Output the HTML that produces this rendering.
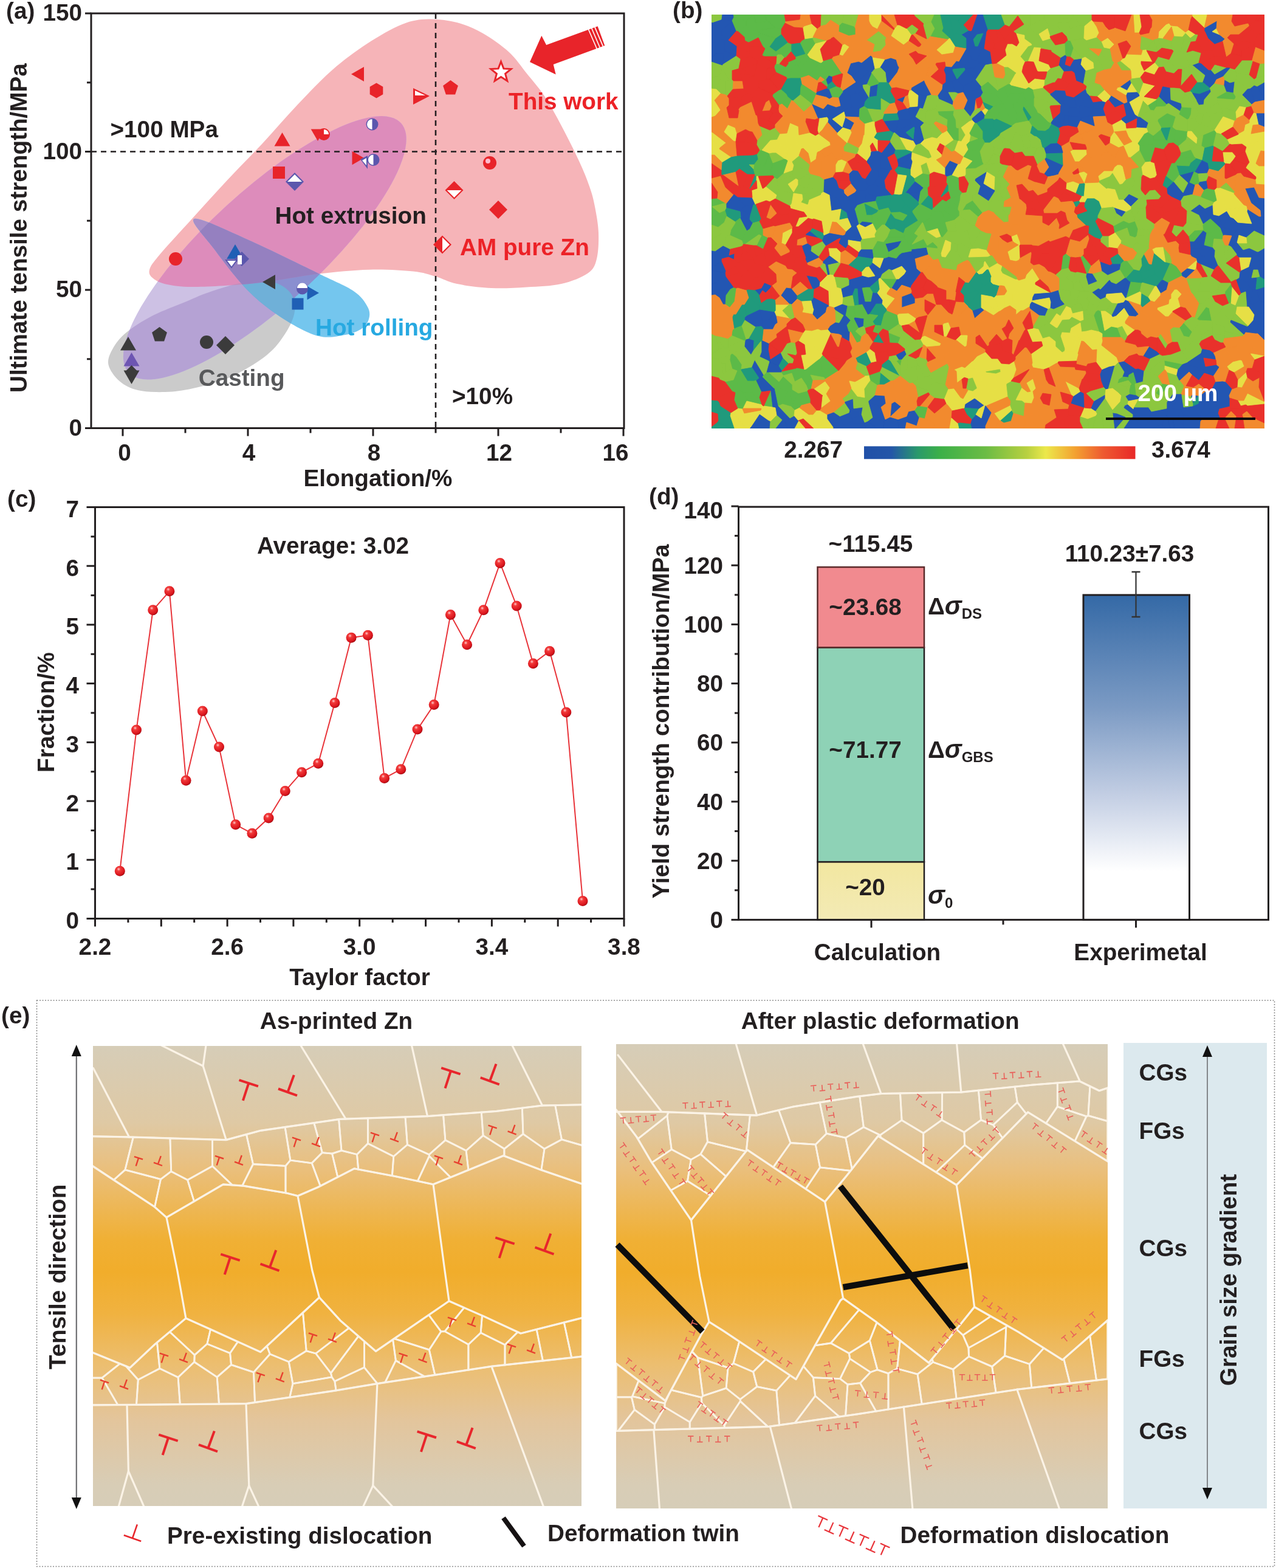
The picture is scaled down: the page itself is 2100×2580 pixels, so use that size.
<!DOCTYPE html>
<html><head><meta charset="utf-8"><title>Figure</title>
<style>html,body{margin:0;padding:0;background:#fff;overflow:hidden;width:2100px;height:2580px;}svg{display:block;}</style></head>
<body><svg width="2100" height="2580" viewBox="0 0 2100 2580" font-family="Liberation Sans, Arial, sans-serif" font-weight="bold">
<rect x="0" y="0" width="2100" height="2580" fill="#fff"/>
<defs>
<clipPath id="cpPink"><path d="M705.0,31.5 C690.0,32.0 678.8,33.2 662.0,40.0 C645.2,46.8 623.2,59.5 604.0,72.0 C584.8,84.5 566.2,98.2 547.0,115.0 C527.8,131.8 508.2,152.8 489.0,173.0 C469.8,193.2 451.2,215.4 432.0,236.0 C412.8,256.6 393.3,275.8 374.0,296.5 C354.7,317.2 334.7,339.4 316.0,360.0 C297.3,380.6 273.7,406.0 262.0,420.0 C250.3,434.0 247.7,437.7 246.0,444.0 C244.3,450.3 247.2,454.0 252.0,458.0 C256.8,462.0 263.5,465.7 275.0,468.0 C286.5,470.3 296.8,472.3 321.0,472.0 C345.2,471.7 386.7,469.5 420.0,466.0 C453.3,462.5 489.7,454.7 521.0,451.0 C552.3,447.3 581.5,444.4 608.0,443.7 C634.5,443.0 661.8,444.7 680.0,446.6 C698.2,448.5 705.0,451.6 717.0,455.0 C729.0,458.4 736.7,463.8 752.0,467.0 C767.3,470.2 789.8,473.1 809.0,474.0 C828.2,474.9 847.8,473.7 867.0,472.5 C886.2,471.3 907.2,470.9 924.0,467.0 C940.8,463.1 957.9,456.2 967.6,449.4 C977.3,442.6 979.1,437.1 982.0,426.0 C984.9,414.9 985.5,397.3 985.0,383.0 C984.5,368.7 981.4,352.5 979.0,340.0 C976.6,327.5 974.8,320.5 970.5,308.0 C966.2,295.5 960.8,281.8 953.0,265.0 C945.2,248.2 933.5,224.8 924.0,207.0 C914.5,189.2 905.5,172.3 896.0,158.0 C886.5,143.7 876.7,133.0 867.0,121.0 C857.3,109.0 850.0,97.0 838.0,86.0 C826.0,75.0 809.3,63.2 795.0,55.0 C780.7,46.8 767.0,40.9 752.0,37.0 C737.0,33.1 720.0,31.0 705.0,31.5 Z"/></clipPath>
<clipPath id="cpBlue"><path d="M320.0,360.0 C329.5,357.7 375.0,380.0 409.0,395.0 C443.0,410.0 495.2,436.0 524.0,450.0 C552.8,464.0 568.5,469.8 582.0,479.0 C595.5,488.2 600.8,497.3 605.0,505.0 C609.2,512.7 608.7,519.0 607.0,525.0 C605.3,531.0 601.5,536.7 595.0,541.0 C588.5,545.3 579.8,549.0 568.0,551.0 C556.2,553.0 540.8,557.3 524.0,553.0 C507.2,548.7 486.2,537.3 467.0,525.0 C447.8,512.7 428.2,498.3 409.0,479.0 C389.8,459.7 366.8,428.8 352.0,409.0 C337.2,389.2 310.5,362.3 320.0,360.0 Z"/></clipPath>
<clipPath id="cpGray"><path d="M178.4,599.8 C176.6,590.8 181.1,581.8 186.0,573.0 C190.9,564.2 197.3,555.8 208.0,547.0 C218.7,538.2 234.3,528.2 250.0,520.0 C265.7,511.8 286.4,504.5 302.0,498.0 C317.6,491.5 327.3,486.5 343.6,481.0 C359.9,475.5 382.6,467.8 400.0,465.0 C417.4,462.2 435.0,461.2 448.0,464.0 C461.0,466.8 471.8,474.0 478.0,482.0 C484.2,490.0 486.3,501.0 485.0,512.0 C483.7,523.0 477.8,535.9 470.0,548.0 C462.2,560.1 453.8,572.5 438.5,584.7 C423.2,596.9 398.2,612.0 378.0,621.0 C357.8,630.0 335.2,635.0 317.5,639.0 C299.8,643.0 287.1,644.5 272.0,645.0 C256.9,645.5 239.4,645.0 226.8,642.0 C214.2,639.0 204.7,634.0 196.6,627.0 C188.5,620.0 180.2,608.8 178.4,599.8 Z"/></clipPath>
<clipPath id="cpPurp"><ellipse cx="435.8" cy="407.8" rx="304" ry="93.8" transform="rotate(-42.5 435.8 407.8)"/></clipPath>
</defs>
<path fill="#cbcbcb" d="M178.4,599.8 C176.6,590.8 181.1,581.8 186.0,573.0 C190.9,564.2 197.3,555.8 208.0,547.0 C218.7,538.2 234.3,528.2 250.0,520.0 C265.7,511.8 286.4,504.5 302.0,498.0 C317.6,491.5 327.3,486.5 343.6,481.0 C359.9,475.5 382.6,467.8 400.0,465.0 C417.4,462.2 435.0,461.2 448.0,464.0 C461.0,466.8 471.8,474.0 478.0,482.0 C484.2,490.0 486.3,501.0 485.0,512.0 C483.7,523.0 477.8,535.9 470.0,548.0 C462.2,560.1 453.8,572.5 438.5,584.7 C423.2,596.9 398.2,612.0 378.0,621.0 C357.8,630.0 335.2,635.0 317.5,639.0 C299.8,643.0 287.1,644.5 272.0,645.0 C256.9,645.5 239.4,645.0 226.8,642.0 C214.2,639.0 204.7,634.0 196.6,627.0 C188.5,620.0 180.2,608.8 178.4,599.8 Z"/>
<path d="M705.0,31.5 C690.0,32.0 678.8,33.2 662.0,40.0 C645.2,46.8 623.2,59.5 604.0,72.0 C584.8,84.5 566.2,98.2 547.0,115.0 C527.8,131.8 508.2,152.8 489.0,173.0 C469.8,193.2 451.2,215.4 432.0,236.0 C412.8,256.6 393.3,275.8 374.0,296.5 C354.7,317.2 334.7,339.4 316.0,360.0 C297.3,380.6 273.7,406.0 262.0,420.0 C250.3,434.0 247.7,437.7 246.0,444.0 C244.3,450.3 247.2,454.0 252.0,458.0 C256.8,462.0 263.5,465.7 275.0,468.0 C286.5,470.3 296.8,472.3 321.0,472.0 C345.2,471.7 386.7,469.5 420.0,466.0 C453.3,462.5 489.7,454.7 521.0,451.0 C552.3,447.3 581.5,444.4 608.0,443.7 C634.5,443.0 661.8,444.7 680.0,446.6 C698.2,448.5 705.0,451.6 717.0,455.0 C729.0,458.4 736.7,463.8 752.0,467.0 C767.3,470.2 789.8,473.1 809.0,474.0 C828.2,474.9 847.8,473.7 867.0,472.5 C886.2,471.3 907.2,470.9 924.0,467.0 C940.8,463.1 957.9,456.2 967.6,449.4 C977.3,442.6 979.1,437.1 982.0,426.0 C984.9,414.9 985.5,397.3 985.0,383.0 C984.5,368.7 981.4,352.5 979.0,340.0 C976.6,327.5 974.8,320.5 970.5,308.0 C966.2,295.5 960.8,281.8 953.0,265.0 C945.2,248.2 933.5,224.8 924.0,207.0 C914.5,189.2 905.5,172.3 896.0,158.0 C886.5,143.7 876.7,133.0 867.0,121.0 C857.3,109.0 850.0,97.0 838.0,86.0 C826.0,75.0 809.3,63.2 795.0,55.0 C780.7,46.8 767.0,40.9 752.0,37.0 C737.0,33.1 720.0,31.0 705.0,31.5 Z" fill="#f6b4b8"/>
<ellipse fill="#cdc1e4" cx="435.8" cy="407.8" rx="304" ry="93.8" transform="rotate(-42.5 435.8 407.8)"/>
<g clip-path="url(#cpGray)"><path d="M705.0,31.5 C690.0,32.0 678.8,33.2 662.0,40.0 C645.2,46.8 623.2,59.5 604.0,72.0 C584.8,84.5 566.2,98.2 547.0,115.0 C527.8,131.8 508.2,152.8 489.0,173.0 C469.8,193.2 451.2,215.4 432.0,236.0 C412.8,256.6 393.3,275.8 374.0,296.5 C354.7,317.2 334.7,339.4 316.0,360.0 C297.3,380.6 273.7,406.0 262.0,420.0 C250.3,434.0 247.7,437.7 246.0,444.0 C244.3,450.3 247.2,454.0 252.0,458.0 C256.8,462.0 263.5,465.7 275.0,468.0 C286.5,470.3 296.8,472.3 321.0,472.0 C345.2,471.7 386.7,469.5 420.0,466.0 C453.3,462.5 489.7,454.7 521.0,451.0 C552.3,447.3 581.5,444.4 608.0,443.7 C634.5,443.0 661.8,444.7 680.0,446.6 C698.2,448.5 705.0,451.6 717.0,455.0 C729.0,458.4 736.7,463.8 752.0,467.0 C767.3,470.2 789.8,473.1 809.0,474.0 C828.2,474.9 847.8,473.7 867.0,472.5 C886.2,471.3 907.2,470.9 924.0,467.0 C940.8,463.1 957.9,456.2 967.6,449.4 C977.3,442.6 979.1,437.1 982.0,426.0 C984.9,414.9 985.5,397.3 985.0,383.0 C984.5,368.7 981.4,352.5 979.0,340.0 C976.6,327.5 974.8,320.5 970.5,308.0 C966.2,295.5 960.8,281.8 953.0,265.0 C945.2,248.2 933.5,224.8 924.0,207.0 C914.5,189.2 905.5,172.3 896.0,158.0 C886.5,143.7 876.7,133.0 867.0,121.0 C857.3,109.0 850.0,97.0 838.0,86.0 C826.0,75.0 809.3,63.2 795.0,55.0 C780.7,46.8 767.0,40.9 752.0,37.0 C737.0,33.1 720.0,31.0 705.0,31.5 Z" fill="#e4a5ad"/></g>
<g clip-path="url(#cpPurp)"><path d="M705.0,31.5 C690.0,32.0 678.8,33.2 662.0,40.0 C645.2,46.8 623.2,59.5 604.0,72.0 C584.8,84.5 566.2,98.2 547.0,115.0 C527.8,131.8 508.2,152.8 489.0,173.0 C469.8,193.2 451.2,215.4 432.0,236.0 C412.8,256.6 393.3,275.8 374.0,296.5 C354.7,317.2 334.7,339.4 316.0,360.0 C297.3,380.6 273.7,406.0 262.0,420.0 C250.3,434.0 247.7,437.7 246.0,444.0 C244.3,450.3 247.2,454.0 252.0,458.0 C256.8,462.0 263.5,465.7 275.0,468.0 C286.5,470.3 296.8,472.3 321.0,472.0 C345.2,471.7 386.7,469.5 420.0,466.0 C453.3,462.5 489.7,454.7 521.0,451.0 C552.3,447.3 581.5,444.4 608.0,443.7 C634.5,443.0 661.8,444.7 680.0,446.6 C698.2,448.5 705.0,451.6 717.0,455.0 C729.0,458.4 736.7,463.8 752.0,467.0 C767.3,470.2 789.8,473.1 809.0,474.0 C828.2,474.9 847.8,473.7 867.0,472.5 C886.2,471.3 907.2,470.9 924.0,467.0 C940.8,463.1 957.9,456.2 967.6,449.4 C977.3,442.6 979.1,437.1 982.0,426.0 C984.9,414.9 985.5,397.3 985.0,383.0 C984.5,368.7 981.4,352.5 979.0,340.0 C976.6,327.5 974.8,320.5 970.5,308.0 C966.2,295.5 960.8,281.8 953.0,265.0 C945.2,248.2 933.5,224.8 924.0,207.0 C914.5,189.2 905.5,172.3 896.0,158.0 C886.5,143.7 876.7,133.0 867.0,121.0 C857.3,109.0 850.0,97.0 838.0,86.0 C826.0,75.0 809.3,63.2 795.0,55.0 C780.7,46.8 767.0,40.9 752.0,37.0 C737.0,33.1 720.0,31.0 705.0,31.5 Z" fill="#dd8cbb"/></g>
<g clip-path="url(#cpPurp)"><path fill="#b5a2d4" d="M178.4,599.8 C176.6,590.8 181.1,581.8 186.0,573.0 C190.9,564.2 197.3,555.8 208.0,547.0 C218.7,538.2 234.3,528.2 250.0,520.0 C265.7,511.8 286.4,504.5 302.0,498.0 C317.6,491.5 327.3,486.5 343.6,481.0 C359.9,475.5 382.6,467.8 400.0,465.0 C417.4,462.2 435.0,461.2 448.0,464.0 C461.0,466.8 471.8,474.0 478.0,482.0 C484.2,490.0 486.3,501.0 485.0,512.0 C483.7,523.0 477.8,535.9 470.0,548.0 C462.2,560.1 453.8,572.5 438.5,584.7 C423.2,596.9 398.2,612.0 378.0,621.0 C357.8,630.0 335.2,635.0 317.5,639.0 C299.8,643.0 287.1,644.5 272.0,645.0 C256.9,645.5 239.4,645.0 226.8,642.0 C214.2,639.0 204.7,634.0 196.6,627.0 C188.5,620.0 180.2,608.8 178.4,599.8 Z"/></g>
<g clip-path="url(#cpPurp)"><g clip-path="url(#cpGray)"><path d="M705.0,31.5 C690.0,32.0 678.8,33.2 662.0,40.0 C645.2,46.8 623.2,59.5 604.0,72.0 C584.8,84.5 566.2,98.2 547.0,115.0 C527.8,131.8 508.2,152.8 489.0,173.0 C469.8,193.2 451.2,215.4 432.0,236.0 C412.8,256.6 393.3,275.8 374.0,296.5 C354.7,317.2 334.7,339.4 316.0,360.0 C297.3,380.6 273.7,406.0 262.0,420.0 C250.3,434.0 247.7,437.7 246.0,444.0 C244.3,450.3 247.2,454.0 252.0,458.0 C256.8,462.0 263.5,465.7 275.0,468.0 C286.5,470.3 296.8,472.3 321.0,472.0 C345.2,471.7 386.7,469.5 420.0,466.0 C453.3,462.5 489.7,454.7 521.0,451.0 C552.3,447.3 581.5,444.4 608.0,443.7 C634.5,443.0 661.8,444.7 680.0,446.6 C698.2,448.5 705.0,451.6 717.0,455.0 C729.0,458.4 736.7,463.8 752.0,467.0 C767.3,470.2 789.8,473.1 809.0,474.0 C828.2,474.9 847.8,473.7 867.0,472.5 C886.2,471.3 907.2,470.9 924.0,467.0 C940.8,463.1 957.9,456.2 967.6,449.4 C977.3,442.6 979.1,437.1 982.0,426.0 C984.9,414.9 985.5,397.3 985.0,383.0 C984.5,368.7 981.4,352.5 979.0,340.0 C976.6,327.5 974.8,320.5 970.5,308.0 C966.2,295.5 960.8,281.8 953.0,265.0 C945.2,248.2 933.5,224.8 924.0,207.0 C914.5,189.2 905.5,172.3 896.0,158.0 C886.5,143.7 876.7,133.0 867.0,121.0 C857.3,109.0 850.0,97.0 838.0,86.0 C826.0,75.0 809.3,63.2 795.0,55.0 C780.7,46.8 767.0,40.9 752.0,37.0 C737.0,33.1 720.0,31.0 705.0,31.5 Z" fill="#c98ab8"/></g></g>
<path d="M320.0,360.0 C329.5,357.7 375.0,380.0 409.0,395.0 C443.0,410.0 495.2,436.0 524.0,450.0 C552.8,464.0 568.5,469.8 582.0,479.0 C595.5,488.2 600.8,497.3 605.0,505.0 C609.2,512.7 608.7,519.0 607.0,525.0 C605.3,531.0 601.5,536.7 595.0,541.0 C588.5,545.3 579.8,549.0 568.0,551.0 C556.2,553.0 540.8,557.3 524.0,553.0 C507.2,548.7 486.2,537.3 467.0,525.0 C447.8,512.7 428.2,498.3 409.0,479.0 C389.8,459.7 366.8,428.8 352.0,409.0 C337.2,389.2 310.5,362.3 320.0,360.0 Z" fill="#74c6ee"/>
<g clip-path="url(#cpBlue)"><ellipse fill="#8a8fd0" cx="435.8" cy="407.8" rx="304" ry="93.8" transform="rotate(-42.5 435.8 407.8)"/></g>
<g clip-path="url(#cpBlue)"><path fill="#6fb0d8" d="M178.4,599.8 C176.6,590.8 181.1,581.8 186.0,573.0 C190.9,564.2 197.3,555.8 208.0,547.0 C218.7,538.2 234.3,528.2 250.0,520.0 C265.7,511.8 286.4,504.5 302.0,498.0 C317.6,491.5 327.3,486.5 343.6,481.0 C359.9,475.5 382.6,467.8 400.0,465.0 C417.4,462.2 435.0,461.2 448.0,464.0 C461.0,466.8 471.8,474.0 478.0,482.0 C484.2,490.0 486.3,501.0 485.0,512.0 C483.7,523.0 477.8,535.9 470.0,548.0 C462.2,560.1 453.8,572.5 438.5,584.7 C423.2,596.9 398.2,612.0 378.0,621.0 C357.8,630.0 335.2,635.0 317.5,639.0 C299.8,643.0 287.1,644.5 272.0,645.0 C256.9,645.5 239.4,645.0 226.8,642.0 C214.2,639.0 204.7,634.0 196.6,627.0 C188.5,620.0 180.2,608.8 178.4,599.8 Z"/></g>
<g clip-path="url(#cpBlue)"><path d="M705.0,31.5 C690.0,32.0 678.8,33.2 662.0,40.0 C645.2,46.8 623.2,59.5 604.0,72.0 C584.8,84.5 566.2,98.2 547.0,115.0 C527.8,131.8 508.2,152.8 489.0,173.0 C469.8,193.2 451.2,215.4 432.0,236.0 C412.8,256.6 393.3,275.8 374.0,296.5 C354.7,317.2 334.7,339.4 316.0,360.0 C297.3,380.6 273.7,406.0 262.0,420.0 C250.3,434.0 247.7,437.7 246.0,444.0 C244.3,450.3 247.2,454.0 252.0,458.0 C256.8,462.0 263.5,465.7 275.0,468.0 C286.5,470.3 296.8,472.3 321.0,472.0 C345.2,471.7 386.7,469.5 420.0,466.0 C453.3,462.5 489.7,454.7 521.0,451.0 C552.3,447.3 581.5,444.4 608.0,443.7 C634.5,443.0 661.8,444.7 680.0,446.6 C698.2,448.5 705.0,451.6 717.0,455.0 C729.0,458.4 736.7,463.8 752.0,467.0 C767.3,470.2 789.8,473.1 809.0,474.0 C828.2,474.9 847.8,473.7 867.0,472.5 C886.2,471.3 907.2,470.9 924.0,467.0 C940.8,463.1 957.9,456.2 967.6,449.4 C977.3,442.6 979.1,437.1 982.0,426.0 C984.9,414.9 985.5,397.3 985.0,383.0 C984.5,368.7 981.4,352.5 979.0,340.0 C976.6,327.5 974.8,320.5 970.5,308.0 C966.2,295.5 960.8,281.8 953.0,265.0 C945.2,248.2 933.5,224.8 924.0,207.0 C914.5,189.2 905.5,172.3 896.0,158.0 C886.5,143.7 876.7,133.0 867.0,121.0 C857.3,109.0 850.0,97.0 838.0,86.0 C826.0,75.0 809.3,63.2 795.0,55.0 C780.7,46.8 767.0,40.9 752.0,37.0 C737.0,33.1 720.0,31.0 705.0,31.5 Z" fill="#a88fc8"/></g>
<g clip-path="url(#cpBlue)"><g clip-path="url(#cpPurp)"><path d="M705.0,31.5 C690.0,32.0 678.8,33.2 662.0,40.0 C645.2,46.8 623.2,59.5 604.0,72.0 C584.8,84.5 566.2,98.2 547.0,115.0 C527.8,131.8 508.2,152.8 489.0,173.0 C469.8,193.2 451.2,215.4 432.0,236.0 C412.8,256.6 393.3,275.8 374.0,296.5 C354.7,317.2 334.7,339.4 316.0,360.0 C297.3,380.6 273.7,406.0 262.0,420.0 C250.3,434.0 247.7,437.7 246.0,444.0 C244.3,450.3 247.2,454.0 252.0,458.0 C256.8,462.0 263.5,465.7 275.0,468.0 C286.5,470.3 296.8,472.3 321.0,472.0 C345.2,471.7 386.7,469.5 420.0,466.0 C453.3,462.5 489.7,454.7 521.0,451.0 C552.3,447.3 581.5,444.4 608.0,443.7 C634.5,443.0 661.8,444.7 680.0,446.6 C698.2,448.5 705.0,451.6 717.0,455.0 C729.0,458.4 736.7,463.8 752.0,467.0 C767.3,470.2 789.8,473.1 809.0,474.0 C828.2,474.9 847.8,473.7 867.0,472.5 C886.2,471.3 907.2,470.9 924.0,467.0 C940.8,463.1 957.9,456.2 967.6,449.4 C977.3,442.6 979.1,437.1 982.0,426.0 C984.9,414.9 985.5,397.3 985.0,383.0 C984.5,368.7 981.4,352.5 979.0,340.0 C976.6,327.5 974.8,320.5 970.5,308.0 C966.2,295.5 960.8,281.8 953.0,265.0 C945.2,248.2 933.5,224.8 924.0,207.0 C914.5,189.2 905.5,172.3 896.0,158.0 C886.5,143.7 876.7,133.0 867.0,121.0 C857.3,109.0 850.0,97.0 838.0,86.0 C826.0,75.0 809.3,63.2 795.0,55.0 C780.7,46.8 767.0,40.9 752.0,37.0 C737.0,33.1 720.0,31.0 705.0,31.5 Z" fill="#9580c0"/></g></g>
<line x1="150" y1="249.5" x2="1027" y2="249.5" stroke="#231f20" stroke-width="2.6" stroke-dasharray="9 7"/>
<line x1="717.0" y1="22" x2="717.0" y2="704" stroke="#231f20" stroke-width="2.6" stroke-dasharray="9 7"/>
<polygon points="578.0,122.0 599.0,109.9 599.0,134.1" fill="#e8242a" stroke="none" stroke-width="0"/>
<polygon points="619.5,136.5 630.3,142.8 630.3,155.2 619.5,161.5 608.7,155.2 608.7,142.8" fill="#e8242a" stroke="none" stroke-width="0"/>
<g><polygon points="680,145 707,158 680,172" fill="#e8242a"/><polygon points="683,149 700,157 683,157" fill="#fff"/></g>
<polygon points="741.5,132.0 753.9,141.0 749.1,155.5 733.9,155.5 729.1,141.0" fill="#e8242a" stroke="none" stroke-width="0"/>
<polygon points="824.5,101.5 828.9,112.9 841.1,113.6 831.6,121.3 834.8,133.2 824.5,126.5 814.2,133.2 817.4,121.3 807.9,113.6 820.1,112.9" fill="#fff" stroke="#e8242a" stroke-width="3"/>
<polygon points="464.5,218.0 477.5,240.5 451.5,240.5" fill="#e8242a" stroke="none" stroke-width="0"/>
<polygon points="523.0,232.0 511.7,212.5 534.3,212.5" fill="#e8242a" stroke="none" stroke-width="0"/>
<circle cx="533" cy="221" r="10" fill="#e8242a"/><path d="M533,221 L533,213 A8,8 0 0 1 541,221 Z" fill="#fff"/>
<g transform="rotate(0 612.5 204.5)"><circle cx="612.5" cy="204.5" r="10" fill="#5b57ad"/><path d="M612.5,196.0 A8.5,8.5 0 0 0 612.5,213.0 Z" fill="#fff"/></g>
<polygon points="599.0,260.0 579.5,271.3 579.5,248.7" fill="#e8242a" stroke="none" stroke-width="0"/>
<polygon points="593,262 605,256 605,278" fill="#5b57ad"/><polygon points="596,264 603,260 603,272" fill="#fff"/>
<g transform="rotate(0 614.5 263)"><circle cx="614.5" cy="263" r="10" fill="#5b57ad"/><path d="M614.5,254.5 A8.5,8.5 0 0 0 614.5,271.5 Z" fill="#fff"/></g>
<rect x="449.0" y="274.0" width="20" height="20" fill="#e8242a"/>
<g transform="rotate(0 485 299)"><polygon points="485,284 500,299 485,314 470,299" fill="#5b57ad"/><polygon points="485,287 497,299 473,299" fill="#fff"/></g>
<circle cx="806" cy="268" r="11" fill="#e8242a"/><circle cx="803" cy="265" r="4" fill="#fbc"/>
<g transform="rotate(0 747.5 313)"><polygon points="747.5,298 762.5,313 747.5,328 732.5,313" fill="#e8242a"/><polygon points="735.5,313 759.5,313 747.5,325" fill="#fff"/></g>
<polygon points="820.0,330.0 835.0,345.0 820.0,360.0 805.0,345.0" fill="#e8242a" stroke="none" stroke-width="0"/>
<g transform="rotate(-90 728 402.5)"><polygon points="728,387.5 743,402.5 728,417.5 713,402.5" fill="#e8242a"/><polygon points="716,402.5 740,402.5 728,414.5" fill="#fff"/></g>
<circle cx="289" cy="426" r="11" fill="#e8242a" stroke="none" stroke-width="0"/>
<polygon points="387.0,402.0 400.9,426.0 373.1,426.0" fill="#1f5fb5" stroke="none" stroke-width="0"/>
<polygon points="398.0,414.0 410.0,426.0 398.0,438.0 386.0,426.0" fill="#5b57ad" stroke="none" stroke-width="0"/>
<polygon points="372,428 390,428 381,440" fill="#fff" stroke="#5b57ad" stroke-width="2"/>
<rect x="391" y="420" width="7" height="15" fill="#fff"/>
<polygon points="432.0,464.0 453.0,451.9 453.0,476.1" fill="#3b3b3b" stroke="none" stroke-width="0"/>
<polygon points="525.0,482.0 505.5,493.3 505.5,470.7" fill="#1f5fb5" stroke="none" stroke-width="0"/>
<circle cx="497.5" cy="475" r="9.5" fill="#5b57ad"/><path d="M489,474 A8.5,8.5 0 0 1 506,474 Z" fill="#fff"/>
<rect x="480.5" y="490.5" width="19" height="19" fill="#1f5fb5"/>
<polygon points="211.0,554.0 224.0,576.5 198.0,576.5" fill="#3b3b3b" stroke="none" stroke-width="0"/>
<polygon points="216.5,580.0 229.5,602.5 203.5,602.5" fill="#6d55b2" stroke="none" stroke-width="0"/>
<polygon points="216.5,632.0 203.5,609.5 229.5,609.5" fill="#3b3b3b" stroke="none" stroke-width="0"/>
<polygon points="216.5,601.0 227.5,612.0 216.5,623.0 205.5,612.0" fill="#3b3b3b" stroke="none" stroke-width="0"/>
<polygon points="262.5,538.0 274.9,547.0 270.1,561.5 254.9,561.5 250.1,547.0" fill="#3b3b3b" stroke="none" stroke-width="0"/>
<circle cx="340" cy="563" r="11" fill="#3b3b3b" stroke="none" stroke-width="0"/>
<polygon points="371.0,553.0 386.0,568.0 371.0,583.0 356.0,568.0" fill="#3b3b3b" stroke="none" stroke-width="0"/>
<polygon points="872.0,102.0 891.3,58.7 899.1,74.0 983.6,43.2 995.3,75.1 910.7,106.0 914.7,122.6" fill="#e8242a" stroke="none" stroke-width="0"/>
<line x1="968.2" y1="47.7" x2="982.5" y2="80.8" stroke="#fff" stroke-width="1.6"/>
<line x1="973.4" y1="45.8" x2="987.6" y2="79.0" stroke="#fff" stroke-width="1.6"/>
<line x1="978.6" y1="43.9" x2="992.8" y2="77.1" stroke="#fff" stroke-width="1.6"/>
<rect x="150" y="22" width="877" height="682.5" fill="none" stroke="#231f20" stroke-width="3"/>
<line x1="140.0" y1="704.5" x2="150.0" y2="704.5" stroke="#231f20" stroke-width="3" />
<line x1="143.0" y1="590.8" x2="150.0" y2="590.8" stroke="#231f20" stroke-width="3" />
<line x1="140.0" y1="477.0" x2="150.0" y2="477.0" stroke="#231f20" stroke-width="3" />
<line x1="143.0" y1="363.2" x2="150.0" y2="363.2" stroke="#231f20" stroke-width="3" />
<line x1="140.0" y1="249.5" x2="150.0" y2="249.5" stroke="#231f20" stroke-width="3" />
<line x1="143.0" y1="135.8" x2="150.0" y2="135.8" stroke="#231f20" stroke-width="3" />
<line x1="140.0" y1="22.0" x2="150.0" y2="22.0" stroke="#231f20" stroke-width="3" />
<line x1="202.0" y1="704.5" x2="202.0" y2="717.5" stroke="#231f20" stroke-width="3" />
<line x1="305.0" y1="704.5" x2="305.0" y2="712.5" stroke="#231f20" stroke-width="3" />
<line x1="408.0" y1="704.5" x2="408.0" y2="717.5" stroke="#231f20" stroke-width="3" />
<line x1="511.0" y1="704.5" x2="511.0" y2="712.5" stroke="#231f20" stroke-width="3" />
<line x1="614.0" y1="704.5" x2="614.0" y2="717.5" stroke="#231f20" stroke-width="3" />
<line x1="717.0" y1="704.5" x2="717.0" y2="712.5" stroke="#231f20" stroke-width="3" />
<line x1="820.0" y1="704.5" x2="820.0" y2="717.5" stroke="#231f20" stroke-width="3" />
<line x1="923.0" y1="704.5" x2="923.0" y2="712.5" stroke="#231f20" stroke-width="3" />
<line x1="1026.0" y1="704.5" x2="1026.0" y2="717.5" stroke="#231f20" stroke-width="3" />
<text x="135.0" y="716.5" font-size="38.7" text-anchor="end" fill="#231f20" >0</text>
<text x="135.0" y="489.0" font-size="38.7" text-anchor="end" fill="#231f20" >50</text>
<text x="135.0" y="261.5" font-size="38.7" text-anchor="end" fill="#231f20" >100</text>
<text x="135.0" y="34.0" font-size="38.7" text-anchor="end" fill="#231f20" >150</text>
<text x="205.0" y="758.0" font-size="38.7" text-anchor="middle" fill="#231f20" >0</text>
<text x="409.5" y="758.0" font-size="38.7" text-anchor="middle" fill="#231f20" >4</text>
<text x="615.5" y="758.0" font-size="38.7" text-anchor="middle" fill="#231f20" >8</text>
<text x="821.5" y="758.0" font-size="38.7" text-anchor="middle" fill="#231f20" >12</text>
<text x="1013.0" y="758.0" font-size="38.7" text-anchor="middle" fill="#231f20" >16</text>
<text x="622.0" y="800.0" font-size="38.7" text-anchor="middle" fill="#231f20" >Elongation/%</text>
<text transform="translate(44,375) rotate(-90)" font-size="38.7" text-anchor="middle" fill="#231f20">Ultimate tensile strength/MPa</text>
<text x="10.0" y="31.0" font-size="38.7" text-anchor="start" fill="#231f20" >(a)</text>
<text x="181.5" y="225.6" font-size="38.7" text-anchor="start" fill="#231f20" >&gt;100 MPa</text>
<text x="744.0" y="665.0" font-size="38.7" text-anchor="start" fill="#231f20" >&gt;10%</text>
<text x="837.0" y="180.0" font-size="38.7" text-anchor="start" fill="#ec2227" >This work</text>
<text x="757.0" y="420.0" font-size="38.7" text-anchor="start" fill="#ec2227" >AM pure Zn</text>
<text x="452.5" y="368.0" font-size="38.7" text-anchor="start" fill="#231f20" >Hot extrusion</text>
<text x="519.0" y="551.7" font-size="38.7" text-anchor="start" fill="#27a9e1" >Hot rolling</text>
<text x="326.7" y="635.0" font-size="38.7" text-anchor="start" fill="#58595b" >Casting</text>
<defs><clipPath id="ebsdclip"><rect x="1171" y="24" width="910" height="681"/></clipPath></defs>
<g clip-path="url(#ebsdclip)"><rect x="1171" y="24" width="910" height="681" fill="#8cc73f"/>
<path d="M1176,69 L1189,65 L1187,51 L1172,37 L1171,36 L1171,69ZM1187,32 L1205,34 L1208,28 L1207,24 L1188,24ZM1205,34 L1187,51 L1189,65 L1192,66 L1199,66 L1212,51ZM1205,34 L1205,34 L1187,32 L1172,37 L1187,51ZM1608,57 L1599,50 L1598,51 L1595,61 L1602,65ZM1599,50 L1608,57 L1618,55 L1624,52 L1625,51 L1626,49 L1618,24 L1608,24ZM1595,61 L1598,51 L1594,50 L1582,57 L1590,63ZM2002,47 L2003,34 L1982,46 L1982,51 L1983,52 L1995,52ZM2012,68 L2016,64 L2007,57 L1995,52 L1983,52 L1988,63 L1999,73ZM1192,66 L1189,65 L1176,69 L1179,87 L1191,87 L1193,84ZM1189,108 L1190,106 L1191,87 L1179,87 L1171,97 L1171,102ZM1212,91 L1193,84 L1191,87 L1190,106 L1212,92ZM1213,76 L1199,66 L1192,66 L1193,84 L1212,91ZM1179,87 L1176,69 L1171,69 L1171,97ZM1599,97 L1595,82 L1590,80 L1590,80 L1578,101 L1587,109ZM1602,65 L1595,61 L1590,63 L1590,80 L1595,82 L1605,76ZM1633,105 L1630,85 L1620,80 L1617,79 L1607,100 L1613,103 L1622,107ZM1620,80 L1624,52 L1618,55 L1609,76 L1617,79ZM1617,79 L1609,76 L1605,76 L1595,82 L1599,97 L1607,100ZM1753,90 L1745,95 L1742,108 L1743,108 L1753,106 L1756,93ZM1359,131 L1362,140 L1370,134 L1370,126 L1364,124ZM1418,103 L1422,111 L1429,118 L1434,120 L1440,113 L1436,94 L1433,91ZM1434,120 L1429,118 L1411,135 L1420,140 L1427,139 L1435,120ZM1400,104 L1394,120 L1401,125 L1422,111 L1418,103 L1413,101ZM1408,135 L1409,135 L1411,135 L1429,118 L1422,111 L1401,125ZM1457,119 L1459,135 L1463,137 L1477,119 L1480,111 L1478,108 L1477,108ZM1450,112 L1457,119 L1477,108ZM1448,111 L1450,112 L1477,108 L1478,108 L1475,98 L1466,95 L1456,98ZM1566,110 L1556,109 L1553,115 L1556,123 L1568,116 L1568,114ZM1556,123 L1556,135 L1567,134 L1575,131 L1575,130 L1568,116ZM1587,109 L1578,101 L1574,100 L1566,110 L1568,114 L1587,112ZM1598,123 L1588,115 L1575,130 L1575,131 L1585,142 L1606,131 L1606,131ZM1622,107 L1613,103 L1604,111 L1598,123 L1606,131ZM1588,115 L1598,123 L1604,111 L1588,114ZM1604,111 L1613,103 L1607,100 L1599,97 L1587,109 L1587,112 L1588,114ZM1764,117 L1768,120 L1779,106 L1781,96 L1781,96 L1767,98 L1761,109ZM1753,106 L1743,108 L1751,118 L1764,117 L1761,109ZM1779,106 L1768,120 L1771,133 L1783,138 L1787,116ZM1989,115 L1977,104 L1973,103 L1962,107 L1983,124ZM1999,122 L1993,115 L1989,115 L1983,124 L1979,135 L1991,145 L1999,137 L2002,131ZM2025,112 L2024,111 L2018,111 L1999,122 L2002,131 L2013,126ZM2014,140 L2014,140 L2024,136 L2015,131ZM1343,153 L1343,156 L1360,160 L1361,145 L1344,151ZM1361,145 L1360,160 L1365,163 L1370,160 L1365,147 L1361,145ZM1390,180 L1402,176 L1399,157 L1387,151 L1380,161 L1383,174ZM1387,149 L1387,151 L1399,157 L1408,153 L1409,135 L1408,135ZM1411,135 L1409,135 L1408,153 L1412,155 L1421,145 L1420,140ZM1421,145 L1412,155 L1424,167 L1430,160ZM1399,157 L1402,176 L1415,179 L1422,175 L1424,167 L1412,155 L1408,153ZM1432,142 L1430,160 L1443,158 L1445,138ZM1475,164 L1486,169 L1490,158ZM1519,179 L1526,158 L1514,156 L1511,157 L1510,175 L1514,178ZM1523,137 L1521,132 L1500,144 L1499,148 L1511,157 L1514,156ZM1526,158 L1533,156 L1523,137 L1514,156ZM1556,135 L1551,139 L1550,147 L1561,152 L1572,152 L1567,134ZM1550,147 L1543,157 L1545,163 L1568,173 L1569,167 L1561,152ZM1567,134 L1572,152 L1577,154 L1585,152 L1585,142 L1575,131ZM1614,159 L1618,152 L1615,146 L1585,152 L1592,165 L1606,163ZM1585,142 L1585,152 L1585,152 L1615,146 L1615,142 L1606,131ZM1606,165 L1606,163 L1592,165 L1586,179 L1597,192 L1604,181ZM1732,152 L1728,154 L1728,156 L1746,173 L1750,170 L1750,169ZM1775,177 L1779,174 L1789,153 L1787,146 L1767,160 L1773,176ZM1750,170 L1761,176 L1773,176 L1767,160 L1755,157 L1750,169ZM1755,157 L1753,149 L1737,148 L1732,152 L1750,169ZM1789,153 L1779,174 L1799,178 L1799,168 L1794,158ZM1799,168 L1799,178 L1800,178 L1816,179 L1820,168 L1814,166ZM1828,158 L1824,164 L1835,177 L1849,171 L1850,170 L1829,157ZM1860,131 L1843,143 L1855,149 L1862,137ZM1855,152 L1853,157 L1855,168 L1859,168 L1876,158 L1875,155 L1871,151ZM1913,142 L1907,159 L1920,172 L1923,170 L1927,164 L1926,144 L1925,144 L1915,142ZM1945,176 L1944,170 L1927,164 L1923,170 L1942,183ZM1969,165 L1969,166 L1973,173 L1981,172 L1982,164 L1974,162ZM1982,164 L1993,151 L1992,147 L1974,154 L1974,162ZM1974,154 L1961,152 L1969,165 L1974,162ZM2032,134 L2024,136 L2014,140 L2018,151 L2030,153ZM2069,142 L2070,143 L2081,143 L2081,135ZM2053,146 L2044,156 L2060,172 L2065,168 L2058,145ZM2070,143 L2081,164 L2081,143ZM2070,143 L2069,142 L2064,140 L2058,145 L2065,168 L2081,165 L2081,164ZM1361,193 L1361,189 L1355,179 L1337,171 L1336,171 L1336,172 L1346,195 L1348,195ZM1376,176 L1362,171 L1355,179 L1361,189ZM1363,196 L1362,201 L1378,219 L1387,210 L1386,209 L1370,196ZM1386,209 L1387,210 L1400,214 L1406,202 L1391,193ZM1390,180 L1383,174 L1376,176 L1361,189 L1361,193 L1363,196 L1370,196 L1389,184ZM1414,193 L1415,179 L1402,176 L1390,180 L1389,184 L1391,192ZM1479,197 L1454,199 L1464,215 L1471,219 L1472,218 L1474,217ZM1499,204 L1497,197 L1479,196 L1479,197 L1474,217 L1475,216ZM1495,178 L1492,178 L1478,182 L1476,186 L1479,196 L1497,197 L1498,195ZM1507,192 L1514,178 L1510,175 L1497,176 L1495,178 L1498,195ZM1504,209 L1499,204 L1475,216 L1491,218ZM1505,210 L1515,208 L1521,202 L1507,192 L1498,195 L1497,197 L1499,204 L1504,209ZM1604,202 L1607,203 L1620,195 L1621,189 L1616,182 L1614,182 L1599,195 L1600,198ZM1758,207 L1773,210 L1778,199 L1779,194 L1778,192 L1758,191ZM1757,190 L1752,190 L1749,208 L1758,207 L1758,191ZM1778,192 L1775,177 L1773,176 L1761,176 L1757,190 L1758,191ZM1761,176 L1750,170 L1746,173 L1745,173 L1744,186 L1752,190 L1757,190ZM1744,186 L1733,196 L1729,202 L1730,204 L1743,211 L1749,208 L1752,190ZM1778,199 L1801,208 L1802,207 L1799,192 L1795,190 L1779,194ZM1778,192 L1779,194 L1795,190 L1800,178 L1799,178 L1779,174 L1775,177ZM1816,179 L1800,178 L1795,190 L1799,192 L1820,191ZM1853,204 L1871,195 L1873,192 L1872,191 L1868,188 L1853,190 L1846,194 L1845,197ZM1868,188 L1859,168 L1855,168 L1850,170 L1849,171 L1849,172 L1853,190ZM1871,210 L1887,211 L1890,202 L1876,192 L1873,192 L1871,195 L1870,210ZM2071,205 L2081,209 L2081,186 L2067,186ZM1461,259 L1472,253 L1474,246 L1465,233 L1451,251 L1452,257ZM1475,216 L1474,217 L1472,218 L1481,226 L1503,232 L1503,229 L1491,218ZM1521,230 L1515,208 L1505,210 L1503,229 L1503,232 L1507,239 L1515,236ZM1721,253 L1749,252 L1750,251 L1747,240 L1740,235 L1729,236 L1718,244ZM1434,279 L1445,281 L1450,277 L1449,261 L1445,262 L1430,271ZM1450,277 L1466,280 L1469,279 L1461,259 L1452,257 L1449,261ZM1430,271 L1445,262 L1432,256 L1426,265 L1427,268ZM1449,261 L1452,257 L1451,251 L1445,248 L1443,248 L1434,249 L1433,250 L1432,256 L1445,262ZM1502,266 L1500,261 L1478,271 L1477,274 L1499,279ZM1501,250 L1476,262 L1478,271 L1500,261 L1501,251ZM1577,270 L1563,264 L1555,276 L1555,288 L1558,291 L1567,288ZM1719,262 L1726,275 L1743,284 L1750,272 L1721,259ZM1742,287 L1743,284 L1726,275 L1718,286 L1724,291 L1735,289ZM1966,283 L1972,286 L1987,285 L1990,278 L1988,268 L1978,263ZM1390,318 L1379,327 L1385,339 L1396,328 L1395,323ZM1381,309 L1368,321 L1379,327 L1390,318 L1389,312ZM1356,295 L1355,316 L1365,321 L1368,321 L1381,309 L1377,297 L1371,291ZM1426,317 L1425,314 L1409,313 L1407,316 L1408,336 L1411,338 L1422,334 L1422,334ZM1419,292 L1412,281 L1407,280 L1403,280 L1397,286 L1398,297 L1400,300ZM1396,328 L1408,336 L1407,316 L1395,323ZM1409,313 L1425,314 L1429,306 L1424,294 L1419,292 L1400,300 L1400,302ZM1437,304 L1458,310 L1456,297 L1446,289ZM1458,310 L1437,304 L1429,306 L1425,314 L1426,317 L1443,324 L1468,321 L1468,321ZM1446,289 L1456,297 L1466,280 L1450,277 L1445,281ZM1434,279 L1424,294 L1429,306 L1437,304 L1446,289 L1445,281ZM1500,318 L1515,315 L1520,309 L1514,304ZM1490,317 L1496,319 L1500,318 L1514,304 L1506,298ZM1512,333 L1515,315 L1500,318 L1496,319ZM1632,310 L1619,302 L1613,306 L1609,319 L1609,319ZM1619,302 L1624,283 L1624,282 L1605,294 L1604,297 L1613,306ZM1627,331 L1638,314 L1636,312 L1632,310 L1609,319ZM1955,301 L1958,300 L1965,283 L1964,282 L1941,288ZM1932,299 L1931,299 L1920,310 L1921,319 L1928,324 L1943,331 L1948,323 L1947,317ZM1947,317 L1948,323 L1963,320 L1967,304 L1958,300 L1955,301ZM1981,313 L1988,310 L1986,297 L1974,299 L1972,303ZM2072,325 L2064,308 L2049,310 L2059,334 L2059,334ZM1238,325 L1214,324 L1225,339 L1240,337 L1243,336ZM1240,337 L1225,339 L1220,345 L1235,354ZM1225,339 L1214,324 L1208,319 L1207,320 L1195,335 L1195,342 L1218,348 L1220,345ZM1220,345 L1218,348 L1219,357 L1234,361 L1235,354ZM1385,339 L1384,344 L1393,350 L1407,344 L1411,338 L1408,336 L1396,328ZM1368,347 L1384,344 L1384,344 L1385,339 L1379,327 L1368,321 L1365,321ZM1401,373 L1410,372 L1414,369 L1408,347 L1407,344 L1393,350 L1395,359ZM1441,331 L1443,324 L1426,317 L1422,334ZM1846,357 L1853,348 L1833,341 L1837,351ZM1861,340 L1874,327 L1858,319 L1849,329ZM2011,372 L2006,355 L1997,353 L1993,358 L1992,360 L2008,375 L2010,373ZM1974,336 L1959,347 L1973,354 L1982,348 L1983,343ZM1973,354 L1980,369 L1992,360 L1993,358 L1982,348ZM1982,348 L1993,358 L1997,353 L1996,337 L1983,343ZM2025,357 L2019,347 L2006,355 L2011,372ZM2060,368 L2072,356 L2053,344 L2052,348ZM2074,346 L2075,356 L2081,358 L2081,337ZM2074,346 L2081,337 L2081,326 L2072,325 L2059,334ZM1219,357 L1218,359 L1229,380 L1234,377 L1239,367 L1234,361ZM1326,387 L1348,392 L1333,380 L1326,385ZM1353,396 L1353,397 L1359,405 L1378,394ZM1383,392 L1387,387 L1365,383 L1356,387 L1353,395 L1353,396 L1378,394ZM1419,393 L1410,372 L1401,373 L1392,381 L1390,386 L1396,395 L1416,398ZM1414,369 L1424,374 L1436,368 L1436,367 L1435,366 L1419,364ZM1965,397 L1979,405 L1982,403 L1986,383 L1980,379ZM2008,375 L2008,375 L2013,388 L2015,387 L2030,379 L2010,373ZM2037,366 L2037,366 L2030,359 L2025,357 L2011,372 L2010,373 L2030,379 L2035,379 L2036,377ZM2022,404 L2026,406 L2036,399 L2039,387 L2035,379 L2027,388 L2021,404ZM2030,379 L2015,387 L2027,388 L2035,379 L2035,379ZM2064,380 L2060,368 L2037,366 L2036,377ZM2035,379 L2035,379 L2039,387 L2051,391 L2064,380 L2064,380 L2036,377ZM2064,380 L2081,388 L2081,358 L2075,356 L2072,356 L2060,368 L2060,368 L2064,380ZM1188,430 L1188,426 L1177,413 L1171,412 L1171,440ZM1202,410 L1190,404 L1177,413 L1188,426 L1199,423 L1200,420ZM1200,420 L1199,423 L1208,427 L1209,417ZM1335,413 L1336,405 L1329,400 L1320,404 L1320,407 L1326,424ZM1325,426 L1328,433 L1348,424 L1348,422 L1335,413 L1326,424ZM1380,400 L1392,409 L1396,403 L1396,395 L1390,386 L1387,387 L1383,392ZM1363,436 L1381,432 L1365,420 L1354,430 L1354,433 L1358,435ZM1438,424 L1436,410 L1417,410 L1413,415 L1411,422 L1437,426ZM1468,445 L1484,438 L1483,432 L1475,425 L1462,422 L1461,423 L1463,443ZM1479,405 L1484,396 L1457,401 L1462,415 L1477,407ZM1463,443 L1461,423 L1454,425 L1448,441 L1452,451ZM1484,438 L1491,446 L1509,442 L1506,426 L1501,419 L1483,432ZM1501,419 L1500,413 L1484,416 L1480,419 L1475,425 L1483,432ZM1506,426 L1528,419 L1525,407 L1500,410 L1500,413 L1501,419ZM1810,430 L1813,446 L1823,453 L1827,436ZM2000,412 L1996,407 L1982,403 L1979,405 L1978,408 L1975,421 L1999,422ZM1975,421 L1978,408 L1959,409 L1959,419 L1961,422 L1969,426 L1969,426ZM2005,437 L1999,422 L1975,421 L1969,426 L2002,439ZM1958,397 L1958,398 L1959,409 L1978,408 L1979,405 L1965,397ZM1969,426 L1969,426 L1969,428 L1970,432 L1976,435 L1998,444 L2002,439ZM2036,399 L2026,406 L2035,418 L2046,411 L2037,400ZM2074,441 L2071,414 L2069,414 L2059,424 L2055,439 L2063,444 L2070,444ZM2071,414 L2074,441 L2081,443 L2081,408ZM2059,424 L2069,414 L2056,408 L2046,411 L2035,418 L2035,420 L2039,424ZM1194,449 L1195,446 L1188,430 L1171,440 L1171,445ZM1179,465 L1181,462 L1171,452 L1171,468ZM1181,462 L1195,455 L1194,449 L1171,445 L1171,452ZM1181,462 L1179,465 L1185,478 L1202,476 L1208,473 L1195,455 L1195,455ZM1177,485 L1185,478 L1179,465 L1171,468 L1171,486ZM1260,482 L1268,474 L1270,470 L1270,470 L1258,465 L1253,474 L1255,478ZM1337,475 L1340,476 L1349,471 L1350,464 L1344,456 L1327,453ZM1362,453 L1366,452 L1363,436 L1358,435ZM1418,453 L1418,454 L1419,474 L1426,473 L1429,456ZM1447,458 L1440,454 L1429,456 L1426,473 L1431,473 L1446,460ZM1419,474 L1419,474 L1418,454 L1397,460 L1397,469 L1407,475 L1411,475ZM1449,458 L1452,451 L1448,441 L1436,432 L1430,439 L1440,454 L1447,458ZM1484,469 L1479,459 L1476,459 L1467,474 L1476,479ZM1484,469 L1499,474 L1500,470 L1488,451 L1479,459ZM1509,442 L1491,446 L1488,451 L1500,470 L1516,448ZM1787,455 L1791,469 L1806,463 L1798,450 L1791,449 L1788,450ZM1827,436 L1823,453 L1823,453 L1843,444 L1845,434 L1830,434ZM1821,482 L1829,464 L1826,460 L1811,476ZM1853,457 L1851,457 L1837,467 L1845,482 L1846,482 L1857,461ZM1861,464 L1857,461 L1846,482 L1852,491 L1854,490ZM1920,477 L1923,466 L1923,465 L1914,460 L1911,461 L1903,471 L1910,483ZM1954,441 L1944,449 L1945,454 L1946,455 L1952,458 L1967,444ZM2034,460 L2042,483 L2050,480 L2057,473 L2052,465 L2039,457ZM2062,476 L2067,476 L2069,456 L2060,457 L2052,465 L2057,473ZM2074,441 L2070,444 L2073,455 L2081,460 L2081,443ZM2052,465 L2060,457 L2063,444 L2055,439 L2042,445 L2040,448 L2039,457ZM1190,501 L1194,501 L1195,486 L1184,490ZM1195,486 L1202,476 L1185,478 L1177,485 L1184,490ZM1253,474 L1242,477 L1250,486 L1255,478ZM1312,492 L1312,486 L1303,475 L1302,474 L1294,473 L1285,486 L1299,500 L1303,501ZM1338,507 L1339,509 L1361,506 L1365,504 L1364,502 L1339,489 L1335,495ZM1386,500 L1372,506 L1374,510 L1388,519 L1392,519 L1395,503ZM1407,475 L1397,469 L1384,475 L1387,490 L1403,486ZM1431,517 L1442,500 L1433,496 L1424,496 L1419,501 L1428,518ZM1419,501 L1424,496 L1419,474 L1411,475 L1413,502ZM1444,482 L1436,481 L1433,496 L1442,500 L1452,500 L1453,494ZM1484,506 L1506,499 L1506,498 L1506,491 L1500,482 L1484,488ZM1600,511 L1604,524 L1620,510 L1615,506ZM1695,500 L1694,505 L1695,508 L1710,519 L1720,520 L1725,508 L1698,496ZM1702,483 L1699,489 L1698,495 L1727,490 L1729,481 L1728,481ZM1727,490 L1729,497 L1746,493 L1742,477 L1729,481 L1729,481ZM1746,493 L1729,497 L1728,507 L1734,509 L1752,501 L1752,500ZM1797,481 L1811,493 L1820,489 L1821,484 L1821,482 L1811,476 L1808,474ZM1821,482 L1821,484 L1845,482 L1837,467 L1829,464ZM1837,520 L1850,507 L1849,497 L1839,499 L1829,519 L1831,522ZM1874,517 L1857,495 L1852,493 L1849,497 L1850,507 L1858,520 L1869,521ZM2062,476 L2057,503 L2073,495 L2068,476 L2067,476ZM2052,505 L2055,505 L2057,503 L2062,476 L2057,473 L2050,480ZM2068,476 L2073,495 L2081,498 L2081,472ZM2055,505 L2064,518 L2081,514 L2081,498 L2073,495 L2057,503ZM1250,509 L1229,519 L1225,523 L1226,527 L1243,538 L1253,537 L1255,529ZM1275,513 L1275,513 L1250,509 L1250,509 L1255,529 L1266,526ZM1276,534 L1280,531 L1278,520 L1275,513 L1266,526ZM1255,529 L1253,537 L1257,542 L1272,542 L1276,534 L1266,526ZM1359,514 L1361,506 L1339,509 L1337,517 L1345,526ZM1375,530 L1366,536 L1362,542 L1367,548 L1381,550 L1380,531ZM1392,519 L1388,519 L1381,531 L1394,535 L1400,527ZM1394,535 L1381,531 L1380,531 L1381,550 L1385,552 L1397,545ZM1421,537 L1422,524 L1407,522 L1405,524 L1413,540ZM2024,530 L2047,551 L2049,549 L2050,547 L2053,537 L2026,526 L2025,527ZM2078,537 L2070,549 L2081,560 L2081,537ZM2064,518 L2062,527 L2073,534 L2078,537 L2081,537 L2081,514ZM2078,537 L2073,534 L2066,549 L2070,549ZM2050,547 L2066,549 L2073,534 L2062,527 L2054,536 L2053,537ZM1240,577 L1241,560 L1232,557 L1228,558 L1226,561 L1225,570 L1236,584 L1236,584ZM1265,575 L1266,566 L1266,565 L1255,560 L1253,562 L1253,579ZM1265,594 L1268,591 L1265,575 L1253,579 L1250,587ZM1397,545 L1385,552 L1385,555 L1398,562 L1399,546ZM1484,592 L1492,583 L1489,576 L1474,584 L1479,592ZM1904,578 L1891,570 L1881,586 L1892,591 L1909,583ZM2001,592 L2001,590 L2000,586 L1997,580 L1991,576 L1981,574 L1978,574 L1976,581 L1981,589ZM1242,592 L1237,604 L1249,622 L1255,620 L1257,617ZM1268,591 L1265,594 L1266,595 L1282,602 L1289,589 L1285,580ZM1266,613 L1286,613 L1287,611 L1287,610 L1282,602 L1266,595 L1261,613ZM1824,640 L1835,601 L1835,601 L1825,603 L1813,608 L1810,616 L1812,627 L1816,637 L1820,641ZM1857,621 L1858,617 L1850,612 L1847,620ZM1881,628 L1883,610 L1873,606 L1869,607 L1865,613 L1870,631ZM1865,613 L1869,607 L1850,594 L1841,596 L1840,596 L1850,612 L1858,617ZM1940,626 L1942,626 L1957,612 L1957,601 L1954,596 L1951,597 L1946,599 L1938,608 L1936,617ZM1982,608 L1982,614 L1997,619 L2007,604 L2002,600 L1984,603ZM1981,589 L1976,581 L1955,595 L1954,596 L1957,601 L1982,608 L1984,603ZM1957,601 L1957,612 L1962,617 L1973,626 L1982,614 L1982,608ZM1249,622 L1244,626 L1253,645 L1268,643 L1268,643 L1273,638 L1255,620ZM1271,670 L1276,671 L1281,668 L1275,639 L1273,638 L1268,643ZM1390,661 L1390,663 L1398,675 L1405,672 L1404,656ZM1456,651 L1440,650 L1429,660 L1429,661 L1450,670 L1458,664ZM1604,655 L1588,665 L1587,671 L1611,673 L1620,667ZM1784,647 L1778,644 L1766,652 L1762,664 L1784,671 L1785,671ZM1803,677 L1819,655 L1819,649 L1800,660 L1795,672ZM1857,660 L1873,657 L1876,654 L1870,650 L1859,648 L1852,652ZM1926,672 L1944,674 L1948,670 L1945,651ZM1920,662 L1920,672 L1926,672 L1945,651 L1945,649 L1944,648 L1930,648ZM1987,662 L1994,648 L1992,644 L1986,642 L1976,650 L1972,664 L1984,663ZM1963,664 L1972,651 L1962,649 L1960,652ZM2003,667 L2002,651 L1994,648 L1987,662 L1991,674ZM2007,673 L2024,669 L2024,655 L2023,651 L2002,651 L2003,667ZM2012,627 L2000,628 L1992,644 L1994,648 L2002,651 L2023,651 L2028,640 L2017,628ZM1293,694 L1287,691 L1276,705 L1295,705ZM1234,704 L1234,705 L1267,705 L1268,693 L1264,691 L1236,702ZM1264,691 L1250,681 L1236,702ZM1307,684 L1300,688 L1293,694 L1295,705 L1308,705 L1315,692 L1314,692ZM1300,688 L1281,668 L1281,668 L1276,671 L1278,683 L1287,691 L1293,694ZM1381,684 L1372,678 L1372,678 L1361,682 L1361,689 L1371,703ZM1402,694 L1402,689 L1397,679 L1382,685 L1388,699ZM1388,699 L1382,685 L1381,684 L1371,703 L1371,705 L1385,705ZM1405,697 L1402,694 L1388,699 L1385,705 L1405,705ZM1418,682 L1420,670 L1405,672 L1398,675 L1397,679 L1402,689ZM1423,696 L1405,697 L1405,705 L1424,705ZM1428,693 L1423,695 L1423,696 L1424,705 L1443,705ZM1402,694 L1405,697 L1423,696 L1423,695 L1418,682 L1402,689ZM1429,662 L1436,687 L1455,693 L1457,690 L1450,670 L1429,661ZM1478,690 L1465,686 L1457,690 L1455,693 L1454,705 L1479,705ZM1455,693 L1436,687 L1428,693 L1443,705 L1454,705ZM1467,664 L1465,686 L1483,669 L1473,661 L1472,661ZM1492,695 L1492,686 L1492,685 L1478,690 L1479,705 L1490,705ZM1509,700 L1492,686 L1492,695 L1509,701ZM1513,687 L1505,675 L1495,677 L1492,685 L1492,686 L1509,700ZM1615,688 L1606,682 L1601,688 L1615,692ZM1623,668 L1622,667 L1621,667 L1615,688 L1615,692 L1622,701 L1632,679ZM1601,688 L1599,690 L1597,697 L1599,705 L1622,705 L1622,701 L1615,692ZM1831,680 L1834,705 L1837,705 L1853,686 L1838,680 L1831,679ZM1865,680 L1864,682 L1864,686 L1883,705 L1888,695 L1895,677 L1890,670ZM1889,670 L1866,670 L1865,673 L1865,680 L1890,670ZM1883,705 L1864,686 L1861,687 L1849,705 L1883,705ZM1849,671 L1864,682 L1865,680 L1865,673 L1856,665 L1851,667ZM1913,698 L1896,705 L1917,705ZM1913,698 L1915,690 L1888,695 L1883,705 L1883,705 L1896,705ZM1920,683 L1915,690 L1913,698 L1917,705 L1926,705ZM1895,677 L1888,695 L1915,690 L1920,683 L1921,681 L1920,672ZM1926,705 L1932,705 L1931,690 L1921,681 L1920,683ZM1947,698 L1936,692 L1931,690 L1932,705 L1949,705ZM1920,672 L1921,681 L1931,690 L1936,692 L1944,674 L1944,674 L1926,672 L1920,672ZM1963,668 L1963,668 L1948,670 L1944,674 L1944,674 L1947,682 L1975,691 L1974,687ZM1976,693 L1975,691 L1947,682 L1947,698 L1949,705 L1975,705ZM1947,698 L1947,682 L1944,674 L1936,692ZM1984,663 L1972,664 L1963,668 L1974,687ZM2005,680 L2007,673 L2003,667 L1991,674 L1991,678ZM2006,689 L2008,687 L2005,680 L1991,678 L1978,691ZM1975,691 L1976,693 L1978,691 L1991,678 L1991,674 L1987,662 L1984,663 L1974,687Z" fill="#2356b2" stroke="#2356b2" stroke-width="0.8"/>
<path d="M1561,24 L1547,24 L1552,46 L1562,28ZM1569,57 L1573,55 L1582,42 L1576,34 L1563,29ZM1562,28 L1563,29 L1576,34 L1587,24 L1561,24ZM1576,34 L1582,42 L1586,41 L1602,24 L1587,24ZM1569,57 L1563,29 L1562,28 L1552,46 L1550,51 L1563,63ZM1594,50 L1586,41 L1582,42 L1573,55 L1582,57ZM1626,49 L1640,49 L1644,49 L1654,41 L1648,24 L1618,24ZM1297,70 L1297,70 L1286,56 L1276,63 L1266,77 L1277,85ZM1326,89 L1326,89 L1317,70 L1302,72 L1302,85 L1309,94ZM1572,77 L1590,80 L1590,80 L1590,63 L1582,57 L1573,55 L1569,57 L1563,63 L1563,63ZM1618,55 L1608,57 L1602,65 L1605,76 L1609,76ZM1587,112 L1568,114 L1568,116 L1575,130 L1588,115 L1588,114ZM1320,138 L1318,128 L1301,128 L1295,129 L1285,147 L1294,155 L1318,143ZM1305,166 L1317,156 L1318,143 L1294,155 L1296,159 L1303,165ZM1361,145 L1365,147 L1377,142 L1370,134 L1362,140 L1361,143ZM1465,171 L1473,169 L1474,164 L1466,150 L1450,162ZM1424,167 L1422,175 L1428,179 L1450,181 L1450,162 L1443,158 L1430,160 L1430,160ZM1443,158 L1450,162 L1450,162 L1466,150 L1468,145 L1463,137 L1459,135 L1447,135 L1445,138ZM1629,181 L1635,175 L1617,167 L1617,169 L1621,178 L1626,181ZM1970,135 L1958,150 L1961,152 L1974,154 L1992,147 L1991,145 L1979,135ZM1476,186 L1455,187 L1452,196 L1454,199 L1479,197 L1479,196ZM1636,197 L1635,210 L1647,219 L1666,208 L1666,207 L1640,195ZM1634,195 L1620,195 L1607,203 L1617,216 L1635,210 L1636,197ZM1683,180 L1692,199 L1693,199 L1698,193 L1686,176 L1684,175ZM1438,226 L1439,227 L1445,231 L1465,232 L1471,219 L1464,215 L1443,218ZM1503,229 L1505,210 L1504,209 L1491,218ZM1617,216 L1617,228 L1621,235 L1629,235 L1645,223 L1645,223 L1647,219 L1635,210ZM1720,215 L1708,214 L1706,225 L1712,230ZM1740,235 L1745,219 L1743,211 L1730,204 L1726,211 L1729,236ZM1715,242 L1718,244 L1729,236 L1726,211 L1720,215 L1712,230ZM1708,214 L1700,207 L1698,207 L1695,219 L1702,224 L1706,225ZM1921,232 L1927,209 L1911,210 L1910,213 L1918,230ZM1187,288 L1190,288 L1211,283 L1217,278 L1217,276 L1214,261 L1187,283ZM1187,280 L1187,283 L1214,261 L1213,256 L1213,256 L1203,258 L1188,267ZM1246,253 L1240,255 L1234,271 L1241,271 L1248,262ZM1240,278 L1233,271 L1217,276 L1217,278 L1230,287 L1242,287 L1242,285ZM1217,276 L1233,271 L1234,271 L1240,255 L1213,256 L1214,261ZM1499,279 L1477,274 L1472,280 L1477,287 L1492,289 L1499,288ZM1501,249 L1492,246 L1474,246 L1472,253 L1476,262 L1501,250ZM1721,259 L1750,272 L1750,272 L1749,252 L1721,253ZM1965,283 L1966,283 L1978,263 L1978,263 L1969,260 L1959,268 L1957,273 L1964,282ZM1964,282 L1957,273 L1936,272 L1941,288 L1941,288ZM1988,268 L1995,265 L1998,241 L1997,239 L1982,243 L1978,263 L1978,263ZM2017,269 L2014,266 L1995,265 L1988,268 L1990,278 L2005,282 L2016,271ZM1245,290 L1242,288 L1233,310 L1234,311 L1245,297ZM1499,288 L1492,289 L1484,319 L1490,317 L1506,298 L1505,293ZM1548,323 L1549,325 L1561,315 L1561,305 L1559,303ZM1784,323 L1786,303 L1785,301 L1785,301 L1784,301 L1776,302 L1770,318 L1770,318 L1780,323ZM1913,305 L1920,310 L1931,299 L1919,289 L1918,290ZM1218,348 L1195,342 L1193,346 L1196,356 L1210,365 L1218,359 L1219,357ZM1234,361 L1239,367 L1250,364 L1253,360 L1244,336 L1243,336 L1240,337 L1235,354ZM1395,359 L1393,350 L1384,344 L1384,344 L1381,362ZM1435,354 L1443,350 L1446,346 L1446,346 L1422,334 L1426,354ZM1446,346 L1462,342 L1468,321 L1443,324 L1441,331 L1446,346ZM1466,350 L1481,349 L1490,336 L1480,320 L1471,319 L1468,321 L1468,321 L1462,342 L1466,350ZM1490,317 L1484,319 L1480,320 L1490,336 L1502,347 L1513,336 L1512,333 L1496,319ZM1502,349 L1493,354 L1486,363 L1490,376 L1511,363ZM1490,336 L1481,349 L1493,354 L1502,349 L1502,347ZM1536,342 L1535,327 L1528,321 L1515,336 L1534,346ZM1776,330 L1766,332 L1770,341 L1773,340 L1778,333ZM1792,372 L1803,364 L1807,359 L1807,355 L1789,347 L1772,353 L1773,358 L1787,371ZM1784,340 L1789,347 L1807,355 L1813,342 L1809,331 L1801,326 L1789,326 L1785,333ZM1355,383 L1337,375 L1333,380 L1348,392 L1353,395 L1356,387ZM1456,370 L1465,378 L1472,377 L1473,359 L1466,350 L1466,350ZM1472,377 L1487,384 L1490,376 L1486,363 L1473,359ZM1811,394 L1815,388 L1803,364 L1792,372 L1791,384 L1802,391ZM1430,439 L1436,432 L1437,426 L1411,422 L1410,423 L1425,440ZM1425,440 L1410,423 L1409,424 L1396,436 L1418,448ZM1830,434 L1845,434 L1850,429 L1840,417 L1827,425ZM1878,426 L1879,437 L1891,434 L1883,418 L1882,419ZM1899,416 L1895,435 L1900,441 L1917,431ZM1431,473 L1436,481 L1444,482 L1448,476 L1446,460ZM1611,451 L1617,471 L1631,464 L1631,457 L1617,450ZM1606,448 L1594,465 L1607,478 L1610,480 L1617,471 L1611,451 L1608,448ZM1624,443 L1617,450 L1631,457 L1632,455 L1627,443ZM1617,471 L1610,480 L1611,481 L1615,485 L1632,488 L1634,467 L1631,464ZM1880,465 L1880,461 L1877,449 L1875,445 L1866,443 L1853,457 L1857,461 L1861,464 L1879,466ZM1880,461 L1901,451 L1900,441 L1877,449ZM1875,445 L1877,449 L1900,441 L1900,441 L1895,435 L1891,434 L1879,437ZM1901,471 L1903,471 L1911,461 L1901,451 L1880,461 L1880,465ZM1917,431 L1900,441 L1900,441 L1901,451 L1911,461 L1914,460 L1926,433 L1918,431ZM2073,455 L2069,456 L2067,476 L2068,476 L2081,472 L2081,460ZM1229,519 L1225,501 L1221,501 L1211,517 L1225,523ZM1242,477 L1231,476 L1228,477 L1232,490 L1250,503 L1253,498 L1250,486ZM1250,509 L1250,503 L1232,490 L1225,501 L1229,519 L1250,509ZM1277,501 L1276,493 L1270,491 L1262,492 L1253,498 L1250,503 L1250,509 L1275,513 L1277,511ZM1319,496 L1335,495 L1339,489 L1340,476 L1337,475 L1330,475 L1312,486 L1312,492ZM1413,502 L1411,475 L1407,475 L1403,486 L1406,503 L1406,503ZM1452,500 L1442,500 L1431,517 L1445,519 L1455,517 L1460,511 L1459,508ZM1586,486 L1607,478 L1594,465 L1588,464 L1580,480ZM1611,481 L1610,480 L1607,478 L1586,486 L1586,497 L1593,504ZM1615,490 L1615,485 L1611,481 L1593,504 L1593,505 L1600,511 L1615,506ZM1640,486 L1645,470 L1634,467 L1632,488 L1636,490ZM1880,506 L1894,495 L1890,489 L1878,482 L1877,502ZM1211,517 L1207,517 L1205,522 L1208,541 L1221,536 L1226,527 L1225,523ZM1253,562 L1255,560 L1257,542 L1253,537 L1243,538 L1232,557 L1241,560 L1252,562ZM1436,529 L1440,535 L1440,535 L1450,536 L1455,517 L1445,519ZM1252,562 L1241,560 L1240,577ZM1437,563 L1455,565 L1446,549 L1445,549 L1437,562ZM1237,604 L1220,607 L1219,609 L1230,627 L1241,627 L1244,626 L1249,622ZM1282,602 L1287,610 L1298,598 L1289,589ZM1426,579 L1408,589 L1411,596 L1426,603 L1434,597ZM1451,604 L1481,619 L1481,619 L1466,594 L1462,591 L1451,600ZM1455,633 L1466,627 L1449,613 L1447,633ZM1972,664 L1976,650 L1972,651 L1963,664 L1963,668 L1963,668ZM1181,681 L1182,692 L1202,684 L1203,679 L1186,668ZM1180,695 L1171,702 L1171,705 L1205,705ZM1181,659 L1171,658 L1171,678 L1181,681 L1186,668 L1184,662ZM1202,684 L1182,692 L1180,695 L1205,705 L1209,705ZM1597,697 L1580,695 L1576,696 L1578,705 L1599,705ZM1611,673 L1587,671 L1586,672 L1591,682 L1599,690 L1601,688 L1606,682ZM1665,675 L1646,692 L1652,696 L1664,693 L1668,680Z" fill="#209a7c" stroke="#209a7c" stroke-width="0.8"/>
<path d="M1215,52 L1228,42 L1228,34 L1208,28 L1205,34 L1205,34 L1212,51ZM1225,61 L1236,50 L1228,42 L1215,52ZM1244,38 L1241,24 L1228,34 L1228,42 L1236,50 L1247,51ZM1208,28 L1228,34 L1241,24 L1241,24 L1207,24ZM1236,50 L1225,61 L1226,67 L1232,70 L1248,62 L1249,54 L1249,52 L1247,51ZM1260,32 L1276,45 L1286,48 L1292,38 L1293,35 L1291,24 L1259,24ZM1241,24 L1244,38 L1259,35 L1260,32 L1259,24 L1241,24ZM1249,52 L1254,49 L1259,35 L1244,38 L1247,51ZM1276,45 L1260,32 L1259,35 L1254,49ZM1286,56 L1286,48 L1276,45 L1254,49 L1249,52 L1249,54 L1276,63ZM1405,43 L1386,37 L1381,42 L1380,52 L1397,59 L1408,57 L1408,47 L1407,45ZM1552,46 L1547,24 L1537,24 L1532,36 L1538,47 L1550,51ZM1563,63 L1563,63 L1550,51 L1538,47 L1531,60 L1560,65ZM1266,77 L1259,80 L1254,91 L1258,93 L1278,93 L1280,90 L1277,85ZM1276,63 L1249,54 L1248,62 L1255,76 L1259,80 L1266,77ZM1326,89 L1309,94 L1309,97 L1313,107 L1313,108ZM1286,90 L1291,95 L1293,95 L1302,85 L1302,72 L1297,70 L1297,70ZM1280,90 L1286,90 L1297,70 L1277,85ZM1317,70 L1326,89 L1329,90 L1342,72 L1342,72 L1337,62 L1324,64 L1319,67ZM1762,67 L1757,66 L1752,71 L1753,90 L1756,93 L1762,94 L1767,79ZM1277,119 L1294,127 L1293,110 L1283,105 L1277,105 L1275,107 L1274,111ZM1317,113 L1333,95 L1329,90 L1326,89 L1326,89 L1313,108ZM1313,107 L1303,108 L1301,128 L1318,128 L1319,128 L1317,113 L1313,108ZM1309,97 L1297,102 L1297,105 L1303,108 L1313,107ZM1297,105 L1293,110 L1294,127 L1295,129 L1301,128 L1303,108ZM1357,131 L1359,131 L1364,124 L1353,104 L1350,126ZM1353,104 L1352,103 L1350,103 L1331,124 L1345,133 L1350,126ZM1357,131 L1351,135 L1361,143 L1362,140 L1359,131ZM1319,128 L1331,124 L1350,103 L1333,95 L1317,113ZM1364,124 L1370,126 L1386,121 L1369,96 L1355,100 L1352,103 L1353,104ZM1447,135 L1435,120 L1427,139 L1432,142 L1445,138ZM1282,173 L1287,171 L1296,159 L1294,155 L1285,147 L1282,148 L1272,155 L1271,158ZM1303,165 L1296,159 L1287,171 L1296,179ZM1336,171 L1337,171 L1343,156 L1343,153 L1320,138 L1318,143 L1317,156ZM1387,149 L1383,144 L1377,142 L1365,147 L1370,160 L1380,161 L1387,151ZM1643,147 L1642,149 L1639,155 L1650,170 L1651,170 L1651,170 L1654,169 L1659,159 L1652,142ZM1652,142 L1659,159 L1663,153 L1664,140 L1662,138 L1659,138ZM1626,134 L1615,142 L1615,146 L1618,152 L1639,155 L1642,149ZM1639,155 L1618,152 L1614,159 L1617,167 L1635,175 L1650,170ZM1703,160 L1700,147 L1693,143 L1688,146 L1684,151 L1688,166 L1702,163ZM1688,146 L1664,140 L1663,153 L1680,154 L1684,151ZM1663,153 L1659,159 L1654,169 L1666,170 L1674,169 L1680,154ZM1688,166 L1684,175 L1684,175 L1686,176 L1702,174 L1702,163ZM1688,166 L1684,151 L1680,154 L1674,169 L1684,175ZM1920,172 L1907,159 L1903,163 L1903,164 L1903,176 L1918,175ZM1903,164 L1889,173 L1893,181 L1899,182 L1903,176ZM2003,162 L2031,164 L2033,162 L2034,159 L2030,153 L2018,151 L2002,160ZM1428,179 L1422,175 L1415,179 L1414,193 L1414,196 L1423,204 L1437,200ZM1573,197 L1569,189 L1559,197 L1558,208 L1559,212 L1574,210ZM1543,183 L1545,189 L1559,197 L1569,189 L1570,182ZM1634,195 L1629,181 L1626,181 L1621,189 L1620,195ZM1651,170 L1650,170 L1635,175 L1629,181 L1634,195 L1636,197 L1640,195ZM1666,207 L1667,206 L1651,170 L1651,170 L1640,195ZM1702,174 L1686,176 L1698,193 L1708,185 L1707,182ZM1674,169 L1666,170 L1674,189 L1683,180 L1684,175 L1684,175ZM1671,203 L1692,199 L1683,180 L1674,189ZM1666,170 L1654,169 L1651,170 L1667,206 L1671,203 L1674,189ZM1726,211 L1730,204 L1729,202 L1725,200 L1700,207 L1708,214 L1720,215ZM1708,185 L1698,193 L1693,199 L1698,207 L1700,207 L1725,200 L1712,187ZM1906,196 L1905,199 L1911,210 L1927,209 L1930,209 L1935,192 L1921,186ZM1961,178 L1960,177 L1945,176 L1942,183 L1940,188 L1954,197 L1957,195 L1960,188ZM1574,210 L1559,212 L1558,215 L1569,230 L1577,232 L1578,232 L1578,211ZM1593,246 L1613,249 L1621,235 L1617,228 L1609,228 L1595,233 L1590,238ZM1609,228 L1617,228 L1617,216 L1607,203 L1604,202 L1595,219 L1597,223ZM1875,240 L1896,237 L1898,230 L1898,223 L1889,217 L1883,220 L1872,236ZM1923,236 L1931,235 L1932,233 L1935,213 L1930,209 L1927,209 L1921,232ZM1898,230 L1896,237 L1901,243 L1915,246 L1923,236 L1921,232 L1918,230ZM1910,213 L1898,223 L1898,230 L1918,230ZM1932,233 L1931,235 L1939,241 L1952,230 L1954,224 L1954,219ZM1954,216 L1935,213 L1932,233 L1954,219 L1955,216ZM1982,243 L1997,239 L2002,218 L1999,214 L1980,222 L1977,240ZM1241,271 L1240,278 L1242,285 L1252,271 L1248,262ZM1252,271 L1258,273 L1266,253 L1266,252 L1254,247 L1250,247 L1246,253 L1248,262ZM1266,253 L1258,273 L1269,280 L1272,268ZM1291,261 L1272,268 L1269,280 L1272,289 L1272,289 L1295,263 L1294,262ZM1242,285 L1242,287 L1242,288 L1245,290 L1248,290 L1272,289 L1269,280 L1258,273 L1252,271ZM1274,292 L1279,295 L1290,285 L1297,264 L1295,263 L1272,289ZM1600,265 L1617,266 L1613,249 L1593,246 L1585,258ZM1617,266 L1600,265 L1589,277 L1589,278 L1606,277 L1619,270ZM1894,266 L1901,243 L1896,237 L1875,240 L1875,247 L1885,267ZM1931,299 L1932,299 L1941,288 L1936,272 L1933,268 L1928,268 L1928,268 L1919,289ZM1966,258 L1952,260 L1959,268 L1969,260ZM1943,251 L1942,256 L1952,260 L1966,258 L1960,246ZM1957,273 L1959,268 L1952,260 L1942,256 L1933,268 L1936,272ZM1518,285 L1505,293 L1506,298 L1514,304 L1520,309 L1527,309 L1530,306 L1530,287ZM1527,309 L1520,309 L1515,315 L1512,333 L1513,336 L1515,336 L1528,321ZM1564,326 L1581,321 L1584,317 L1579,312 L1561,305 L1561,315 L1564,326ZM1558,291 L1557,300 L1559,303 L1561,305 L1579,312 L1578,292 L1567,288ZM1967,304 L1972,303 L1974,299 L1972,286 L1966,283 L1965,283 L1958,300ZM1998,333 L2003,330 L1999,312 L1988,310 L1981,313 L1976,323 L1977,325ZM1180,326 L1171,327 L1171,339 L1172,340 L1194,334ZM1182,374 L1192,366 L1196,356 L1193,346 L1184,350 L1171,359 L1171,370ZM1184,350 L1172,340 L1171,339 L1171,359ZM1422,334 L1422,334 L1411,338 L1407,344 L1408,347 L1425,355 L1426,354ZM1408,347 L1414,369 L1414,369 L1419,364 L1425,355ZM1425,355 L1419,364 L1435,366 L1435,354 L1426,354ZM1422,334 L1422,334 L1446,346 L1441,331 L1422,334ZM1435,366 L1436,367 L1445,362 L1443,350 L1435,354ZM1462,342 L1446,346 L1443,350 L1445,362 L1452,370 L1456,370 L1466,350ZM1473,359 L1486,363 L1493,354 L1481,349 L1466,350ZM1515,336 L1513,336 L1502,347 L1502,349 L1511,363 L1518,366 L1519,367 L1530,359 L1535,347 L1534,346ZM1535,347 L1551,349 L1554,346 L1559,341 L1557,331 L1551,328 L1536,342 L1534,346ZM1530,359 L1544,369 L1555,366 L1551,349 L1535,347ZM1555,366 L1556,366 L1571,362 L1572,361 L1554,346 L1551,349ZM1572,361 L1579,355 L1579,348 L1577,345 L1559,341 L1554,346ZM1564,326 L1577,342 L1580,330 L1581,321ZM1577,345 L1577,342 L1564,326 L1564,326 L1557,331 L1559,341ZM1590,336 L1584,346 L1596,345 L1600,330ZM1600,329 L1600,330 L1596,345 L1610,357 L1617,350ZM1249,386 L1234,377 L1229,380 L1227,382 L1221,396 L1223,402 L1226,402ZM1227,382 L1210,367 L1203,378 L1201,387 L1221,396ZM1218,359 L1210,365 L1210,367 L1227,382 L1229,380ZM1256,410 L1264,391 L1256,387 L1253,388 L1245,404ZM1253,388 L1256,387 L1256,376 L1250,364 L1239,367 L1234,377 L1249,386ZM1484,396 L1489,393 L1488,390 L1460,390 L1454,398 L1457,401ZM1465,378 L1460,390 L1488,390 L1488,387 L1487,384 L1472,377ZM1445,362 L1436,367 L1436,368 L1442,380 L1452,370ZM1505,384 L1488,387 L1488,390 L1489,393 L1498,403 L1501,402 L1511,388ZM1511,363 L1490,376 L1487,384 L1488,387 L1505,384 L1518,366ZM1501,402 L1498,403 L1500,410 L1525,407 L1525,407 L1526,404 L1520,393ZM1519,367 L1524,380 L1526,381 L1543,376 L1544,369 L1530,359ZM1544,369 L1543,376 L1548,389 L1551,391 L1560,380 L1556,366 L1555,366ZM1834,383 L1835,383 L1855,375 L1858,367 L1856,366 L1849,363 L1832,372ZM1871,388 L1873,377 L1868,364 L1867,364 L1858,367 L1855,375 L1859,388 L1868,391ZM1966,379 L1956,389 L1958,397 L1965,397 L1980,379 L1980,378ZM1998,393 L2012,394 L2013,388 L2008,375 L1991,383ZM1980,379 L1986,383 L1991,383 L2008,375 L2008,375 L1992,360 L1980,369 L1979,371 L1980,378ZM1986,383 L1982,403 L1996,407 L1998,393 L1991,383ZM1454,425 L1461,423 L1462,422 L1462,415 L1457,401 L1454,398 L1444,396 L1436,410 L1438,424ZM1500,410 L1498,403 L1489,393 L1484,396 L1479,405 L1484,416 L1500,413ZM1479,405 L1477,407 L1480,419 L1484,416ZM1480,419 L1477,407 L1462,415 L1462,422 L1475,425ZM1535,398 L1526,404 L1525,407 L1543,409 L1543,406ZM1754,417 L1749,421 L1746,444 L1759,441 L1762,423 L1754,417ZM1791,449 L1796,437 L1782,420 L1778,423 L1788,450 L1788,450ZM1476,459 L1475,459 L1449,458 L1465,475 L1467,474ZM1845,434 L1843,444 L1851,457 L1853,457 L1866,443 L1855,429 L1855,429 L1850,429ZM1879,466 L1861,464 L1854,490 L1876,480ZM1926,433 L1914,460 L1923,465 L1945,454 L1944,449 L1936,438 L1928,433ZM1194,501 L1201,506 L1209,496 L1212,474 L1208,473 L1202,476 L1195,486ZM1406,503 L1395,503 L1392,519 L1400,527 L1405,524 L1407,522 L1406,503ZM1419,474 L1419,474 L1424,496 L1433,496 L1436,481 L1431,473 L1426,473ZM1407,522 L1422,524 L1427,520 L1428,518 L1419,501 L1413,502 L1406,503ZM1985,505 L1970,525 L1973,527 L1994,528 L1994,527 L1990,507ZM2026,467 L2016,480 L2016,484 L2022,499 L2026,499 L2028,472ZM1221,536 L1208,541 L1206,542 L1205,545 L1204,552 L1223,560 L1226,561 L1228,558ZM1424,540 L1440,535 L1436,529 L1427,520 L1422,524 L1421,537ZM1400,546 L1408,545 L1413,540 L1405,524 L1400,527 L1394,535 L1397,545 L1399,546ZM1462,545 L1480,533 L1477,518 L1460,511 L1455,517 L1450,536 L1453,541ZM1445,549 L1446,549 L1453,541 L1450,536 L1440,535 L1436,546ZM1427,520 L1436,529 L1445,519 L1431,517 L1428,518ZM1464,564 L1478,565 L1482,555 L1462,547ZM1814,549 L1818,544 L1812,512 L1807,510 L1803,513 L1800,519 L1809,546ZM1814,555 L1845,555 L1839,539 L1829,537 L1818,544 L1814,549 L1814,554ZM1944,536 L1941,539 L1948,553 L1957,555 L1962,546 L1948,531ZM1410,564 L1416,562 L1418,554 L1408,545 L1400,546ZM1230,627 L1219,609 L1213,610 L1207,625 L1221,636ZM1212,587 L1206,582 L1204,582 L1202,584 L1201,592 L1205,607 L1213,610 L1219,609 L1220,607 L1221,600ZM1255,620 L1273,638 L1275,639 L1279,637 L1282,628 L1266,613 L1261,613 L1257,617ZM1310,606 L1303,614 L1308,628 L1319,622 L1324,608 L1323,607 L1311,605ZM1286,613 L1289,618 L1303,614 L1310,606 L1287,611ZM1327,634 L1335,619 L1334,617 L1327,607 L1324,608 L1319,622ZM1338,626 L1335,619 L1327,634 L1330,642 L1335,640ZM1356,621 L1349,590 L1346,592 L1327,607 L1334,617ZM1380,610 L1380,610 L1355,585 L1354,584 L1349,590 L1356,621 L1358,624ZM1430,618 L1432,626 L1444,634 L1447,633 L1449,613 L1448,611 L1431,617ZM1475,594 L1482,602 L1484,592 L1479,592ZM1857,626 L1857,621 L1847,620 L1841,624 L1839,631ZM1857,626 L1862,632 L1868,632 L1870,631 L1865,613 L1858,617 L1857,621ZM1938,608 L1946,599 L1916,593 L1917,602ZM1221,636 L1207,625 L1193,628 L1205,644 L1210,646 L1219,642ZM1239,645 L1222,646 L1229,656 L1241,650ZM1241,650 L1229,656 L1229,660 L1254,666 L1250,654ZM1210,646 L1208,658 L1214,672 L1222,673 L1223,672 L1229,660 L1229,656 L1222,646 L1219,642ZM1253,645 L1244,626 L1241,627 L1239,645 L1241,650 L1250,654ZM1241,627 L1230,627 L1221,636 L1219,642 L1222,646 L1239,645ZM1271,670 L1268,643 L1268,643 L1257,668ZM1275,639 L1281,668 L1281,668 L1288,665 L1296,644 L1279,637ZM1282,628 L1279,637 L1296,644 L1300,643 L1304,641 L1304,633 L1289,619ZM1300,643 L1296,644 L1288,665 L1302,669 L1304,665ZM1316,671 L1319,667 L1314,648 L1304,665 L1302,669 L1308,675ZM1314,648 L1314,647 L1304,641 L1300,643 L1304,665ZM1319,667 L1334,663 L1334,657 L1329,643 L1314,647 L1314,648ZM1862,632 L1860,634 L1858,644 L1859,648 L1870,650 L1868,632ZM1926,633 L1925,633 L1913,631 L1902,647 L1908,651 L1926,634ZM1514,668 L1510,668 L1505,675 L1513,687 L1522,689 L1527,670Z" fill="#5cba48" stroke="#5cba48" stroke-width="0.8"/>
<path d="M1172,37 L1187,32 L1188,24 L1171,24 L1171,36ZM1350,43 L1359,41 L1367,33 L1366,24 L1351,24ZM1367,33 L1381,42 L1386,37 L1389,24 L1366,24ZM1386,37 L1405,43 L1399,24 L1389,24ZM1405,43 L1407,45 L1413,24 L1399,24ZM1459,62 L1446,51 L1426,66 L1439,73 L1457,66ZM1502,57 L1507,55 L1512,48 L1501,40 L1492,47 L1500,58ZM1538,47 L1532,36 L1520,39 L1519,41 L1525,64 L1526,64 L1527,65 L1531,60ZM1520,39 L1532,36 L1537,24 L1504,24 L1506,27ZM1654,41 L1661,44 L1675,26 L1674,24 L1648,24ZM1686,58 L1694,44 L1694,43 L1685,40 L1668,51 L1669,53 L1672,55ZM1695,42 L1718,30 L1718,24 L1695,24ZM1705,56 L1694,44 L1686,58 L1686,64 L1697,72ZM1694,43 L1695,42 L1695,24 L1674,24 L1675,26 L1685,40ZM1724,47 L1728,60 L1748,53 L1739,41 L1726,42ZM1705,56 L1710,56 L1724,47 L1726,42 L1718,30 L1695,42 L1694,43 L1694,44ZM1718,30 L1726,42 L1739,41 L1742,37 L1744,32 L1744,24 L1718,24ZM1742,37 L1759,38 L1764,29 L1744,32ZM1779,41 L1766,27 L1764,29 L1759,38 L1761,47ZM1761,47 L1759,38 L1742,37 L1739,41 L1748,53 L1755,60ZM1744,32 L1764,29 L1766,27 L1766,24 L1744,24ZM1784,63 L1785,43 L1779,41 L1761,47 L1755,60 L1757,66 L1762,67ZM1797,24 L1766,24 L1766,27 L1779,41 L1785,43 L1797,33ZM1278,93 L1277,105 L1283,105 L1291,95 L1286,90 L1280,90ZM1342,72 L1361,67 L1338,61 L1337,62ZM1449,84 L1458,74 L1457,66 L1439,73 L1436,86ZM1692,101 L1702,78 L1698,74 L1692,76 L1679,93 L1687,102ZM1730,83 L1737,74 L1729,63 L1716,67 L1713,79 L1713,80ZM1702,78 L1713,79 L1716,67 L1710,56 L1705,56 L1697,72 L1698,74ZM1737,74 L1730,83 L1730,85 L1745,95 L1753,90 L1752,71ZM1762,94 L1767,98 L1781,96 L1767,79ZM1788,66 L1784,63 L1762,67 L1767,79 L1781,96 L1781,96 L1786,94 L1792,80ZM1811,67 L1801,80 L1813,81 L1817,78 L1813,68ZM1801,80 L1811,67 L1805,61 L1788,66 L1792,80 L1793,80ZM1792,80 L1786,94 L1799,103 L1808,99 L1808,99 L1808,92 L1793,80ZM1820,98 L1812,84 L1808,92 L1808,99ZM1820,98 L1831,100 L1827,80 L1817,78 L1813,81 L1812,84ZM1886,82 L1898,66 L1878,59 L1876,80 L1880,83ZM1903,86 L1906,84 L1898,65 L1898,65 L1898,66 L1886,82 L1887,83ZM1912,79 L1905,63 L1898,65 L1906,84ZM1928,67 L1914,63 L1906,62 L1905,63 L1912,79 L1929,82ZM1968,68 L1972,57 L1967,56 L1959,62 L1959,69 L1960,69ZM1946,60 L1932,59 L1928,67 L1929,82 L1931,84 L1943,85 L1948,65ZM1959,69 L1948,65 L1943,85 L1950,89 L1953,86 L1960,69ZM1959,62 L1951,54 L1946,60 L1948,65 L1959,69ZM1950,89 L1958,107 L1962,107 L1973,103 L1977,87 L1963,83 L1953,86ZM1190,109 L1189,112 L1200,132 L1205,131 L1205,116ZM1183,126 L1189,112 L1190,109 L1189,108 L1171,102 L1171,127ZM1189,112 L1183,126 L1185,130 L1194,134 L1200,132ZM1179,147 L1185,130 L1183,126 L1171,127 L1171,146ZM1216,112 L1219,97 L1212,92 L1190,106 L1189,108 L1190,109 L1205,116 L1216,113ZM1459,135 L1457,119 L1450,112 L1448,111 L1440,113 L1434,120 L1435,120 L1447,135ZM1606,131 L1615,142 L1626,134 L1637,126 L1633,105 L1633,105 L1622,107 L1606,131ZM1662,138 L1671,122 L1654,123 L1651,129 L1659,138ZM1671,122 L1673,120 L1659,110 L1652,110 L1654,123ZM1651,129 L1638,127 L1643,147 L1652,142 L1659,138ZM1719,131 L1718,142 L1733,136 L1721,127ZM1733,136 L1736,136 L1741,129 L1729,112 L1723,118 L1721,127ZM1741,129 L1747,130 L1751,118 L1743,108 L1742,108 L1729,112 L1729,112ZM1805,120 L1817,115 L1808,99 L1799,103 L1800,112ZM1808,99 L1817,115 L1828,113 L1834,103 L1831,100 L1820,98 L1808,99ZM1787,116 L1783,138 L1788,142 L1802,136 L1805,120 L1800,112ZM1844,100 L1838,103 L1846,116 L1861,116 L1861,114ZM1915,110 L1923,101 L1924,98 L1906,93 L1900,103 L1907,111ZM1919,118 L1932,121 L1939,114 L1923,101 L1915,110ZM1943,85 L1931,84 L1924,98 L1923,101 L1939,114 L1943,114 L1945,114 L1957,109 L1958,107 L1950,89ZM1957,109 L1945,114 L1943,142 L1961,122ZM1962,107 L1958,107 L1957,109 L1961,122 L1970,135 L1979,135 L1983,124ZM1999,106 L1993,115 L1999,122 L2018,111ZM2015,131 L2024,136 L2032,134 L2034,130 L2035,120 L2032,114 L2025,112 L2013,126ZM2064,130 L2056,123 L2035,120 L2034,130 L2053,146 L2058,145 L2064,140ZM2062,101 L2060,99 L2044,99 L2032,114 L2035,120 L2056,123ZM2067,128 L2064,130 L2064,140 L2069,142 L2081,135 L2081,125ZM2073,105 L2067,128 L2081,125 L2081,104ZM1200,132 L1194,134 L1194,156 L1197,158 L1206,147 L1207,133 L1205,131ZM1194,134 L1185,130 L1179,147 L1186,154 L1194,156ZM1305,166 L1323,184 L1336,172 L1336,171 L1317,156ZM1420,140 L1421,145 L1430,160 L1430,160 L1432,142 L1427,139ZM1465,171 L1450,162 L1450,162 L1450,181 L1454,186ZM1540,179 L1545,163 L1543,157 L1533,156 L1526,158 L1519,179 L1524,183ZM1561,152 L1569,167 L1577,154 L1572,152ZM1638,127 L1637,126 L1626,134 L1642,149 L1643,147ZM1745,173 L1746,173 L1728,156 L1723,166 L1723,166 L1729,174ZM1728,154 L1717,144 L1700,147 L1703,160 L1723,166 L1728,156ZM1723,166 L1703,160 L1702,163 L1702,174 L1707,182 L1723,166ZM1818,148 L1811,139 L1802,136 L1788,142 L1787,146 L1789,153 L1794,158 L1806,159ZM1871,151 L1875,155 L1882,136 L1877,127 L1862,129 L1861,130 L1860,131 L1862,137ZM1950,152 L1942,145 L1932,144 L1926,144 L1927,164 L1944,170 L1950,154ZM1961,152 L1958,150 L1950,152 L1950,154 L1962,169 L1969,166 L1969,165ZM1960,177 L1962,169 L1950,154 L1944,170 L1945,176ZM1969,179 L1973,173 L1969,166 L1962,169 L1960,177 L1961,178ZM1981,172 L1987,179 L2004,169 L2003,162 L2002,160 L1993,151 L1982,164ZM2044,156 L2053,146 L2034,130 L2032,134 L2030,153 L2034,159ZM1991,145 L1992,147 L1993,151 L2002,160 L2018,151 L2014,140 L2014,140 L1999,137ZM2004,169 L2012,180 L2017,178 L2031,164 L2003,162ZM2040,175 L2051,177 L2059,175 L2060,172 L2044,156 L2034,159 L2033,162ZM1454,186 L1450,181 L1428,179 L1437,200 L1440,201 L1452,196 L1455,187ZM1558,208 L1559,197 L1545,189 L1540,200ZM1530,205 L1534,226 L1542,228 L1551,219 L1537,203ZM1521,202 L1523,202 L1524,183 L1519,179 L1514,178 L1507,192ZM1530,205 L1537,203 L1540,200 L1545,189 L1543,183 L1540,179 L1524,183 L1523,202ZM1582,210 L1595,200 L1573,197 L1574,210 L1578,211ZM1572,180 L1568,173 L1545,163 L1540,179 L1543,183 L1570,182ZM1595,200 L1600,198 L1599,195 L1597,192 L1586,179 L1572,180 L1570,182 L1569,189 L1573,197ZM1609,178 L1604,181 L1597,192 L1599,195 L1614,182 L1613,177ZM1723,166 L1707,182 L1708,185 L1712,187 L1728,176 L1729,174ZM1712,187 L1725,200 L1729,202 L1733,196 L1728,176ZM1876,192 L1893,181 L1889,173 L1881,165 L1872,191 L1873,192ZM1903,176 L1899,182 L1906,196 L1921,186 L1918,175ZM1923,170 L1920,172 L1918,175 L1921,186 L1935,192 L1940,188 L1942,183ZM1890,202 L1905,199 L1906,196 L1899,182 L1893,181 L1876,192ZM1898,223 L1910,213 L1911,210 L1905,199 L1890,202 L1887,211 L1889,217ZM1957,195 L1954,197 L1954,216 L1955,216 L1961,216 L1966,213 L1974,205 L1967,196ZM1940,188 L1935,192 L1930,209 L1935,213 L1954,216 L1954,197ZM1969,179 L1961,178 L1960,188 L1973,186ZM1960,188 L1957,195 L1967,196 L1973,186 L1973,186ZM1998,213 L1999,214 L2013,192 L2011,185 L1989,188ZM1973,186 L1981,187 L1986,185 L1987,179 L1981,172 L1973,173 L1969,179 L1973,186ZM1967,196 L1974,205 L1977,204 L1981,187 L1973,186ZM1998,213 L1989,188 L1986,185 L1981,187 L1977,204ZM1986,185 L1989,188 L2011,185 L2012,180 L2004,169 L1987,179ZM2031,164 L2017,178 L2034,184 L2040,175 L2033,162ZM2013,192 L2032,199 L2034,198 L2035,195 L2034,184 L2017,178 L2012,180 L2011,185ZM1284,220 L1275,210 L1267,214 L1262,221 L1268,231 L1279,230 L1279,230ZM1254,222 L1246,231 L1245,238 L1250,247 L1254,247 L1268,231 L1262,221ZM1267,214 L1250,207 L1254,222 L1262,221ZM1388,242 L1389,249 L1409,254 L1411,253 L1414,245 L1413,243 L1395,234 L1393,235ZM1481,226 L1472,218 L1471,219 L1465,232 L1465,233 L1474,246 L1492,246ZM1515,208 L1521,230 L1534,226 L1530,205 L1523,202 L1521,202ZM1569,230 L1555,240 L1566,250 L1571,248 L1577,232ZM1578,232 L1582,233 L1589,222 L1582,210 L1578,211ZM1609,228 L1597,223 L1595,233ZM1652,245 L1654,244 L1645,223 L1629,235 L1636,243ZM1664,235 L1645,223 L1645,223 L1654,244 L1662,245ZM1623,271 L1635,253 L1636,243 L1629,235 L1621,235 L1613,249 L1617,266 L1619,270 L1622,271ZM1666,208 L1647,219 L1645,223 L1664,235 L1671,218ZM1706,225 L1702,224 L1696,236 L1696,242 L1707,243 L1715,242 L1712,230ZM1686,245 L1680,223 L1671,218 L1664,235 L1662,245 L1670,252 L1682,250ZM1696,236 L1692,221 L1680,223 L1686,245 L1696,242ZM1667,206 L1666,207 L1666,208 L1671,218 L1680,223 L1692,221 L1695,219 L1698,207 L1693,199 L1692,199 L1671,203ZM1695,219 L1692,221 L1696,236 L1702,224ZM1952,230 L1961,245 L1970,239 L1969,236 L1954,224ZM1939,241 L1943,251 L1960,246 L1961,245 L1952,230ZM1970,227 L1979,222 L1966,213 L1961,216ZM1961,245 L1960,246 L1966,258 L1969,260 L1978,263 L1982,243 L1977,240 L1970,239ZM1970,239 L1977,240 L1980,222 L1979,222 L1970,227 L1969,236ZM1980,222 L1999,214 L1999,214 L1998,213 L1977,204 L1974,205 L1966,213 L1979,222ZM2020,229 L2010,220 L2002,218 L1997,239 L1998,241 L2012,249 L2024,237ZM1241,271 L1234,271 L1233,271 L1240,278ZM1271,251 L1266,252 L1266,253 L1272,268 L1291,261 L1277,251ZM1304,280 L1290,285 L1279,295 L1279,295 L1284,296 L1305,289ZM1306,272 L1304,280 L1305,289 L1310,294 L1313,296 L1333,285 L1331,281ZM1333,271 L1315,256 L1303,266 L1306,272 L1331,281ZM1533,259 L1533,257 L1529,248 L1515,236 L1507,239 L1501,249 L1501,250 L1501,251 L1528,261ZM1525,267 L1515,272 L1518,285 L1530,287 L1531,286ZM1589,278 L1589,287 L1601,288 L1606,277ZM1619,270 L1606,277 L1601,288 L1605,294 L1624,282 L1622,271ZM1624,282 L1624,283 L1637,291 L1640,291 L1649,270 L1646,268 L1623,271 L1622,271ZM1651,291 L1660,272 L1649,270 L1640,291 L1645,291ZM1646,257 L1652,245 L1636,243 L1635,253ZM1623,271 L1646,268 L1646,257 L1635,253ZM1686,245 L1682,250 L1687,257 L1701,257 L1707,243 L1696,242ZM1707,243 L1701,257 L1707,271 L1719,262 L1721,259 L1721,253 L1718,244 L1715,242ZM1879,275 L1885,267 L1875,247 L1860,259 L1874,275ZM1879,291 L1881,288 L1879,275 L1874,275 L1862,278 L1861,292 L1868,295ZM1281,314 L1279,295 L1279,295 L1274,292 L1260,307 L1278,321ZM1276,327 L1300,339 L1303,335 L1306,318 L1306,317 L1281,314 L1278,321ZM1306,318 L1320,320 L1326,318 L1326,318 L1327,310 L1313,304 L1306,316 L1306,317ZM1305,289 L1284,296 L1297,303 L1310,294ZM1306,316 L1297,303 L1284,296 L1279,295 L1281,314 L1306,317ZM1348,317 L1330,306 L1327,310 L1326,318ZM1332,329 L1332,329 L1326,318 L1320,320 L1321,328ZM1352,318 L1348,317 L1326,318 L1326,318 L1332,329 L1351,321ZM1313,296 L1313,304 L1327,310 L1330,306 L1334,286 L1333,285ZM1349,290 L1334,286 L1330,306 L1348,317 L1352,318 L1355,316 L1356,295ZM1613,306 L1604,297 L1594,302 L1590,316 L1600,322 L1609,319ZM1589,287 L1587,290 L1594,302 L1604,297 L1605,294 L1601,288ZM1651,329 L1653,331 L1664,325 L1657,309 L1647,313 L1645,314ZM1647,313 L1657,309 L1662,303 L1651,291 L1645,291ZM1645,314 L1647,313 L1645,291 L1640,291 L1637,291 L1636,312 L1638,314ZM1835,312 L1843,303 L1831,284 L1826,290 L1823,310ZM1847,302 L1843,303 L1835,312 L1841,329 L1849,329 L1858,319 L1858,313 L1858,310ZM1826,290 L1809,297 L1808,300 L1808,300 L1821,311 L1823,310ZM1866,305 L1868,295 L1861,292 L1853,295 L1847,302 L1858,310ZM1858,313 L1879,314 L1878,311 L1866,305 L1858,310ZM1879,291 L1868,295 L1866,305 L1878,311ZM1858,319 L1874,327 L1884,324 L1885,321 L1879,314 L1858,313ZM1885,321 L1884,324 L1887,329 L1907,328 L1911,323 L1901,312 L1892,313ZM1941,288 L1932,299 L1947,317 L1955,301 L1941,288ZM1986,297 L1989,290 L1987,285 L1972,286 L1974,299ZM2032,317 L2032,315 L2018,300 L2007,309 L2031,318ZM1172,340 L1184,350 L1193,346 L1195,342 L1195,335 L1194,334ZM1329,337 L1330,336 L1332,329 L1321,328 L1318,333ZM1580,330 L1577,342 L1577,345 L1579,348 L1584,346 L1590,336ZM1609,319 L1600,322 L1600,329 L1617,350 L1627,346 L1627,332 L1627,331 L1609,319ZM1590,316 L1584,317 L1581,321 L1580,330 L1590,336 L1600,330 L1600,329 L1600,322ZM1579,348 L1579,355 L1600,371 L1605,371 L1610,357 L1596,345 L1584,346ZM1665,340 L1652,340 L1649,345 L1660,354 L1662,353ZM1627,331 L1627,332 L1651,329 L1645,314 L1638,314ZM1649,345 L1636,350 L1636,351 L1652,366 L1660,365 L1660,354ZM1636,350 L1649,345 L1652,340 L1653,331 L1651,329 L1627,332 L1627,346ZM1849,363 L1856,366 L1853,348 L1853,348 L1846,357ZM1837,351 L1833,341 L1832,340 L1813,342 L1807,355 L1807,359 L1831,371ZM1849,363 L1846,357 L1837,351 L1831,371 L1832,372ZM1858,367 L1867,364 L1867,360 L1861,344 L1853,348 L1856,366ZM1876,344 L1867,360 L1867,364 L1868,364 L1887,359 L1886,341ZM1888,336 L1887,329 L1884,324 L1874,327 L1861,340 L1861,342 L1876,344 L1886,341ZM1867,360 L1876,344 L1861,342 L1861,344ZM1943,331 L1944,339 L1945,340 L1976,327 L1977,325 L1976,323 L1963,320 L1948,323ZM1980,369 L1973,354 L1959,347 L1953,347 L1952,366 L1979,371ZM1974,336 L1976,327 L1945,340 L1953,347 L1959,347ZM1996,337 L1998,333 L1977,325 L1976,327 L1974,336 L1983,343ZM1177,413 L1190,404 L1196,388 L1188,384 L1171,394 L1171,412ZM1223,404 L1223,402 L1221,396 L1201,387 L1196,388 L1190,404 L1202,410 L1219,406ZM1201,387 L1203,378 L1192,366 L1182,374 L1188,384 L1196,388ZM1188,384 L1182,374 L1171,370 L1171,394ZM1210,367 L1210,365 L1196,356 L1192,366 L1203,378ZM1240,404 L1245,404 L1253,388 L1249,386 L1226,402ZM1444,396 L1440,390 L1419,393 L1416,398 L1417,410 L1436,410ZM1456,370 L1452,370 L1442,380 L1439,386 L1440,390 L1444,396 L1454,398 L1460,390 L1465,378ZM1511,388 L1501,402 L1520,393 L1520,389ZM1524,380 L1519,367 L1518,366 L1505,384 L1511,388 L1520,389ZM1551,391 L1548,389 L1541,391 L1535,398 L1543,406 L1552,392ZM1520,393 L1526,404 L1535,398 L1541,391 L1526,381 L1524,380 L1520,389ZM1592,379 L1600,371 L1579,355 L1572,361 L1571,362 L1574,380 L1576,381 L1584,382ZM1576,381 L1574,380 L1560,380 L1551,391 L1552,392 L1556,395 L1565,399 L1567,399ZM1556,366 L1560,380 L1574,380 L1571,362ZM1575,402 L1583,401 L1584,382 L1576,381 L1567,399ZM1632,385 L1631,384 L1623,383 L1610,409 L1624,412ZM1610,409 L1623,383 L1614,379 L1599,407 L1598,410ZM1614,379 L1605,371 L1600,371 L1592,379 L1599,407ZM1599,407 L1592,379 L1584,382 L1583,401 L1598,410 L1598,410ZM1825,388 L1815,388 L1811,394 L1811,398 L1823,408 L1825,407ZM1845,396 L1859,388 L1855,375 L1835,383ZM1859,388 L1845,396 L1844,401 L1862,409 L1863,408 L1870,399 L1868,391ZM1871,388 L1868,391 L1870,399 L1891,407 L1893,386ZM1900,375 L1900,368 L1887,359 L1868,364 L1873,377 L1897,378ZM1873,377 L1871,388 L1893,386 L1897,378ZM1947,378 L1947,373 L1932,370 L1928,382 L1936,390ZM1956,389 L1966,379 L1952,367 L1947,373 L1947,378ZM1979,371 L1952,366 L1952,367 L1966,379 L1980,378ZM2016,403 L2012,394 L1998,393 L1996,407 L2000,412 L2016,404ZM2064,380 L2051,391 L2052,400 L2056,408 L2069,414 L2071,414 L2081,408 L2081,388ZM1359,405 L1359,405 L1353,397 L1336,405 L1335,413 L1348,422ZM1550,422 L1549,417 L1543,409 L1525,407 L1525,407 L1528,419 L1536,428 L1544,426ZM1552,392 L1543,406 L1543,409 L1549,417 L1556,395ZM1556,423 L1550,422 L1544,426 L1550,441 L1574,445 L1576,436ZM1556,423 L1576,436 L1585,431 L1575,414 L1564,411ZM1565,399 L1564,411 L1575,414 L1575,402 L1567,399ZM1594,423 L1598,410 L1583,401 L1575,402 L1575,414 L1585,431 L1592,428ZM1595,430 L1600,438 L1619,437 L1620,431ZM1626,422 L1594,423 L1592,428 L1595,430 L1620,431 L1621,430ZM1619,437 L1600,438 L1606,448 L1608,448 L1619,438ZM1628,441 L1642,433 L1633,420 L1630,420 L1626,422 L1621,430ZM1865,426 L1855,429 L1866,443 L1875,445 L1879,437 L1878,426ZM1870,399 L1863,408 L1871,416 L1882,419 L1883,418 L1892,408 L1891,407ZM1871,416 L1865,426 L1878,426 L1882,419ZM1926,433 L1928,433 L1929,431 L1926,420 L1914,406 L1914,406 L1918,431ZM2018,433 L2035,420 L2035,418 L2026,406 L2022,404 L2017,433ZM2017,433 L2022,404 L2021,404 L2016,403 L2016,404 L2014,434ZM2014,434 L2016,404 L2000,412 L1999,422 L2005,437 L2005,437ZM2037,400 L2046,411 L2056,408 L2052,400ZM1354,433 L1349,439 L1361,453 L1362,453 L1358,435ZM1396,457 L1373,455 L1377,473 L1384,475 L1397,469 L1397,460ZM1366,452 L1372,453 L1384,433 L1383,432 L1381,432 L1363,436ZM1475,459 L1468,445 L1463,443 L1452,451 L1449,458 L1449,458ZM1675,460 L1673,455 L1649,437 L1647,445 L1650,450 L1671,460ZM1770,448 L1762,446 L1755,457 L1766,465ZM1762,446 L1759,441 L1746,444 L1737,452 L1743,458 L1755,457ZM1766,466 L1766,475 L1777,479 L1785,479 L1776,462ZM1787,455 L1788,450 L1788,450 L1773,447 L1770,448 L1766,465 L1766,466 L1776,462ZM1761,478 L1766,475 L1766,466 L1766,465 L1755,457 L1743,458 L1743,476ZM1790,479 L1791,480 L1797,481 L1808,474 L1809,464 L1806,463 L1791,469ZM1806,463 L1809,464 L1824,457 L1823,453 L1823,453 L1813,446 L1798,450ZM1811,476 L1826,460 L1824,457 L1809,464 L1808,474ZM1785,479 L1790,479 L1791,469 L1787,455 L1776,462ZM1829,464 L1837,467 L1851,457 L1843,444 L1823,453 L1824,457 L1826,460ZM1987,455 L1979,456 L1977,457 L1972,479 L1991,479 L1992,454ZM1998,444 L1976,435 L1987,455 L1992,454 L1993,454ZM1972,479 L1977,457 L1952,458 L1960,481 L1963,484ZM2004,476 L2009,465 L1993,454 L1992,454 L1991,479 L1993,482ZM2026,464 L2034,460 L2039,457 L2040,448 L2018,433 L2017,433 L2014,434 L2005,437ZM2026,465 L2009,465 L2004,476 L2016,480 L2026,467ZM2070,444 L2063,444 L2060,457 L2069,456 L2073,455ZM1299,524 L1302,526 L1308,523 L1303,501 L1299,500 L1298,501 L1287,511ZM1403,486 L1387,490 L1386,500 L1395,503 L1406,503ZM1765,516 L1782,512 L1783,510 L1779,500 L1772,499 L1762,507ZM1761,486 L1761,478 L1743,476 L1742,477 L1746,493 L1752,500ZM1734,509 L1739,516 L1745,520 L1755,504 L1752,501ZM1772,496 L1777,479 L1766,475 L1761,478 L1761,486ZM1752,501 L1755,504 L1762,507 L1772,499 L1772,496 L1761,486 L1752,500ZM1803,513 L1807,510 L1806,507 L1792,496 L1789,510ZM1779,500 L1789,492 L1791,480 L1790,479 L1785,479 L1777,479 L1772,496 L1772,499ZM1806,507 L1811,493 L1797,481 L1791,480 L1789,492 L1792,496ZM1789,510 L1792,496 L1789,492 L1779,500 L1783,510ZM1839,499 L1830,498 L1819,512 L1829,519ZM1812,512 L1819,512 L1830,498 L1820,489 L1811,493 L1806,507 L1807,510ZM1878,482 L1890,489 L1901,471 L1880,465 L1879,466 L1876,480ZM1993,482 L1991,479 L1972,479 L1963,484 L1963,484 L1973,499 L1979,499 L1995,486ZM1979,499 L1985,505 L1990,507 L2000,496 L1995,487 L1995,486ZM2000,496 L1990,507 L1994,527 L2009,512 L2012,503ZM1979,499 L1973,499 L1966,522 L1970,525 L1985,505ZM2026,526 L2034,516 L2036,505 L2033,502 L2026,499 L2022,499 L2012,503 L2009,512 L2025,527ZM1995,487 L2016,484 L2016,480 L2004,476 L1993,482 L1995,486ZM2039,486 L2033,502 L2036,505 L2052,505 L2050,480 L2042,483ZM1232,557 L1243,538 L1226,527 L1221,536 L1228,558ZM1388,519 L1374,510 L1375,530 L1380,531 L1381,531ZM1408,545 L1418,554 L1426,548 L1424,540 L1421,537 L1413,540ZM1462,547 L1482,555 L1487,544 L1484,536 L1480,533 L1462,545ZM1739,516 L1734,509 L1728,507 L1725,508 L1720,520 L1724,531 L1728,532ZM1700,537 L1700,540 L1709,542 L1724,531 L1720,520 L1710,519ZM1728,532 L1724,531 L1709,542 L1716,557 L1727,554 L1738,539ZM1748,526 L1740,539 L1748,547 L1761,548 L1763,540 L1760,525ZM1778,528 L1764,521 L1760,525 L1763,540 L1778,531ZM1796,543 L1809,546 L1800,519 L1799,519 L1788,527ZM1788,527 L1799,519 L1782,515 L1783,526ZM1780,546 L1788,545 L1796,543 L1788,527 L1783,526 L1778,528 L1778,531ZM1782,512 L1782,515 L1799,519 L1800,519 L1803,513 L1789,510 L1783,510ZM1847,536 L1839,539 L1845,555 L1852,561 L1856,553ZM1941,539 L1931,538 L1925,543 L1929,563 L1938,563 L1948,553ZM1970,525 L1966,522 L1961,521 L1951,527 L1948,531 L1962,546 L1971,534 L1973,527ZM1977,561 L1978,552 L1971,534 L1962,546 L1957,555 L1963,562 L1974,566ZM1999,559 L2009,564 L2013,564 L2015,557 L2015,552 L1995,549 L1995,552ZM1971,534 L1978,552 L1995,538 L1996,531 L1994,528 L1973,527ZM1995,549 L2015,552 L2016,545 L2015,538 L1996,531 L1995,538ZM1995,552 L1995,549 L1995,538 L1978,552 L1977,561ZM2009,512 L1994,527 L1994,528 L1996,531 L2015,538 L2024,530 L2025,527ZM2047,551 L2024,530 L2015,538 L2016,545 L2046,552ZM2053,537 L2054,536 L2034,516 L2026,526ZM2016,545 L2015,552 L2015,557 L2046,553 L2046,552ZM1198,570 L1223,560 L1204,552 L1198,557ZM1198,572 L1198,570 L1198,557 L1187,554 L1177,552 L1178,554 L1191,572ZM1177,552 L1171,549 L1171,583 L1183,575 L1178,554ZM1178,554 L1183,575 L1191,572ZM1181,590 L1202,584 L1204,582 L1198,572 L1191,572 L1183,575 L1171,583 L1171,589ZM1236,584 L1225,570 L1206,582 L1212,587 L1232,587ZM1232,587 L1212,587 L1221,600ZM1226,561 L1223,560 L1198,570 L1198,572 L1204,582 L1206,582 L1225,570ZM1242,588 L1250,587 L1253,579 L1253,562 L1252,562 L1240,577 L1236,584ZM1289,589 L1298,598 L1305,598 L1307,591 L1296,582 L1287,578 L1285,580 L1285,580ZM1310,585 L1312,581 L1309,564 L1301,563 L1295,565 L1287,578 L1296,582ZM1482,555 L1478,565 L1489,574 L1506,559 L1487,544ZM1495,585 L1518,571 L1520,567 L1515,558 L1506,559 L1489,574 L1489,576 L1492,583 L1494,585ZM1474,584 L1463,586 L1462,591 L1466,594 L1475,594 L1479,592ZM1738,539 L1727,554 L1737,562 L1746,553 L1748,547 L1740,539ZM1753,574 L1746,553 L1737,562 L1737,570 L1748,580 L1752,578ZM1918,574 L1922,567 L1910,549 L1906,555ZM1974,566 L1963,562 L1946,578 L1955,595 L1976,581 L1978,574ZM1948,553 L1938,563 L1943,577 L1946,578 L1963,562 L1957,555ZM1954,596 L1955,595 L1946,578 L1943,577 L1927,583 L1951,597ZM1927,583 L1913,585 L1915,590 L1916,593 L1946,599 L1951,597ZM1183,622 L1190,615 L1188,598 L1181,590 L1171,589 L1171,619ZM1205,607 L1194,612 L1190,615 L1183,622 L1185,625 L1193,628 L1207,625 L1213,610ZM1194,612 L1194,598 L1188,598 L1190,615ZM1201,592 L1194,598 L1194,612 L1205,607ZM1181,590 L1188,598 L1194,598 L1201,592 L1202,584ZM1242,588 L1236,584 L1236,584 L1232,587 L1221,600 L1220,607 L1237,604 L1242,592ZM1261,613 L1266,595 L1265,594 L1250,587 L1242,588 L1242,592 L1257,617ZM1282,628 L1289,619 L1289,618 L1286,613 L1266,613ZM1303,614 L1289,618 L1289,619 L1304,633 L1308,628ZM1358,625 L1358,624 L1356,621 L1334,617 L1335,619 L1338,626ZM1411,596 L1408,607 L1423,619 L1430,618 L1431,617 L1426,603ZM1449,613 L1466,627 L1471,626 L1481,619 L1451,604 L1448,611ZM1466,594 L1481,619 L1482,619 L1482,618 L1482,602 L1475,594ZM1482,618 L1482,619 L1497,631 L1502,630 L1510,624 L1508,603 L1493,606ZM1482,602 L1482,618 L1493,606 L1494,585 L1492,583 L1484,592ZM1508,603 L1510,601 L1507,590 L1495,585 L1494,585 L1493,606ZM1512,601 L1525,600 L1527,595 L1525,591 L1512,587 L1507,590 L1510,601ZM1508,603 L1510,624 L1521,620 L1512,601 L1510,601ZM1530,618 L1536,628 L1556,633 L1562,604 L1559,598 L1532,613ZM1521,620 L1530,618 L1532,613 L1525,600 L1512,601ZM1639,615 L1647,612 L1646,607 L1622,611 L1622,612 L1623,613ZM1847,620 L1850,612 L1840,596 L1835,601 L1835,601 L1841,624ZM1841,624 L1835,601 L1824,640 L1831,639 L1838,632 L1839,631ZM1917,608 L1917,602 L1916,593 L1915,590 L1891,611 L1906,619 L1906,619ZM1925,633 L1926,633 L1940,626 L1936,617 L1920,612ZM1913,585 L1909,583 L1892,591 L1883,610 L1891,611 L1915,590 L1913,585ZM1891,611 L1883,610 L1883,610 L1881,628 L1889,636 L1905,620 L1906,619ZM1304,633 L1304,641 L1314,647 L1329,643 L1330,642 L1327,634 L1319,622 L1308,628ZM1396,648 L1386,656 L1390,661 L1404,656 L1406,654ZM1404,656 L1405,672 L1420,670 L1429,662 L1429,661 L1429,660 L1423,654 L1411,652 L1406,654ZM1411,652 L1401,639 L1396,648 L1406,654ZM1440,650 L1444,634 L1432,626 L1428,631 L1422,640 L1423,654 L1429,660ZM1527,643 L1507,635 L1511,654 L1528,646ZM1510,624 L1502,630 L1507,635 L1527,643 L1536,628 L1530,618 L1521,620ZM1530,649 L1538,655 L1554,657 L1561,640 L1556,633 L1536,628 L1527,643 L1528,646ZM1593,642 L1601,644 L1608,639 L1608,638 L1601,621 L1593,623 L1590,639ZM1664,627 L1657,631 L1656,632 L1656,634 L1658,652 L1658,653 L1663,660 L1672,658 L1682,638 L1679,631 L1678,630 L1664,627ZM1819,649 L1820,641 L1816,637 L1795,643 L1787,647 L1800,660ZM1853,640 L1840,646 L1845,651 L1852,652 L1859,648 L1858,644ZM1838,632 L1831,639 L1840,646 L1853,640 L1854,636ZM1838,632 L1854,636 L1860,634 L1862,632 L1857,626 L1839,631ZM1856,665 L1857,660 L1852,652 L1845,651 L1843,661 L1851,667ZM1889,636 L1881,628 L1870,631 L1868,632 L1870,650 L1876,654 L1885,654 L1892,646ZM1854,636 L1853,640 L1858,644 L1860,634ZM1908,651 L1902,647 L1901,646 L1892,646 L1885,654 L1889,670 L1890,670 L1895,677 L1920,672 L1920,672 L1920,662ZM1926,634 L1908,651 L1920,662 L1930,648ZM1906,619 L1905,620 L1901,646 L1902,647 L1913,631 L1906,619ZM1889,636 L1892,646 L1901,646 L1905,620ZM1944,648 L1949,635 L1942,626 L1940,626 L1926,633 L1926,634 L1930,648ZM1948,670 L1963,668 L1963,664 L1960,652 L1945,649 L1945,651ZM1287,691 L1278,683 L1268,693 L1267,705 L1276,705ZM1307,684 L1308,675 L1302,669 L1288,665 L1281,668 L1300,688ZM1382,685 L1397,679 L1398,675 L1390,663 L1372,678 L1381,684ZM1436,687 L1429,662 L1420,670 L1418,682 L1423,695 L1428,693ZM1665,675 L1668,680 L1685,685 L1687,663 L1682,659 L1672,658 L1663,660 L1662,667ZM1803,684 L1790,689 L1792,705 L1799,705ZM1790,689 L1778,685 L1777,685 L1777,694 L1782,705 L1792,705ZM1814,684 L1805,681 L1803,684 L1799,705 L1816,705ZM1831,674 L1819,655 L1803,677 L1805,681 L1814,684 L1831,680 L1831,679ZM1838,680 L1849,671 L1851,667 L1843,661 L1831,674 L1831,679ZM1814,684 L1816,705 L1834,705 L1831,680ZM1861,687 L1853,686 L1837,705 L1849,705ZM1838,680 L1853,686 L1861,687 L1864,686 L1864,682 L1849,671ZM1885,654 L1876,654 L1873,657 L1866,670 L1889,670Z" fill="#8cc73f" stroke="#8cc73f" stroke-width="0.8"/>
<path d="M1324,64 L1337,62 L1338,61 L1345,47 L1336,39 L1323,43 L1321,46ZM1430,34 L1432,39 L1436,44 L1444,48 L1451,34 L1451,25 L1450,24 L1430,24ZM1496,67 L1500,58 L1492,47 L1480,41 L1477,41 L1472,47 L1471,49 L1466,59 L1487,74ZM1728,60 L1724,47 L1710,56 L1716,67 L1729,63ZM1805,44 L1799,35 L1797,33 L1785,43 L1784,63 L1788,66 L1805,61 L1809,54ZM1867,54 L1875,54 L1879,44 L1876,24 L1865,24ZM1906,62 L1914,63 L1928,44 L1927,42 L1924,38 L1919,40 L1907,52ZM1951,53 L1938,43 L1927,42 L1928,44 L1932,59 L1946,60 L1951,54ZM1959,62 L1967,56 L1956,49 L1951,53 L1951,54ZM1987,24 L1962,24 L1962,27 L1982,46ZM2002,47 L1995,52 L2007,57ZM1342,72 L1350,81 L1361,67 L1361,67 L1342,72ZM1350,103 L1352,103 L1355,100 L1350,81 L1342,72 L1329,90 L1333,95ZM1381,90 L1387,92 L1398,77 L1390,72 L1386,74ZM1569,87 L1572,77 L1563,63 L1560,65 L1541,82 L1550,90ZM1675,90 L1673,76 L1673,76 L1666,72 L1658,72 L1654,82 L1656,91 L1665,92ZM1686,64 L1686,58 L1672,55 L1677,70ZM1673,76 L1692,76 L1698,74 L1697,72 L1686,64 L1677,70 L1673,76ZM1679,93 L1692,76 L1673,76 L1675,90ZM1710,100 L1713,80 L1713,79 L1702,78 L1692,101 L1701,102ZM1823,62 L1813,68 L1817,78 L1827,80 L1832,75 L1834,73ZM1897,102 L1887,83 L1886,82 L1880,83 L1878,90 L1877,94 L1878,101ZM1878,90 L1854,89 L1851,95 L1858,96 L1877,94ZM1455,97 L1436,94 L1440,113 L1448,111 L1456,98ZM1659,110 L1664,104 L1665,92 L1656,91 L1640,104 L1652,110ZM1664,140 L1688,146 L1693,143 L1693,137 L1683,120 L1682,118 L1673,120 L1671,122 L1662,138ZM1684,109 L1664,104 L1659,110 L1673,120 L1682,118ZM1664,104 L1684,109 L1687,102 L1679,93 L1675,90 L1665,92ZM1709,118 L1723,118 L1729,112 L1729,112 L1726,106 L1710,100 L1701,102 L1707,117ZM1703,129 L1693,137 L1693,143 L1700,147 L1717,144 L1718,142 L1719,131ZM1799,103 L1786,94 L1781,96 L1779,106 L1787,116 L1800,112ZM1848,96 L1844,100 L1861,114 L1866,109 L1858,96 L1851,95ZM1877,94 L1858,96 L1866,109 L1878,105 L1878,101ZM1878,105 L1866,109 L1861,114 L1861,116 L1862,129 L1877,127 L1884,118 L1883,116ZM1900,103 L1900,103 L1883,116 L1884,118 L1900,123 L1907,111ZM1179,147 L1171,146 L1171,166 L1176,165 L1186,154ZM1177,191 L1186,181 L1176,165 L1171,166 L1171,193ZM1511,157 L1499,148 L1496,149 L1494,156 L1497,176 L1510,175ZM1814,166 L1820,168 L1824,164 L1828,158 L1818,148 L1806,159ZM1843,143 L1839,144 L1837,148 L1853,157 L1855,152 L1855,149ZM1882,136 L1875,155 L1876,158 L1880,160 L1883,159 L1901,141ZM1855,149 L1855,152 L1871,151 L1862,137ZM1872,191 L1881,165 L1880,160 L1876,158 L1859,168 L1868,188ZM1903,163 L1883,159 L1880,160 L1881,165 L1889,173 L1903,164ZM1299,222 L1310,227 L1315,222 L1314,208 L1300,202 L1295,219ZM1362,201 L1363,196 L1361,193 L1348,195 L1345,214 L1347,220 L1347,220 L1354,213ZM1391,192 L1389,184 L1370,196 L1386,209 L1391,193ZM1440,201 L1437,200 L1423,204 L1422,222 L1440,206ZM1626,181 L1621,178 L1616,182 L1621,189ZM1830,205 L1833,217 L1834,217 L1853,215 L1854,211 L1853,204 L1845,197ZM2035,195 L2047,189 L2051,177 L2040,175 L2034,184ZM2029,209 L2032,199 L2013,192 L1999,214 L1999,214 L2002,218 L2010,220ZM2056,202 L2062,206 L2071,205 L2067,186 L2063,185 L2056,197ZM1184,245 L1185,243 L1171,228 L1171,255 L1176,255ZM1191,217 L1207,232 L1211,233 L1213,220 L1210,210 L1198,205ZM1185,243 L1195,235 L1173,218 L1171,217 L1171,228ZM1279,230 L1268,231 L1254,247 L1266,252 L1271,251ZM1281,246 L1285,239 L1279,230 L1279,230 L1271,251 L1277,251ZM1291,241 L1296,245 L1312,237 L1310,227 L1299,222ZM1285,239 L1291,241 L1299,222 L1295,219 L1284,220 L1279,230ZM1291,261 L1294,262 L1295,250 L1281,246 L1277,251ZM1294,262 L1295,263 L1297,264 L1303,266 L1315,256 L1319,245 L1312,237 L1296,245 L1295,250ZM1295,250 L1296,245 L1291,241 L1285,239 L1281,246ZM1345,251 L1346,250 L1338,234 L1322,244 L1330,252ZM1346,250 L1349,249 L1356,244 L1341,226 L1338,234ZM1338,234 L1341,226 L1342,223 L1333,218 L1315,222 L1310,227 L1312,237 L1319,245 L1322,244ZM1347,220 L1342,223 L1341,226 L1356,244 L1367,239 L1366,234 L1347,220ZM1377,221 L1393,235 L1395,234 L1402,218 L1400,214 L1387,210 L1378,219 L1377,221ZM1432,240 L1418,236 L1413,243 L1414,245 L1433,250 L1434,249ZM1440,206 L1422,222 L1421,222 L1438,226 L1443,218ZM1421,222 L1421,222 L1418,236 L1432,240 L1436,235 L1439,227 L1438,226ZM1445,248 L1445,231 L1439,227 L1436,235 L1443,248ZM1507,239 L1503,232 L1481,226 L1492,246 L1501,249ZM1543,231 L1542,228 L1534,226 L1521,230 L1515,236 L1529,248ZM1550,258 L1550,254 L1542,246 L1533,257 L1533,259 L1540,263 L1541,263ZM1542,246 L1547,236 L1543,231 L1529,248 L1533,257ZM1593,246 L1590,238 L1582,233 L1578,232 L1577,232 L1571,248 L1585,258 L1585,258ZM1555,240 L1569,230 L1558,215 L1551,219 L1542,228 L1543,231 L1547,236 L1554,240ZM1589,222 L1595,219 L1604,202 L1600,198 L1595,200 L1582,210ZM1590,238 L1595,233 L1597,223 L1595,219 L1589,222 L1582,233ZM1834,217 L1833,217 L1827,226 L1826,235 L1841,243 L1849,240 L1850,239 L1839,223ZM1883,220 L1889,217 L1887,211 L1871,210ZM1866,233 L1863,233 L1850,239 L1849,240 L1857,259 L1860,259 L1875,247 L1875,240 L1872,236ZM1854,211 L1853,215 L1857,225 L1863,233 L1866,233 L1870,210ZM1870,210 L1866,233 L1872,236 L1883,220 L1871,210 L1870,210ZM1955,216 L1954,219 L1954,224 L1969,236 L1970,227 L1961,216ZM2038,221 L2020,229 L2024,237 L2027,238 L2044,237ZM2062,238 L2075,248 L2081,249 L2081,222ZM2047,215 L2057,222 L2059,220 L2062,206 L2056,202 L2049,205ZM2051,242 L2058,238 L2057,222 L2047,215 L2038,220 L2038,221 L2044,237ZM2058,238 L2062,238 L2081,222 L2081,216 L2059,220 L2057,222ZM1188,267 L1203,258 L1184,245 L1176,255ZM1303,266 L1297,264 L1290,285 L1304,280 L1306,272ZM1334,268 L1343,262 L1345,251 L1330,252ZM1375,284 L1387,283 L1394,266 L1385,262 L1379,264 L1375,271ZM1433,250 L1414,245 L1411,253 L1426,265 L1432,256ZM1518,285 L1515,272 L1502,266 L1499,279 L1499,288 L1505,293ZM1537,283 L1540,263 L1533,259 L1528,261 L1525,267 L1531,286ZM1501,251 L1500,261 L1502,266 L1515,272 L1525,267 L1528,261ZM1540,263 L1537,283 L1555,288 L1555,276 L1541,263ZM1589,278 L1589,277 L1580,269 L1577,270 L1567,288 L1578,292 L1587,290 L1589,287ZM1585,258 L1580,269 L1589,277 L1600,265 L1585,258ZM1761,249 L1769,266 L1776,266 L1789,254 L1788,246 L1766,246ZM1790,286 L1784,282 L1776,284 L1775,285 L1784,301 L1785,301ZM1847,302 L1853,295 L1848,274 L1844,271 L1839,271 L1834,275 L1831,281 L1831,284 L1843,303ZM1900,268 L1894,266 L1885,267 L1879,275 L1881,288 L1893,294 L1901,292 L1904,288 L1904,287ZM2012,250 L2014,266 L2017,269 L2024,270 L2030,263 L2034,257 L2028,250ZM2072,273 L2067,291 L2067,294 L2081,291 L2081,273ZM2067,269 L2075,248 L2062,238 L2058,238 L2051,242 L2049,249 L2056,267ZM2050,276 L2067,291 L2072,273 L2067,269 L2056,267 L2053,271ZM1246,310 L1255,310 L1248,290 L1245,290 L1245,297ZM1261,330 L1256,310 L1255,310 L1246,310 L1237,313 L1238,325 L1243,336 L1244,336ZM1260,307 L1256,310 L1261,330 L1267,332 L1276,327 L1278,321ZM1310,294 L1297,303 L1306,316 L1313,304 L1313,296ZM1477,287 L1471,319 L1480,320 L1484,319 L1492,289ZM1636,312 L1637,291 L1624,283 L1619,302 L1632,310ZM1766,298 L1755,301 L1754,311 L1770,318 L1776,302ZM1800,317 L1801,326 L1809,331 L1821,311 L1808,300ZM1789,326 L1801,326 L1800,317 L1786,303 L1784,323ZM1786,303 L1800,317 L1808,300 L1808,300 L1785,301ZM1821,311 L1809,331 L1813,342 L1832,340 L1841,329 L1835,312 L1823,310ZM1831,281 L1817,281 L1807,290 L1809,297 L1826,290 L1831,284ZM2007,309 L2002,309 L1999,312 L2003,330 L2015,334 L2031,319 L2031,318ZM2067,294 L2066,295 L2067,303 L2081,304 L2081,291ZM1309,373 L1314,373 L1330,359 L1328,356 L1315,358ZM1323,349 L1329,337 L1318,333 L1303,335 L1300,339 L1301,343 L1308,345ZM1321,328 L1320,320 L1306,318 L1303,335 L1318,333ZM1330,359 L1337,361 L1339,360 L1345,343 L1330,336 L1329,337 L1323,349 L1328,356ZM1355,316 L1352,318 L1351,321 L1349,340 L1367,348 L1368,347 L1365,321ZM1330,336 L1345,343 L1349,340 L1351,321 L1332,329 L1332,329ZM1365,358 L1367,348 L1349,340 L1345,343 L1339,360 L1352,364ZM1370,365 L1377,366 L1381,362 L1384,344 L1368,347 L1367,348 L1365,358ZM1377,366 L1392,381 L1401,373 L1395,359 L1381,362ZM1789,326 L1784,323 L1780,323 L1776,330 L1778,333 L1785,333ZM1861,344 L1861,342 L1861,340 L1849,329 L1841,329 L1832,340 L1833,341 L1853,348 L1853,348ZM2041,341 L2019,345 L2019,347 L2025,357 L2030,359ZM1997,353 L2006,355 L2019,347 L2019,345 L2015,334 L2003,330 L1998,333 L1996,337ZM2037,366 L2052,348 L2053,344 L2052,339 L2047,337 L2041,341 L2030,359ZM2047,337 L2031,319 L2015,334 L2019,345 L2041,341ZM2060,368 L2060,368 L2052,348 L2037,366 L2037,366ZM1304,383 L1304,375 L1288,383 L1286,400 L1293,403ZM1370,365 L1365,358 L1352,364 L1355,383 L1356,387 L1365,383ZM1424,374 L1414,369 L1414,369 L1410,372 L1419,393 L1440,390 L1439,386ZM1436,368 L1424,374 L1439,386 L1442,380ZM1526,381 L1541,391 L1548,389 L1543,376ZM1679,399 L1674,385 L1664,389 L1666,396 L1669,399 L1676,403 L1678,404 L1679,403ZM1839,409 L1844,401 L1845,396 L1835,383 L1834,383 L1825,388 L1825,407ZM2051,391 L2039,387 L2036,399 L2037,400 L2052,400ZM1384,415 L1377,408 L1363,408 L1365,420 L1381,432 L1383,432ZM1417,410 L1416,398 L1396,395 L1396,403 L1413,415ZM1436,432 L1448,441 L1454,425 L1438,424 L1437,426ZM1556,395 L1549,417 L1550,422 L1556,423 L1564,411 L1565,399ZM1620,431 L1619,437 L1619,438 L1624,443 L1627,443 L1628,441 L1621,430ZM1630,420 L1624,412 L1610,409 L1598,410 L1598,410 L1594,423 L1626,422ZM1676,403 L1658,414 L1662,428 L1672,430 L1677,428 L1679,424 L1678,404ZM1914,406 L1902,407 L1896,410 L1899,416 L1917,431 L1918,431ZM2055,439 L2059,424 L2039,424 L2042,445ZM1361,453 L1350,464 L1349,471 L1363,479 L1377,473 L1373,455 L1372,453 L1366,452 L1362,453ZM1430,439 L1425,440 L1418,448 L1418,453 L1429,456 L1440,454ZM1449,458 L1449,458 L1447,458 L1446,460 L1448,476 L1460,482 L1465,475ZM1476,459 L1479,459 L1488,451 L1491,446 L1484,438 L1468,445 L1475,459ZM1619,438 L1608,448 L1611,451 L1617,450 L1624,443ZM1671,460 L1650,450 L1649,470 L1653,471ZM1632,455 L1647,445 L1649,437 L1649,437 L1642,433 L1628,441 L1627,443ZM1631,464 L1634,467 L1645,470 L1649,470 L1650,450 L1647,445 L1632,455 L1631,457ZM1704,465 L1687,458 L1677,461 L1678,472 L1699,489 L1702,483 L1704,468ZM1699,441 L1689,452 L1687,458 L1704,465 L1711,460ZM1673,480 L1678,472 L1677,461 L1675,460 L1671,460 L1653,471 L1657,479 L1666,484ZM1704,468 L1702,483 L1728,481ZM1969,428 L1954,441 L1967,444 L1969,441 L1970,432ZM1287,511 L1298,501 L1277,501 L1277,511ZM1322,508 L1338,507 L1335,495 L1319,496ZM1320,514 L1337,517 L1337,517 L1339,509 L1338,507 L1322,508ZM1364,502 L1365,504 L1372,506 L1386,500 L1387,490 L1384,475 L1377,473 L1363,479ZM1460,484 L1453,494 L1452,500 L1459,508 L1473,491ZM1460,482 L1448,476 L1444,482 L1453,494 L1460,484ZM1620,510 L1635,519 L1642,514 L1615,490 L1615,506ZM1640,486 L1636,490 L1645,512 L1646,512 L1653,507 L1653,485ZM1642,514 L1645,512 L1636,490 L1632,488 L1615,485 L1615,490ZM1666,484 L1657,479 L1653,485 L1653,507 L1662,503 L1666,498ZM1672,510 L1672,518 L1680,511ZM1684,497 L1666,498 L1662,503 L1672,510 L1680,511 L1684,511 L1694,505 L1695,500ZM1684,497 L1673,480 L1666,484 L1666,498ZM1698,495 L1699,489 L1678,472 L1673,480 L1684,497 L1695,500 L1698,496ZM1725,508 L1728,507 L1729,497 L1727,490 L1698,495 L1698,496ZM1852,493 L1852,491 L1846,482 L1845,482 L1821,484 L1820,489 L1830,498 L1839,499 L1849,497ZM1854,490 L1852,491 L1852,493 L1857,495 L1877,502 L1878,482 L1876,480ZM1930,513 L1930,512 L1923,500 L1905,506 L1904,509 L1918,521 L1923,521 L1930,513ZM1910,483 L1903,471 L1901,471 L1890,489 L1894,495 L1900,497 L1910,486ZM1945,484 L1937,476 L1933,476 L1927,484 L1927,491 L1939,491ZM1927,491 L1924,493 L1923,500 L1930,512 L1943,505 L1939,491ZM2028,472 L2026,499 L2033,502 L2039,486ZM1275,513 L1275,513 L1278,520 L1299,524 L1287,511 L1277,511ZM1479,516 L1477,518 L1480,533 L1484,536 L1495,534 L1506,528 L1508,524 L1495,515ZM1551,535 L1553,553 L1554,554 L1558,554 L1565,540 L1561,530 L1553,532ZM1748,526 L1745,520 L1739,516 L1728,532 L1738,539 L1740,539ZM1764,521 L1765,516 L1762,507 L1755,504 L1745,520 L1748,526 L1760,525ZM1763,540 L1761,548 L1762,549 L1769,551 L1774,552 L1780,546 L1778,531ZM1783,526 L1782,515 L1782,512 L1765,516 L1764,521 L1778,528ZM1858,520 L1850,507 L1837,520 L1852,529ZM1852,532 L1852,529 L1837,520 L1831,522 L1829,537 L1839,539 L1847,536ZM1829,519 L1819,512 L1812,512 L1818,544 L1829,537 L1831,522ZM1868,543 L1852,532 L1847,536 L1856,553ZM2054,536 L2062,527 L2064,518 L2055,505 L2052,505 L2036,505 L2034,516ZM1322,547 L1314,561 L1324,567 L1341,571 L1336,544 L1325,543ZM1327,607 L1346,592 L1326,583 L1318,584 L1323,607 L1324,608ZM1346,592 L1349,590 L1354,584 L1353,582 L1352,581 L1341,571 L1324,567 L1326,583ZM1336,544 L1341,571 L1352,581 L1351,543 L1346,541ZM1367,550 L1367,548 L1362,542 L1351,543 L1352,581 L1353,582ZM1426,579 L1434,597 L1443,595 L1440,580 L1432,574ZM1549,565 L1522,552 L1517,554 L1515,558 L1520,567 L1525,571 L1547,569ZM1593,552 L1591,551 L1581,551 L1573,559 L1588,571 L1591,569ZM1709,542 L1700,540 L1690,542 L1699,563 L1714,562 L1716,557ZM1727,554 L1716,557 L1714,562 L1716,569 L1719,572 L1737,570 L1737,562ZM1748,580 L1737,570 L1719,572 L1720,582 L1738,598 L1741,597 L1742,595ZM1697,582 L1699,597 L1720,582 L1719,572 L1716,569ZM1761,548 L1748,547 L1746,553 L1753,574 L1762,549ZM1753,574 L1752,578 L1759,578 L1769,551 L1762,549ZM1769,551 L1759,578 L1765,578 L1774,552 L1774,552ZM1780,561 L1774,552 L1765,578 L1774,582ZM1774,552 L1774,552 L1780,561 L1784,562 L1790,559 L1788,545 L1780,546ZM1814,549 L1809,546 L1796,543 L1788,545 L1790,559 L1814,554ZM1805,575 L1811,570 L1813,568 L1815,561 L1814,555 L1814,554 L1790,559 L1784,562 L1798,576ZM1811,570 L1825,603 L1835,601 L1840,596 L1841,596 L1838,588 L1813,568ZM1813,608 L1825,603 L1811,570 L1805,575 L1804,596ZM2058,581 L2058,583 L2065,592 L2081,586 L2081,585ZM1411,626 L1407,628 L1422,640 L1428,631ZM1430,618 L1423,619 L1411,626 L1428,631 L1432,626ZM1587,610 L1588,605 L1583,603 L1570,608 L1574,611 L1584,615ZM1587,621 L1584,615 L1574,611 L1575,630 L1583,624ZM1622,611 L1632,590 L1622,579 L1608,586 L1601,594 L1606,606 L1609,611 L1617,612 L1622,612ZM1617,612 L1609,611 L1601,621 L1608,638 L1615,633ZM1587,621 L1593,623 L1601,621 L1609,611 L1606,606 L1587,610 L1584,615ZM1601,594 L1600,594 L1588,605 L1587,610 L1606,606ZM1623,613 L1622,612 L1617,612 L1615,633 L1626,635 L1631,625ZM1656,632 L1657,631 L1647,612 L1639,615 L1639,627ZM1646,607 L1648,598 L1642,590 L1632,590 L1622,611ZM1661,599 L1648,598 L1646,607 L1647,612 L1657,631 L1664,627ZM1639,627 L1639,615 L1623,613 L1631,625ZM1673,608 L1669,594 L1661,599 L1664,627 L1664,627 L1668,622ZM1726,605 L1738,598 L1720,582 L1699,597 L1698,600 L1700,605 L1701,605 L1718,608ZM1775,583 L1774,582 L1765,578 L1759,578 L1752,578 L1748,580 L1742,595 L1772,594ZM1936,617 L1938,608 L1917,602 L1917,608 L1920,612ZM2019,603 L2023,609 L2031,613 L2048,603 L2044,593 L2041,592 L2029,595ZM2036,637 L2044,638 L2053,621 L2051,612 L2037,625ZM1358,627 L1339,640 L1354,651 L1360,648 L1366,638ZM1354,651 L1353,652 L1351,672 L1367,660 L1360,648ZM1423,654 L1422,640 L1407,628 L1398,626 L1397,627 L1401,639 L1411,652ZM1586,672 L1587,671 L1588,665 L1585,656 L1581,654 L1560,667 L1567,676ZM1569,639 L1561,640 L1554,657 L1557,664 L1560,667 L1581,654 L1570,639ZM1601,644 L1604,655 L1620,667 L1621,667 L1622,667 L1623,649 L1608,639ZM1585,656 L1588,665 L1604,655 L1601,644 L1593,642ZM1615,633 L1608,638 L1608,639 L1623,649 L1628,643 L1626,635ZM1658,653 L1658,652 L1638,651 L1625,667ZM1625,667 L1638,651 L1631,643 L1628,643 L1623,649 L1622,667 L1623,668ZM1638,651 L1658,652 L1656,634 L1631,643ZM1626,635 L1628,643 L1631,643 L1656,634 L1656,632 L1639,627 L1631,625ZM1689,630 L1696,644 L1700,644 L1705,639 L1700,623ZM1691,645 L1682,638 L1672,658 L1682,659ZM1687,663 L1698,664 L1702,654 L1700,644 L1696,644 L1691,645 L1682,659ZM1763,650 L1766,652 L1778,644 L1776,639 L1753,627 L1753,627ZM1819,649 L1819,655 L1831,674 L1843,661 L1845,651 L1840,646 L1831,639 L1824,640 L1820,641ZM1866,670 L1873,657 L1857,660 L1856,665 L1865,673ZM2047,659 L2037,659 L2042,668 L2050,666ZM2067,654 L2053,647 L2047,659 L2050,666 L2052,667 L2053,668 L2081,665 L2081,661ZM1206,677 L1203,679 L1202,684 L1209,705 L1227,705ZM1214,672 L1206,677 L1227,705 L1234,705 L1234,704 L1225,680 L1222,673ZM1234,704 L1236,702 L1250,681 L1252,675 L1225,680ZM1254,666 L1229,660 L1223,672 L1253,672 L1256,668ZM1256,668 L1253,672 L1252,675 L1250,681 L1264,691 L1268,693 L1278,683 L1276,671 L1271,670 L1257,668ZM1322,689 L1331,682 L1316,671 L1308,675 L1307,684 L1314,692ZM1308,705 L1326,705 L1315,692ZM1371,703 L1361,689 L1346,705 L1371,705ZM1361,689 L1361,682 L1349,675 L1344,675 L1338,682 L1340,705 L1346,705ZM1338,682 L1331,682 L1322,689 L1339,705 L1340,705ZM1576,696 L1566,687 L1565,688 L1562,705 L1578,705ZM1621,667 L1620,667 L1611,673 L1606,682 L1615,688ZM1645,692 L1646,692 L1665,675 L1662,667 L1636,680ZM1784,671 L1778,685 L1790,689 L1803,684 L1805,681 L1803,677 L1795,672 L1785,671Z" fill="#e6df45" stroke="#e6df45" stroke-width="0.8"/>
<path d="M1316,32 L1316,32 L1333,26 L1333,24 L1317,24ZM1321,46 L1323,43 L1316,32 L1316,32 L1293,35 L1292,38 L1307,45ZM1361,67 L1361,67 L1368,64 L1368,63 L1346,46 L1345,47 L1338,61ZM1316,32 L1323,43 L1336,39 L1333,26ZM1372,61 L1375,57 L1359,41 L1350,43 L1346,46 L1368,63ZM1359,41 L1375,57 L1380,52 L1381,42 L1367,33ZM1426,66 L1446,51 L1444,48 L1436,44 L1419,64ZM1407,45 L1408,47 L1430,34 L1430,24 L1413,24ZM1430,34 L1408,47 L1408,57 L1410,59 L1412,60 L1432,39ZM1419,64 L1436,44 L1432,39 L1412,60 L1418,65ZM1451,34 L1444,48 L1446,51 L1459,62 L1466,59 L1471,49ZM1472,24 L1450,24 L1451,25 L1472,47 L1477,41ZM1820,44 L1805,44 L1809,54 L1822,53 L1825,49ZM1820,44 L1815,36 L1799,35 L1805,44ZM1836,72 L1834,46 L1825,49 L1822,53 L1823,62 L1834,73ZM1809,54 L1805,61 L1811,67 L1813,68 L1823,62 L1822,53ZM1854,67 L1856,58 L1852,51 L1834,45 L1834,46 L1836,72 L1840,72ZM1867,54 L1865,24 L1862,24 L1852,51 L1856,58ZM1878,59 L1898,66 L1898,65 L1891,54 L1877,57ZM1896,33 L1919,40 L1924,38 L1926,24 L1891,24ZM1891,54 L1898,65 L1898,65 L1905,63 L1906,62 L1907,52 L1895,45 L1893,47ZM1932,59 L1928,44 L1914,63 L1928,67ZM1895,45 L1907,52 L1919,40 L1896,33ZM1956,49 L1960,31 L1938,43 L1951,53ZM1924,38 L1927,42 L1938,43 L1960,31 L1962,27 L1962,24 L1926,24ZM2003,34 L2004,32 L2004,24 L1987,24 L1982,46 L1982,46ZM2032,43 L2027,35 L2010,37 L2020,62 L2025,57ZM2004,32 L2010,37 L2027,35 L2029,24 L2004,24ZM2016,64 L2020,62 L2020,62 L2010,37 L2004,32 L2003,34 L2002,47 L2007,57ZM2056,41 L2054,38 L2032,43 L2025,57 L2039,57 L2056,43ZM1398,77 L1401,77 L1410,59 L1408,57 L1397,59 L1390,72ZM1404,82 L1401,77 L1398,77 L1387,92 L1391,93 L1403,85ZM1390,72 L1397,59 L1380,52 L1375,57 L1372,61 L1386,74ZM1403,85 L1391,93 L1400,104 L1413,101 L1413,93ZM1433,90 L1419,80 L1413,93 L1413,101 L1418,103 L1433,91ZM1436,86 L1436,86 L1439,73 L1426,66 L1419,64 L1418,65 L1418,77 L1419,80 L1433,90ZM1418,77 L1404,82 L1403,85 L1413,93 L1419,80ZM1412,60 L1410,59 L1401,77 L1404,82 L1418,77 L1418,65ZM1466,59 L1459,62 L1457,66 L1458,74 L1466,95 L1475,98 L1487,86 L1487,79 L1487,74ZM1436,86 L1449,90 L1449,84 L1436,86ZM1436,94 L1455,97 L1449,90 L1436,86 L1433,90 L1433,91ZM1466,95 L1458,74 L1449,84 L1449,90 L1455,97 L1456,98ZM1487,79 L1509,79 L1511,77 L1496,67 L1487,74ZM1487,79 L1487,86 L1496,89 L1507,84 L1509,79ZM1550,90 L1541,82 L1541,82 L1535,88 L1541,104 L1555,102 L1555,99ZM1509,79 L1507,84 L1511,88 L1525,92 L1525,92 L1526,91 L1514,76 L1511,77ZM1560,65 L1531,60 L1527,65 L1541,82 L1541,82ZM1502,57 L1516,73 L1526,64 L1525,64 L1507,55ZM1527,65 L1526,64 L1516,73 L1514,76 L1526,91 L1535,88 L1541,82ZM1570,95 L1569,87 L1550,90 L1555,99ZM1578,101 L1590,80 L1572,77 L1569,87 L1570,95 L1574,100ZM1808,92 L1812,84 L1813,81 L1801,80 L1793,80ZM1827,80 L1831,100 L1834,103 L1838,103 L1844,100 L1848,96 L1848,96 L1832,75ZM1832,75 L1848,96 L1840,72 L1836,72 L1834,73ZM1880,83 L1876,80 L1861,76 L1854,89 L1878,90ZM1875,54 L1867,54 L1856,58 L1854,67 L1861,76 L1876,80 L1878,59 L1877,57ZM2018,94 L2026,88 L2031,72 L2020,62 L2016,64 L2012,68 L2018,94ZM2066,77 L2060,99 L2062,101 L2073,105 L2081,104 L2081,83ZM1345,133 L1347,136 L1351,135 L1357,131 L1350,126ZM1394,120 L1387,122 L1383,144 L1387,149 L1408,135 L1401,125ZM1400,104 L1391,93 L1387,92 L1381,90 L1371,93 L1369,96 L1386,121 L1387,122 L1394,120ZM1496,149 L1499,148 L1500,144 L1497,135 L1484,132 L1475,144ZM1484,132 L1497,135 L1498,116 L1480,111 L1477,119ZM1475,144 L1484,132 L1477,119 L1463,137 L1468,145ZM1506,112 L1498,116 L1497,135 L1500,144 L1521,132 L1524,125 L1524,124ZM1480,111 L1498,116 L1506,112 L1508,106 L1503,97 L1496,89 L1487,86 L1475,98 L1478,108ZM1525,92 L1508,106 L1506,112 L1524,124 L1529,111 L1525,92ZM1540,106 L1529,111 L1524,124 L1524,125 L1532,126 L1545,114ZM1535,88 L1526,91 L1525,92 L1529,111 L1540,106 L1541,104ZM1574,100 L1570,95 L1555,99 L1555,102 L1556,109 L1566,110ZM1654,123 L1652,110 L1640,104 L1633,105 L1637,126 L1638,127 L1651,129ZM1802,136 L1811,139 L1830,128 L1828,113 L1817,115 L1805,120ZM1846,116 L1838,103 L1834,103 L1828,113 L1830,128 L1833,130 L1849,125ZM1860,131 L1861,130 L1849,125 L1833,130 L1839,144 L1843,143ZM1862,129 L1861,116 L1846,116 L1849,125 L1861,130ZM2002,131 L1999,137 L2014,140 L2015,131 L2013,126ZM1194,156 L1186,154 L1176,165 L1186,181 L1196,177 L1200,173 L1200,162 L1197,158ZM1222,133 L1207,133 L1206,147 L1224,146 L1222,133ZM1287,171 L1282,173 L1281,180 L1282,185 L1288,191 L1294,191 L1296,179ZM1337,171 L1355,179 L1362,171 L1365,163 L1360,160 L1343,156ZM1345,133 L1331,124 L1319,128 L1318,128 L1320,138 L1343,153 L1344,151 L1347,136ZM1380,161 L1370,160 L1365,163 L1362,171 L1376,176 L1383,174ZM1497,176 L1494,156 L1490,158 L1486,169 L1492,178 L1495,178ZM1532,126 L1524,125 L1521,132 L1523,137 L1533,156 L1543,157 L1550,147 L1551,139ZM1586,179 L1592,165 L1585,152 L1585,152 L1577,154 L1569,167 L1568,173 L1572,180ZM1837,148 L1829,157 L1850,170 L1855,168 L1853,157ZM1837,148 L1839,144 L1833,130 L1830,128 L1811,139 L1818,148 L1828,158 L1829,157ZM1177,191 L1171,193 L1171,217 L1173,218 L1177,217 L1194,201ZM1200,194 L1196,177 L1186,181 L1177,191 L1194,201 L1196,202ZM1198,205 L1210,210 L1215,198 L1214,194 L1200,194 L1196,202ZM1194,201 L1177,217 L1191,217 L1198,205 L1196,202ZM1216,182 L1214,194 L1215,198 L1222,199 L1240,189ZM1228,208 L1227,213 L1233,216 L1237,217 L1238,217 L1248,203 L1247,195ZM1213,220 L1227,213 L1228,208 L1222,199 L1215,198 L1210,210ZM1240,189 L1222,199 L1228,208 L1247,195 L1247,194 L1246,190 L1244,189ZM1218,176 L1215,180 L1216,182 L1240,189 L1244,189 L1237,167ZM1254,183 L1267,182 L1270,175 L1266,164 L1260,168ZM1294,191 L1298,194 L1323,185 L1323,184 L1305,166 L1303,165 L1296,179ZM1314,208 L1326,200 L1327,195 L1323,185 L1298,194 L1300,202ZM1275,205 L1275,210 L1284,220 L1295,219 L1300,202 L1298,194 L1294,191 L1288,191ZM1333,218 L1326,200 L1314,208 L1315,222ZM1336,172 L1323,184 L1323,185 L1327,195 L1341,197 L1346,195ZM1402,218 L1421,222 L1421,222 L1422,222 L1423,204 L1414,196 L1406,202 L1400,214ZM1406,202 L1414,196 L1414,193 L1391,192 L1391,193ZM1478,182 L1473,169 L1465,171 L1454,186 L1455,187 L1476,186ZM1537,203 L1551,219 L1558,215 L1559,212 L1558,208 L1540,200ZM1614,182 L1616,182 L1621,178 L1617,169 L1613,177ZM1606,165 L1604,181 L1609,178ZM1799,192 L1802,207 L1813,207 L1823,201 L1820,191 L1820,191ZM1773,210 L1775,217 L1778,220 L1798,214 L1801,208 L1778,199ZM2032,199 L2029,209 L2038,220 L2047,215 L2049,205 L2034,198ZM2067,186 L2081,186 L2081,165 L2065,168 L2060,172 L2059,175 L2063,185ZM2035,195 L2034,198 L2049,205 L2056,202 L2056,197 L2047,189ZM1207,232 L1195,235 L1185,243 L1184,245 L1203,258 L1213,256 L1211,233 L1211,233ZM1177,217 L1173,218 L1195,235 L1207,232 L1191,217ZM1250,207 L1248,203 L1238,217 L1246,231 L1254,222ZM1356,244 L1349,249 L1359,258 L1369,251 L1368,240 L1367,239ZM1368,240 L1388,242 L1393,235 L1377,221 L1366,234 L1367,239ZM1347,220 L1366,234 L1377,221 L1377,221 L1354,213ZM1377,221 L1378,219 L1362,201 L1354,213ZM1379,264 L1385,262 L1389,249 L1388,242 L1368,240 L1369,251ZM1395,234 L1413,243 L1418,236 L1421,222 L1402,218ZM1761,234 L1786,238 L1778,220 L1775,217 L1761,226 L1759,233ZM1761,249 L1766,246 L1761,234 L1759,233 L1747,240 L1750,251ZM1788,243 L1792,240 L1803,225 L1798,214 L1778,220 L1786,238ZM1803,225 L1792,240 L1819,239 L1808,224ZM1801,208 L1798,214 L1803,225 L1808,224 L1812,221 L1813,207 L1802,207ZM1789,254 L1796,259 L1813,256 L1820,248 L1820,239 L1819,239 L1792,240 L1788,243 L1788,246ZM1839,223 L1850,239 L1863,233 L1857,225ZM1826,235 L1820,239 L1820,248 L1836,259 L1841,243ZM1853,215 L1834,217 L1839,223 L1857,225ZM1813,207 L1812,221 L1827,226 L1833,217 L1830,205 L1823,201ZM2071,205 L2062,206 L2059,220 L2081,216 L2081,209ZM1187,280 L1188,267 L1176,255 L1171,255 L1171,269ZM1322,244 L1319,245 L1315,256 L1333,271 L1334,268 L1330,252ZM1352,265 L1343,262 L1334,268 L1333,271 L1331,281 L1333,285 L1334,286 L1349,290 L1352,282ZM1343,262 L1352,265 L1358,263 L1359,258 L1349,249 L1346,250 L1345,251ZM1358,263 L1352,265 L1352,282 L1364,268ZM1352,282 L1349,290 L1356,295 L1371,291 L1375,284 L1375,271 L1364,268ZM1409,254 L1389,249 L1385,262 L1394,266 L1395,266 L1407,259ZM1403,280 L1395,266 L1394,266 L1387,283 L1397,286ZM1375,271 L1379,264 L1369,251 L1359,258 L1358,263 L1364,268ZM1555,276 L1563,264 L1561,260 L1550,258 L1541,263ZM1571,248 L1566,250 L1561,260 L1563,264 L1577,270 L1580,269 L1585,258ZM1561,260 L1566,250 L1555,240 L1554,240 L1550,254 L1550,258ZM1689,294 L1692,294 L1698,273 L1692,271 L1675,280ZM1706,273 L1711,284 L1718,286 L1726,275 L1719,262 L1707,271ZM1750,272 L1752,272 L1769,266 L1761,249 L1750,251 L1749,252ZM1744,292 L1755,301 L1766,298 L1767,287 L1765,284 L1752,272 L1750,272 L1750,272 L1743,284 L1742,287ZM1774,277 L1776,267 L1776,266 L1769,266 L1752,272 L1765,284ZM1816,259 L1813,256 L1796,259 L1799,269 L1810,273 L1818,268ZM1776,267 L1774,277 L1776,284 L1784,282ZM1797,281 L1799,269 L1796,259 L1789,254 L1776,266 L1776,267 L1784,282 L1790,286ZM1807,290 L1817,281 L1810,273 L1799,269 L1797,281ZM1857,259 L1849,240 L1841,243 L1836,259 L1837,264 L1839,271 L1844,271ZM1820,248 L1813,256 L1816,259 L1837,264 L1836,259ZM1839,271 L1837,264 L1816,259 L1818,268 L1834,275ZM1834,275 L1818,268 L1810,273 L1817,281 L1831,281ZM1861,292 L1862,278 L1848,274 L1853,295ZM1862,278 L1874,275 L1860,259 L1857,259 L1844,271 L1848,274ZM2005,282 L1990,278 L1987,285 L1989,290 L2002,296 L2006,292ZM2016,271 L2005,282 L2006,292 L2016,293ZM2075,248 L2067,269 L2072,273 L2081,273 L2081,249ZM1216,307 L1211,283 L1190,288ZM1181,316 L1194,308 L1186,289 L1171,293 L1171,301ZM1195,335 L1207,320 L1194,308 L1181,316 L1180,326 L1194,334ZM1389,312 L1390,318 L1395,323 L1407,316 L1409,313 L1400,302ZM1664,272 L1660,272 L1651,291 L1662,303 L1666,302 L1672,279ZM1692,294 L1689,294 L1682,303 L1693,315 L1700,313 L1703,299ZM1664,325 L1677,328 L1678,327 L1673,305 L1666,302 L1662,303 L1657,309ZM1666,302 L1673,305 L1682,303 L1689,294 L1675,280 L1672,279ZM1724,291 L1719,303 L1724,311 L1724,311 L1735,289ZM1724,311 L1741,297 L1744,292 L1742,287 L1735,289ZM1704,299 L1703,299 L1700,313 L1708,322 L1724,316 L1724,311 L1719,303ZM1775,285 L1767,287 L1766,298 L1776,302 L1784,301ZM1785,301 L1808,300 L1809,297 L1807,290 L1797,281 L1790,286 L1785,301ZM1963,320 L1976,323 L1981,313 L1972,303 L1967,304ZM2049,310 L2047,290 L2042,284 L2036,285 L2034,287 L2032,315 L2032,317ZM2006,292 L2002,296 L2002,309 L2007,309 L2018,300 L2018,294 L2016,293ZM2034,287 L2018,294 L2018,300 L2032,315ZM2067,303 L2066,295 L2047,290 L2049,310 L2049,310 L2064,308ZM2081,326 L2081,304 L2067,303 L2064,308 L2072,325ZM2031,319 L2047,337 L2052,339 L2059,334 L2049,310 L2049,310 L2032,317 L2031,318ZM1268,336 L1261,358 L1268,361 L1279,351ZM1665,340 L1669,340 L1677,328 L1664,325 L1653,331 L1652,340ZM1660,354 L1660,365 L1665,369 L1675,369 L1681,357 L1673,351 L1662,353ZM1669,340 L1673,351 L1681,357 L1687,354 L1688,353 L1690,342 L1689,336 L1680,328 L1678,327 L1677,328ZM1687,354 L1694,363 L1716,356 L1716,355 L1688,353ZM1673,351 L1669,340 L1665,340 L1662,353ZM1716,366 L1716,356 L1694,363 L1700,378 L1709,373ZM1718,351 L1740,351 L1746,347 L1746,332 L1742,326 L1736,323 L1734,323 L1717,345 L1717,347ZM1770,341 L1766,332 L1765,330 L1746,332 L1746,347 L1753,350 L1768,349ZM1762,368 L1773,358 L1772,353 L1768,349 L1753,350 L1756,362 L1760,367ZM2059,334 L2052,339 L2053,344 L2072,356 L2075,356 L2074,346 L2059,334ZM1274,371 L1256,376 L1256,387 L1264,391 L1269,391 L1276,377 L1275,372 L1275,372ZM1288,383 L1276,377 L1269,391 L1279,401 L1286,400ZM1276,377 L1288,383 L1304,375 L1305,374 L1300,366 L1275,372ZM1329,400 L1326,389 L1312,394 L1311,404 L1320,404ZM1390,386 L1392,381 L1377,366 L1370,365 L1365,383 L1387,387ZM1617,350 L1610,357 L1605,371 L1614,379 L1623,383 L1631,384 L1636,351 L1636,350 L1627,346ZM1660,365 L1652,366 L1640,387 L1643,389 L1645,389 L1657,385 L1665,369ZM1640,387 L1652,366 L1636,351 L1631,384 L1632,385ZM1666,396 L1658,399 L1660,403 L1669,399ZM1650,394 L1657,411 L1660,403 L1658,399ZM1679,376 L1675,369 L1665,369 L1657,385 L1664,389 L1674,385ZM1689,380 L1698,381 L1700,378 L1694,363 L1687,354 L1681,357 L1675,369 L1679,376ZM1689,380 L1679,376 L1674,385 L1679,399ZM1698,403 L1699,385 L1698,381 L1689,380 L1679,399 L1679,403ZM1743,376 L1732,378 L1726,394 L1726,395 L1726,396 L1728,398 L1754,389 L1744,376ZM1744,370 L1739,358 L1726,371 L1732,378 L1743,376ZM1726,395 L1699,385 L1698,403 L1699,404 L1709,405 L1726,396ZM1726,394 L1709,373 L1700,378 L1698,381 L1699,385 L1726,395ZM1732,378 L1726,371 L1716,366 L1709,373 L1726,394ZM1754,389 L1760,392 L1766,379 L1762,368 L1760,367 L1744,376ZM1766,379 L1787,371 L1773,358 L1762,368ZM1788,408 L1793,393 L1791,386 L1777,397 L1784,410ZM1902,407 L1911,384 L1900,375 L1897,378 L1893,386 L1891,407 L1892,408 L1896,410ZM1911,384 L1915,386 L1917,385 L1926,366 L1912,358 L1900,368 L1900,375ZM1914,406 L1921,400 L1922,399 L1915,386 L1911,384 L1902,407 L1914,406ZM2021,404 L2027,388 L2015,387 L2013,388 L2012,394 L2016,403ZM1300,412 L1293,403 L1286,400 L1279,401 L1274,408 L1285,422 L1300,415 L1300,414ZM1354,430 L1348,424 L1328,433 L1329,436 L1344,441 L1349,439 L1354,433ZM1391,411 L1384,415 L1383,432 L1384,433 L1395,436 L1396,436 L1409,424ZM1530,438 L1536,428 L1528,419 L1506,426 L1509,442 L1516,448 L1518,448ZM1630,420 L1633,420 L1643,411 L1643,389 L1640,387 L1632,385 L1624,412ZM1669,399 L1660,403 L1657,411 L1657,414 L1658,414 L1676,403ZM1649,437 L1662,428 L1658,414 L1657,414 L1643,411 L1633,420 L1642,433ZM1657,414 L1657,411 L1650,394 L1645,389 L1643,389 L1643,411ZM1679,424 L1677,428 L1681,430 L1696,432 L1698,417 L1697,414ZM1701,436 L1696,432 L1681,430 L1689,452 L1699,441ZM1777,397 L1761,393 L1754,417 L1762,423 L1770,424 L1778,423 L1782,420 L1784,419 L1784,410ZM1798,450 L1813,446 L1810,430 L1809,426 L1796,437 L1791,449ZM1855,429 L1862,409 L1844,401 L1839,409 L1840,417 L1850,429ZM1862,409 L1855,429 L1855,429 L1865,426 L1871,416 L1863,408ZM1926,409 L1921,400 L1914,406 L1926,420ZM1892,408 L1883,418 L1891,434 L1895,435 L1899,416 L1896,410ZM1969,426 L1961,422 L1936,438 L1944,449 L1954,441 L1969,428ZM1940,408 L1941,402 L1935,396 L1922,399 L1921,400 L1926,409ZM1929,431 L1941,415 L1940,408 L1926,409 L1926,420ZM1928,433 L1936,438 L1961,422 L1959,419 L1941,415 L1929,431ZM1293,437 L1278,430 L1277,430 L1264,439 L1277,451 L1291,448 L1296,442ZM1292,471 L1278,464 L1270,470 L1270,470 L1283,487 L1285,486 L1294,473ZM1296,442 L1291,448 L1294,458 L1305,455 L1312,449 L1304,443ZM1291,448 L1277,451 L1278,464 L1292,471 L1294,458ZM1305,455 L1294,458 L1292,471 L1294,473 L1302,474ZM1330,475 L1317,463 L1303,475 L1312,486ZM1484,488 L1500,482 L1501,479 L1499,474 L1484,469 L1476,479 L1481,487ZM1546,449 L1550,441 L1544,426 L1536,428 L1530,438 L1546,449ZM1551,459 L1553,454 L1546,449 L1546,449 L1533,463 L1542,471ZM1533,463 L1546,449 L1530,438 L1518,448 L1526,459ZM1546,449 L1553,454 L1573,448 L1574,445 L1550,441ZM1551,459 L1542,471 L1543,473 L1557,478 L1562,475 L1565,469ZM1575,453 L1573,448 L1553,454 L1551,459 L1565,469ZM1562,475 L1573,480 L1578,456 L1575,453 L1565,469ZM1585,431 L1576,436 L1574,445 L1573,448 L1575,453 L1578,456 L1588,464 L1594,465 L1606,448 L1600,438 L1595,430 L1592,428ZM1687,458 L1689,452 L1681,430 L1677,428 L1672,430 L1673,455 L1675,460 L1677,461ZM1649,437 L1673,455 L1672,430 L1662,428 L1649,437ZM1712,460 L1725,446 L1719,439 L1710,434 L1701,436 L1699,441 L1711,460ZM1725,472 L1737,451 L1729,447 L1725,446 L1712,460ZM1729,481 L1742,477 L1743,476 L1743,458 L1737,452 L1737,451 L1725,472ZM1923,466 L1920,477 L1927,484 L1933,476ZM1937,476 L1946,455 L1945,454 L1923,465 L1923,466 L1933,476ZM1960,481 L1952,458 L1952,458 L1946,455 L1937,476 L1945,484ZM1952,458 L1952,458 L1977,457 L1979,456 L1969,441 L1967,444ZM1201,506 L1194,501 L1190,501 L1171,509 L1171,529 L1174,529 L1203,514ZM1190,501 L1184,490 L1177,485 L1171,486 L1171,509ZM1211,517 L1221,501 L1209,496 L1201,506 L1203,514 L1207,517ZM1221,501 L1225,501 L1232,490 L1228,477 L1214,473 L1212,474 L1209,496ZM1298,501 L1299,500 L1285,486 L1283,487 L1276,493 L1277,501ZM1308,523 L1309,523 L1320,514 L1322,508 L1319,496 L1312,492 L1303,501ZM1481,487 L1476,479 L1467,474 L1465,475 L1460,482 L1460,484 L1473,491ZM1503,508 L1506,499 L1484,506 L1479,516 L1495,515ZM1512,522 L1526,519 L1527,518 L1527,518 L1522,511 L1506,498 L1506,499 L1503,508ZM1508,524 L1512,522 L1503,508 L1495,515ZM1459,508 L1460,511 L1477,518 L1479,516 L1484,506 L1484,488 L1481,487 L1473,491ZM1519,489 L1506,491 L1506,498 L1522,511 L1522,493ZM1536,483 L1526,483 L1519,489 L1522,493 L1540,502 L1541,501ZM1557,478 L1557,493 L1562,493 L1572,495 L1574,481 L1573,480 L1562,475ZM1567,517 L1577,520 L1593,505 L1593,504 L1586,497 L1573,496 L1568,514ZM1649,470 L1645,470 L1640,486 L1653,485 L1657,479 L1653,471ZM1661,527 L1671,525 L1672,518 L1672,510 L1662,503 L1653,507 L1646,512 L1660,526ZM1874,517 L1880,514 L1880,506 L1877,502 L1857,495ZM1880,514 L1892,521 L1904,509 L1905,506 L1900,497 L1894,495 L1880,506ZM1927,484 L1920,477 L1910,483 L1910,486 L1924,493 L1927,491ZM1900,497 L1905,506 L1923,500 L1924,493 L1910,486ZM1951,507 L1961,521 L1966,522 L1973,499 L1963,484ZM1943,505 L1951,507 L1963,484 L1963,484 L1960,481 L1945,484 L1939,491ZM1206,542 L1208,541 L1205,522 L1200,531ZM1198,557 L1204,552 L1205,545 L1196,541 L1187,554ZM1196,541 L1205,545 L1206,542 L1200,531 L1187,534ZM1196,541 L1187,534 L1174,529 L1171,529 L1171,549 L1177,552 L1187,554ZM1200,531 L1205,522 L1207,517 L1203,514 L1174,529 L1187,534ZM1276,534 L1272,542 L1278,550 L1295,537 L1295,533 L1280,531ZM1279,555 L1278,550 L1272,542 L1257,542 L1255,560 L1266,565ZM1301,563 L1309,564 L1314,561 L1322,547 L1296,541ZM1280,531 L1295,533 L1302,526 L1299,524 L1278,520ZM1346,541 L1351,543 L1362,542 L1366,536 L1360,522 L1346,533ZM1360,522 L1359,514 L1345,526 L1346,533ZM1336,544 L1346,541 L1346,533 L1345,526 L1337,517 L1337,517 L1321,534 L1325,543ZM1321,534 L1337,517 L1320,514 L1309,523ZM1374,510 L1372,506 L1365,504 L1361,506 L1359,514 L1360,522 L1366,536 L1375,530ZM1495,534 L1514,548 L1506,528ZM1538,535 L1551,535 L1553,532 L1546,524 L1533,523ZM1527,518 L1533,523 L1546,524 L1561,514 L1549,501 L1541,501 L1540,502 L1527,518ZM1526,519 L1517,552 L1517,554 L1522,552 L1538,546 L1538,535 L1533,523 L1527,518ZM1553,532 L1561,530 L1567,517 L1561,514 L1546,524ZM1567,517 L1561,530 L1565,540 L1578,538 L1583,529 L1577,520 L1567,517ZM1593,532 L1583,529 L1578,538 L1581,551 L1591,551ZM1606,555 L1612,551 L1615,547 L1607,531 L1604,530 L1598,552ZM1600,511 L1593,505 L1577,520 L1583,529 L1593,532 L1604,530 L1604,524ZM1604,530 L1604,530 L1593,532 L1591,551 L1593,552 L1598,552ZM1633,522 L1607,531 L1615,547 L1622,547 L1635,539ZM1620,510 L1604,524 L1604,530 L1604,530 L1607,531 L1633,522 L1635,519ZM1636,540 L1638,545 L1640,550 L1650,561 L1658,557 L1649,541ZM1636,540 L1635,539 L1622,547 L1627,559 L1638,545ZM1655,537 L1660,526 L1646,512 L1645,512 L1642,514 L1635,519 L1633,522 L1635,539 L1636,540 L1649,541ZM1668,540 L1686,544 L1688,542 L1683,531 L1676,525 L1671,525 L1661,527ZM1659,557 L1666,560 L1677,560 L1678,560 L1686,544 L1668,540 L1661,549ZM1672,518 L1671,525 L1676,525 L1684,511 L1680,511ZM1694,505 L1684,511 L1676,525 L1683,531 L1695,512 L1695,508ZM1695,512 L1700,537 L1710,519 L1695,508ZM1892,522 L1892,522 L1873,534 L1873,543 L1877,545 L1879,544ZM1873,543 L1873,534 L1869,521 L1858,520 L1852,529 L1852,532 L1868,543ZM1892,522 L1892,521 L1880,514 L1874,517 L1869,521 L1873,534ZM1890,542 L1896,527 L1892,522 L1879,544ZM1907,541 L1906,534 L1896,527 L1890,542 L1898,544ZM1877,545 L1878,549 L1888,557 L1894,554 L1898,544 L1890,542 L1879,544ZM1892,522 L1896,527 L1906,534 L1918,521 L1904,509 L1892,521 L1892,522ZM1894,554 L1903,556 L1904,556 L1906,555 L1910,549 L1911,545 L1907,541 L1898,544ZM1925,543 L1931,538 L1923,521 L1918,521 L1906,534 L1907,541 L1911,545ZM1944,536 L1948,531 L1951,527 L1930,513 L1930,513ZM1923,521 L1931,538 L1941,539 L1944,536 L1930,513ZM1381,550 L1367,548 L1367,550 L1378,571 L1381,571 L1385,555 L1385,552ZM1426,548 L1418,554 L1416,562 L1432,571 L1437,563 L1437,562 L1429,550ZM1398,562 L1402,573 L1410,564 L1400,546 L1399,546ZM1432,571 L1416,562 L1410,564 L1402,573 L1399,579 L1402,587 L1408,589 L1426,579 L1432,574ZM1553,553 L1538,546 L1522,552 L1549,565 L1554,554ZM1540,589 L1554,590 L1554,587 L1547,569 L1525,571 L1526,573ZM1525,571 L1520,567 L1518,571 L1512,587 L1525,591 L1526,573ZM1568,572 L1568,572 L1571,559 L1558,554 L1554,554 L1549,565 L1547,569 L1554,587ZM1559,598 L1581,587 L1568,572 L1554,587 L1554,590ZM1568,572 L1568,572 L1581,587 L1585,585 L1586,578ZM1573,559 L1571,559 L1568,572 L1586,578 L1588,571ZM1593,552 L1591,569 L1598,569 L1606,565 L1606,555 L1598,552ZM1608,586 L1622,579 L1622,575 L1606,565 L1598,569ZM1627,559 L1622,547 L1615,547 L1612,551 L1625,570 L1628,568 L1628,564ZM1591,569 L1588,571 L1586,578 L1585,585 L1591,589 L1600,594 L1601,594 L1608,586 L1598,569ZM1627,559 L1628,564 L1640,550 L1638,545ZM1668,584 L1677,560 L1666,560 L1665,581ZM1690,572 L1687,571 L1671,587 L1671,591 L1698,600 L1699,597 L1697,582ZM1784,562 L1780,561 L1774,582 L1775,583 L1780,584 L1798,576ZM1804,596 L1805,575 L1798,576 L1780,584 L1790,599ZM1813,568 L1838,588 L1845,568 L1815,561ZM1815,561 L1845,568 L1852,563 L1852,561 L1845,555 L1814,555ZM1841,596 L1850,594 L1858,586 L1853,563 L1852,563 L1845,568 L1838,588ZM1871,582 L1874,585 L1881,586 L1891,570 L1891,569 L1872,571ZM1853,563 L1858,586 L1871,582 L1872,571 L1869,567ZM1910,549 L1922,567 L1929,563 L1925,543 L1911,545ZM2000,586 L2018,572 L2017,571 L1997,580ZM2007,604 L2007,604 L2019,603 L2014,585 L2001,590 L2001,592 L2002,600ZM2015,557 L2013,564 L2017,571 L2018,572 L2019,573 L2036,570 L2045,561 L2046,553ZM2019,573 L2018,572 L2000,586 L2001,590 L2014,585 L2019,575ZM2041,592 L2036,570 L2019,573 L2019,575 L2029,595ZM2019,575 L2014,585 L2019,603 L2019,603 L2029,595ZM2066,549 L2050,547 L2049,549 L2080,568 L2081,568 L2081,560 L2070,549ZM2046,553 L2045,561 L2058,573 L2080,568 L2049,549 L2047,551 L2046,552ZM2081,585 L2081,568 L2080,568 L2058,573 L2058,581ZM2044,593 L2058,583 L2058,581 L2058,573 L2045,561 L2036,570 L2041,592ZM1358,627 L1358,625 L1338,626 L1335,640 L1339,640ZM1402,587 L1393,593 L1390,598 L1402,618 L1408,607 L1411,596 L1408,589ZM1379,639 L1392,627 L1380,610 L1358,624 L1358,625 L1358,627 L1366,638ZM1397,627 L1398,626 L1402,618 L1390,598 L1380,610 L1380,610 L1392,627ZM1423,619 L1408,607 L1402,618 L1398,626 L1407,628 L1411,626ZM1527,595 L1525,600 L1532,613 L1559,598 L1559,598 L1554,590 L1540,589ZM1585,585 L1581,587 L1559,598 L1559,598 L1562,604 L1570,608 L1583,603 L1591,589ZM1574,611 L1570,608 L1562,604 L1556,633 L1561,640 L1569,639 L1575,630ZM1591,589 L1583,603 L1588,605 L1600,594ZM1693,608 L1673,608 L1668,622ZM1694,608 L1700,605 L1698,600 L1671,591 L1669,594 L1673,608 L1693,608ZM1701,605 L1700,605 L1694,608 L1678,630 L1679,631 L1689,630 L1700,623 L1701,620ZM1741,597 L1738,598 L1726,605 L1737,636 L1739,637 L1751,626 L1745,603ZM1713,626 L1722,625 L1718,608 L1701,605 L1701,620ZM1713,626 L1701,620 L1700,623 L1705,639 L1708,640 L1712,637ZM1745,603 L1751,626 L1751,626 L1769,614 L1770,608 L1769,604ZM1776,639 L1781,624 L1779,623 L1753,627ZM1753,627 L1779,623 L1769,614 L1751,626 L1753,627ZM1770,608 L1769,614 L1779,623 L1781,624 L1782,624 L1788,614 L1787,610ZM1780,584 L1775,583 L1772,594 L1771,599 L1788,603 L1790,599ZM1913,631 L1925,633 L1920,612 L1917,608 L1906,619ZM1949,635 L1952,635 L1962,617 L1957,612 L1942,626ZM2000,628 L2012,627 L2007,604 L2007,604 L1997,619ZM2037,625 L2051,612 L2053,606 L2048,603 L2031,613ZM2007,604 L2012,627 L2017,628 L2023,609 L2019,603 L2019,603ZM2044,638 L2048,640 L2057,634 L2062,627 L2053,621ZM2061,606 L2065,592 L2058,583 L2044,593 L2048,603 L2053,606ZM1384,655 L1386,656 L1396,648 L1401,639 L1397,627 L1392,627 L1379,639ZM1351,672 L1349,675 L1361,682 L1372,678 L1371,661 L1367,660ZM1372,678 L1372,678 L1390,663 L1390,661 L1386,656 L1384,655 L1371,661ZM1360,648 L1367,660 L1371,661 L1384,655 L1379,639 L1366,638ZM1470,643 L1471,639 L1471,626 L1466,627 L1455,633 L1459,648 L1461,648ZM1459,648 L1455,633 L1447,633 L1444,634 L1440,650 L1456,651ZM1461,648 L1459,648 L1456,651 L1458,664 L1467,664 L1472,661ZM1473,661 L1477,653 L1470,643 L1461,648 L1472,661ZM1482,619 L1481,619 L1481,619 L1471,626 L1471,639 L1486,647 L1492,645 L1497,631ZM1487,670 L1495,677 L1505,675 L1510,668 L1509,660 L1493,649ZM1483,669 L1487,670 L1493,649 L1492,645 L1486,647 L1477,653 L1473,661ZM1486,647 L1471,639 L1470,643 L1477,653ZM1507,635 L1502,630 L1497,631 L1492,645 L1493,649 L1509,660 L1511,654ZM1527,670 L1538,655 L1530,649 L1514,668 L1527,670ZM1581,654 L1585,656 L1593,642 L1590,639 L1585,639 L1570,639ZM1575,630 L1569,639 L1570,639 L1585,639 L1583,624ZM1636,680 L1662,667 L1663,660 L1658,653 L1625,667 L1623,668 L1632,679ZM1696,644 L1689,630 L1679,631 L1682,638 L1691,645ZM1698,664 L1698,665 L1707,666 L1717,664 L1712,655 L1702,654ZM1726,631 L1722,625 L1713,626 L1712,637ZM1739,637 L1737,636 L1726,631 L1712,637 L1708,640 L1716,647 L1730,649 L1738,638ZM1705,639 L1700,644 L1702,654 L1712,655 L1716,647 L1708,640ZM1751,626 L1751,626 L1739,637 L1738,638 L1745,645 L1763,650 L1753,627ZM1730,649 L1727,667 L1732,669 L1749,661 L1745,645 L1738,638ZM1960,652 L1962,649 L1964,637 L1952,635 L1949,635 L1944,648 L1945,649ZM1972,651 L1976,650 L1986,642 L1973,631 L1964,637 L1962,649ZM2053,647 L2048,640 L2044,638 L2036,637 L2028,640 L2023,651 L2024,655 L2037,659 L2047,659ZM2072,637 L2064,637 L2067,654 L2081,661 L2081,660ZM2062,627 L2057,634 L2064,637 L2072,637 L2073,621ZM2064,637 L2057,634 L2048,640 L2053,647 L2067,654ZM1225,680 L1252,675 L1253,672 L1223,672 L1222,673ZM1331,682 L1338,682 L1344,675 L1334,663 L1319,667 L1316,671ZM1450,670 L1457,690 L1465,686 L1465,686 L1467,664 L1458,664ZM1487,670 L1483,669 L1465,686 L1465,686 L1478,690 L1492,685 L1495,677ZM1509,701 L1492,695 L1490,705 L1509,705ZM1509,705 L1536,705 L1537,698 L1537,696 L1522,689 L1513,687 L1509,700 L1509,701ZM1522,689 L1537,696 L1538,680 L1527,670 L1527,670ZM1567,676 L1560,667 L1557,664 L1538,680 L1537,696 L1537,698 L1565,688 L1566,687ZM1565,688 L1537,698 L1536,705 L1562,705ZM1653,705 L1671,705 L1664,693 L1652,696ZM1622,701 L1622,705 L1637,705 L1645,692 L1636,680 L1632,679ZM1645,692 L1637,705 L1653,705 L1652,696 L1646,692ZM1687,687 L1699,681 L1698,665 L1698,664 L1687,663 L1685,685ZM1664,693 L1671,705 L1685,705 L1687,697 L1687,687 L1685,685 L1668,680ZM1700,696 L1687,697 L1685,705 L1712,705ZM1699,681 L1687,687 L1687,697 L1700,696 L1709,684ZM1727,667 L1714,685 L1721,699 L1739,687 L1735,674 L1732,669 L1727,667ZM1707,666 L1698,665 L1699,681 L1709,684 L1711,684ZM1714,685 L1727,667 L1717,664 L1707,666 L1711,684ZM1721,699 L1714,685 L1711,684 L1709,684 L1700,696 L1712,705 L1720,705ZM1735,674 L1758,673 L1760,666 L1749,661 L1732,669ZM2006,689 L1978,691 L1976,693 L1975,705 L2001,705ZM2035,685 L2026,676 L2015,688 L2023,705 L2032,705ZM2045,685 L2062,687 L2052,676 L2045,681 L2044,683ZM2062,687 L2045,685 L2048,705 L2081,705 L2081,696Z" fill="#f28a2e" stroke="#f28a2e" stroke-width="0.8"/>
<path d="M1319,67 L1324,64 L1321,46 L1307,45ZM1317,24 L1291,24 L1293,35 L1316,32ZM1302,72 L1317,70 L1319,67 L1307,45 L1292,38 L1286,48 L1286,56 L1297,70ZM1333,26 L1336,39 L1345,47 L1346,46 L1350,43 L1351,24 L1333,24ZM1472,47 L1451,25 L1451,34 L1471,49ZM1519,41 L1520,39 L1506,27 L1501,40 L1512,48ZM1477,41 L1480,41 L1500,24 L1472,24ZM1501,40 L1506,27 L1504,24 L1500,24 L1480,41 L1492,47ZM1507,55 L1525,64 L1519,41 L1512,48ZM1599,50 L1608,24 L1602,24 L1586,41 L1594,50 L1598,51ZM1665,50 L1661,44 L1654,41 L1644,49 L1653,65ZM1653,65 L1644,49 L1640,49 L1643,69 L1653,66ZM1640,49 L1626,49 L1625,51 L1637,72 L1643,69ZM1685,40 L1675,26 L1661,44 L1665,50 L1668,51ZM1755,60 L1748,53 L1728,60 L1729,63 L1737,74 L1752,71 L1757,66ZM1815,36 L1834,24 L1797,24 L1797,33 L1799,35ZM1815,36 L1820,44 L1825,49 L1834,46 L1834,45 L1834,24 L1834,24ZM1834,45 L1852,51 L1862,24 L1834,24ZM1891,54 L1893,47 L1879,44 L1875,54 L1877,57ZM1879,44 L1893,47 L1895,45 L1896,33 L1891,24 L1876,24ZM1967,56 L1972,57 L1982,51 L1982,46 L1982,46 L1962,27 L1960,31 L1956,49ZM2050,24 L2029,24 L2027,35 L2032,43 L2054,38ZM2039,57 L2045,62 L2060,48 L2056,43ZM2070,34 L2067,34 L2056,41 L2056,43 L2060,48 L2069,57 L2081,54 L2081,34ZM2054,38 L2056,41 L2067,34 L2070,24 L2050,24ZM2070,34 L2081,34 L2081,24 L2075,24ZM2067,34 L2070,34 L2075,24 L2070,24ZM1225,61 L1215,52 L1212,51 L1199,66 L1213,76 L1214,76 L1226,67ZM1235,93 L1233,86 L1214,76 L1213,76 L1212,91 L1212,92 L1219,97ZM1255,76 L1248,62 L1232,70 L1234,77ZM1254,91 L1259,80 L1255,76 L1234,77 L1233,86 L1235,93 L1246,99ZM1232,70 L1226,67 L1214,76 L1233,86 L1234,77ZM1275,107 L1277,105 L1278,93 L1258,93ZM1309,94 L1302,85 L1293,95 L1297,102 L1309,97ZM1369,96 L1371,93 L1368,64 L1361,67 L1350,81 L1355,100ZM1372,61 L1368,63 L1368,64 L1371,93 L1381,90 L1386,74ZM1511,88 L1503,97 L1508,106 L1525,92ZM1511,77 L1514,76 L1516,73 L1502,57 L1500,58 L1496,67ZM1496,89 L1503,97 L1511,88 L1507,84ZM1640,104 L1656,91 L1654,82 L1635,80 L1630,85 L1633,105 L1633,105ZM1658,72 L1653,66 L1643,69 L1637,72 L1635,80 L1654,82ZM1666,72 L1669,53 L1668,51 L1665,50 L1653,65 L1653,66 L1658,72ZM1630,85 L1635,80 L1637,72 L1625,51 L1624,52 L1620,80ZM1677,70 L1672,55 L1669,53 L1666,72 L1673,76ZM1742,108 L1745,95 L1730,85 L1726,106 L1729,112ZM1730,85 L1730,83 L1713,80 L1710,100 L1726,106ZM1848,96 L1848,96 L1851,95 L1854,89 L1861,76 L1854,67 L1840,72ZM1906,93 L1924,98 L1931,84 L1929,82 L1912,79 L1906,84 L1903,86ZM1900,103 L1906,93 L1903,86 L1887,83 L1897,102 L1900,103ZM1953,86 L1963,83 L1972,73 L1968,68 L1960,69ZM1975,75 L1988,63 L1983,52 L1982,51 L1972,57 L1968,68 L1972,73ZM1995,83 L1980,84 L1977,87 L1973,103 L1977,104 L1998,93 L1998,92ZM1963,83 L1977,87 L1980,84 L1975,75 L1972,73ZM1988,63 L1975,75 L1980,84 L1995,83 L1999,73ZM2031,72 L2026,88 L2043,92 L2043,84 L2036,74ZM2012,68 L1999,73 L1995,83 L1998,92 L2018,94ZM2025,57 L2020,62 L2020,62 L2031,72 L2036,74 L2046,67 L2045,62 L2039,57ZM2025,112 L2032,114 L2044,99 L2043,92 L2026,88 L2018,94 L2024,111ZM2043,92 L2044,99 L2060,99 L2066,77 L2064,74 L2043,84ZM2043,84 L2064,74 L2064,71 L2046,67 L2036,74ZM2069,57 L2064,71 L2064,74 L2066,77 L2081,83 L2081,54ZM2045,62 L2046,67 L2064,71 L2069,57 L2060,48ZM1239,125 L1241,125 L1246,105 L1221,113 L1235,123ZM1218,121 L1235,123 L1221,113 L1216,112 L1216,113ZM1205,116 L1205,131 L1207,133 L1222,133 L1218,121 L1216,113ZM1221,113 L1246,105 L1246,105 L1246,99 L1235,93 L1219,97 L1216,112ZM1222,133 L1222,133 L1239,125 L1235,123 L1218,121ZM1261,130 L1267,130 L1277,119 L1274,111 L1262,113ZM1249,135 L1261,130 L1262,113 L1246,105 L1246,105 L1241,125ZM1295,129 L1294,127 L1277,119 L1267,130 L1282,148 L1285,147ZM1262,113 L1274,111 L1275,107 L1258,93 L1254,91 L1246,99 L1246,105ZM1291,95 L1283,105 L1293,110 L1297,105 L1297,102 L1293,95ZM1370,134 L1377,142 L1383,144 L1387,122 L1386,121 L1370,126ZM1555,102 L1541,104 L1540,106 L1545,114 L1553,115 L1556,109ZM1553,115 L1545,114 L1532,126 L1551,139 L1556,135 L1556,123ZM1693,137 L1703,129 L1709,118 L1707,117 L1683,120ZM1707,117 L1701,102 L1692,101 L1687,102 L1684,109 L1682,118 L1683,120ZM1723,118 L1709,118 L1703,129 L1719,131 L1721,127ZM1756,93 L1753,106 L1761,109 L1767,98 L1762,94ZM1759,138 L1771,133 L1768,120 L1764,117 L1751,118 L1747,130ZM1900,103 L1897,102 L1878,101 L1878,105 L1883,116ZM1884,118 L1877,127 L1882,136 L1901,141 L1907,140 L1900,123ZM1915,142 L1925,144 L1932,121 L1919,118ZM1900,123 L1907,140 L1913,142 L1915,142 L1919,118 L1915,110 L1907,111ZM1961,122 L1943,142 L1942,145 L1950,152 L1958,150 L1970,135ZM1932,144 L1942,145 L1943,142 L1945,114 L1943,114ZM1926,144 L1932,144 L1943,114 L1939,114 L1932,121 L1925,144ZM1993,115 L1999,106 L1998,93 L1977,104 L1989,115ZM2018,94 L2018,94 L1998,92 L1998,93 L1999,106 L2018,111 L2024,111ZM2067,128 L2073,105 L2062,101 L2056,123 L2064,130ZM1224,146 L1206,147 L1197,158 L1200,162 L1221,159 L1230,153ZM1200,173 L1215,180 L1218,176 L1221,159 L1200,162ZM1249,135 L1241,125 L1239,125 L1222,133 L1224,146 L1230,153 L1237,156 L1248,144ZM1230,153 L1221,159 L1218,176 L1237,167 L1238,157 L1237,156ZM1282,148 L1267,130 L1261,130 L1249,135 L1248,144 L1272,155ZM1266,164 L1271,158 L1272,155 L1248,144 L1237,156 L1238,157 L1260,168ZM1238,157 L1237,167 L1244,189 L1246,190 L1254,183 L1260,168ZM1270,175 L1281,180 L1282,173 L1271,158 L1266,164ZM1347,136 L1344,151 L1361,145 L1361,145 L1361,143 L1351,135ZM1474,164 L1473,169 L1478,182 L1492,178 L1486,169 L1475,164ZM1494,156 L1496,149 L1475,144 L1468,145 L1466,150 L1474,164 L1475,164 L1490,158ZM1617,169 L1617,167 L1614,159 L1606,163 L1606,165 L1609,178 L1613,177ZM1737,148 L1736,136 L1733,136 L1718,142 L1717,144 L1728,154 L1732,152ZM1759,138 L1747,130 L1741,129 L1736,136 L1737,148 L1753,149ZM1767,160 L1787,146 L1788,142 L1783,138 L1771,133 L1759,138 L1753,149 L1755,157ZM1794,158 L1799,168 L1814,166 L1806,159ZM1907,140 L1901,141 L1883,159 L1903,163 L1907,159 L1913,142ZM1200,194 L1214,194 L1216,182 L1215,180 L1200,173 L1196,177ZM1272,186 L1267,182 L1254,183 L1246,190 L1247,194 L1264,198ZM1281,180 L1270,175 L1267,182 L1272,186 L1282,185ZM1282,185 L1272,186 L1264,198 L1275,205 L1288,191ZM1275,210 L1275,205 L1264,198 L1247,194 L1247,195 L1248,203 L1250,207 L1267,214ZM1345,214 L1341,197 L1327,195 L1326,200 L1333,218 L1342,223 L1347,220ZM1346,195 L1341,197 L1345,214 L1348,195ZM1464,215 L1454,199 L1452,196 L1440,201 L1440,206 L1443,218ZM1728,176 L1733,196 L1744,186 L1745,173 L1729,174ZM1846,194 L1842,186 L1834,183 L1820,191 L1823,201 L1830,205 L1845,197ZM1853,190 L1849,172 L1842,186 L1846,194ZM1820,191 L1834,183 L1835,177 L1824,164 L1820,168 L1816,179 L1820,191ZM1834,183 L1842,186 L1849,172 L1849,171 L1835,177ZM1871,195 L1853,204 L1854,211 L1870,210 L1870,210ZM2056,197 L2063,185 L2059,175 L2051,177 L2047,189ZM1213,256 L1213,256 L1240,255 L1246,253 L1250,247 L1245,238 L1226,233 L1224,233 L1211,233ZM1238,217 L1237,217 L1226,233 L1245,238 L1246,231ZM1224,233 L1226,233 L1237,217 L1233,216ZM1211,233 L1224,233 L1233,216 L1227,213 L1213,220 L1211,233ZM1436,235 L1432,240 L1434,249 L1443,248ZM1465,233 L1465,232 L1445,231 L1445,248 L1451,251ZM1547,236 L1542,246 L1550,254 L1554,240ZM1740,235 L1747,240 L1759,233 L1761,226 L1745,219ZM1743,211 L1745,219 L1761,226 L1775,217 L1773,210 L1758,207 L1749,208ZM1766,246 L1788,246 L1788,243 L1786,238 L1761,234ZM1827,226 L1812,221 L1808,224 L1819,239 L1820,239 L1826,235ZM1928,268 L1933,268 L1942,256 L1943,251 L1939,241 L1931,235 L1923,236 L1915,246 L1921,263ZM2027,238 L2028,250 L2034,257 L2049,249 L2051,242 L2044,237ZM2024,237 L2012,249 L2012,250 L2028,250 L2027,238ZM2038,220 L2029,209 L2010,220 L2020,229 L2038,221ZM1186,289 L1187,288 L1187,283 L1187,280 L1171,269 L1171,293ZM1407,280 L1410,267 L1407,259 L1395,266 L1403,280ZM1421,271 L1410,267 L1407,280 L1412,281ZM1426,265 L1411,253 L1409,254 L1407,259 L1410,267 L1421,271 L1427,268ZM1421,271 L1412,281 L1419,292 L1424,294 L1434,279 L1430,271 L1427,268ZM1478,271 L1476,262 L1472,253 L1461,259 L1469,279 L1472,280 L1477,274ZM1646,268 L1649,270 L1660,272 L1664,272 L1670,252 L1662,245 L1654,244 L1652,245 L1646,257ZM1698,273 L1692,294 L1703,299 L1704,299 L1711,284 L1706,273ZM1692,271 L1698,273 L1706,273 L1707,271 L1701,257 L1687,257ZM1675,280 L1692,271 L1687,257 L1682,250 L1670,252 L1664,272 L1672,279ZM1774,277 L1765,284 L1767,287 L1775,285 L1776,284ZM1919,289 L1928,268 L1904,287 L1904,288 L1918,290ZM1915,246 L1901,243 L1894,266 L1900,268 L1921,263ZM1928,268 L1921,263 L1900,268 L1904,287 L1928,268ZM1998,241 L1995,265 L2014,266 L2012,250 L2012,249ZM2030,263 L2053,271 L2056,267 L2049,249 L2034,257ZM2024,270 L2036,285 L2042,284 L2050,276 L2053,271 L2030,263ZM2018,294 L2034,287 L2036,285 L2024,270 L2017,269 L2016,271 L2016,293ZM2042,284 L2047,290 L2066,295 L2067,294 L2067,291 L2050,276ZM1180,326 L1181,316 L1171,301 L1171,327ZM1187,288 L1186,289 L1194,308 L1207,320 L1208,319 L1217,309 L1216,307 L1190,288ZM1211,283 L1216,307 L1217,309 L1223,307 L1230,287 L1217,278ZM1233,310 L1223,307 L1217,309 L1208,319 L1214,324 L1238,325 L1237,313 L1234,311ZM1242,287 L1230,287 L1223,307 L1233,310 L1242,288ZM1234,311 L1237,313 L1246,310 L1245,297ZM1260,307 L1274,292 L1272,289 L1272,289 L1248,290 L1255,310 L1256,310ZM1400,300 L1398,297 L1377,297 L1381,309 L1389,312 L1400,302ZM1371,291 L1377,297 L1398,297 L1397,286 L1387,283 L1375,284ZM1469,279 L1466,280 L1456,297 L1458,310 L1468,321 L1471,319 L1477,287 L1472,280ZM1558,291 L1555,288 L1537,283 L1531,286 L1530,287 L1530,306 L1538,307 L1557,300ZM1538,307 L1546,323 L1548,323 L1559,303 L1557,300ZM1538,307 L1530,306 L1527,309 L1528,321 L1535,327 L1546,323ZM1579,312 L1584,317 L1590,316 L1594,302 L1587,290 L1578,292ZM1557,331 L1564,326 L1561,315 L1549,325 L1551,328ZM1678,327 L1680,328 L1693,315 L1682,303 L1673,305ZM1689,336 L1707,328 L1708,322 L1700,313 L1693,315 L1680,328ZM1724,311 L1724,311 L1724,316 L1734,323 L1736,323 L1741,297ZM1724,291 L1718,286 L1711,284 L1704,299 L1719,303ZM1770,318 L1754,311 L1750,317 L1767,324 L1770,318ZM1736,323 L1742,326 L1750,317 L1754,311 L1755,301 L1744,292 L1741,297ZM1746,332 L1765,330 L1767,324 L1750,317 L1742,326ZM1879,314 L1885,321 L1892,313 L1893,294 L1881,288 L1879,291 L1878,311ZM1892,313 L1901,312 L1910,304 L1901,292 L1893,294ZM1904,288 L1901,292 L1910,304 L1913,305 L1918,290ZM1901,312 L1911,323 L1921,319 L1920,310 L1913,305 L1910,304ZM1989,290 L1986,297 L1988,310 L1999,312 L2002,309 L2002,296ZM1268,361 L1274,371 L1275,372 L1288,353 L1279,351ZM1288,353 L1297,352 L1301,343 L1300,339 L1276,327 L1267,332 L1268,336 L1279,351ZM1275,372 L1300,366 L1297,352 L1288,353 L1275,372ZM1253,360 L1261,358 L1268,336 L1267,332 L1261,330 L1244,336ZM1308,345 L1301,343 L1297,352 L1300,366 L1305,374 L1309,373 L1315,358ZM1328,356 L1323,349 L1308,345 L1315,358ZM1551,328 L1549,325 L1548,323 L1546,323 L1535,327 L1536,342ZM1690,342 L1688,353 L1716,355 L1718,351 L1717,347ZM1717,345 L1734,323 L1724,316 L1708,322 L1707,328ZM1739,358 L1740,351 L1718,351 L1716,355 L1716,356 L1716,366 L1726,371ZM1690,342 L1717,347 L1717,345 L1707,328 L1689,336ZM1753,350 L1746,347 L1740,351 L1739,358 L1744,370 L1756,362ZM1780,323 L1770,318 L1767,324 L1765,330 L1766,332 L1776,330ZM1778,333 L1773,340 L1784,340 L1785,333ZM1773,340 L1770,341 L1768,349 L1772,353 L1789,347 L1784,340ZM1911,323 L1907,328 L1912,341 L1928,324 L1921,319ZM1915,351 L1943,340 L1944,339 L1943,331 L1928,324 L1912,341 L1912,342ZM1912,342 L1912,341 L1907,328 L1887,329 L1888,336 L1890,337ZM1913,355 L1915,351 L1912,342 L1890,337ZM1888,336 L1886,341 L1887,359 L1900,368 L1912,358 L1913,355 L1890,337ZM1912,358 L1926,366 L1930,368 L1943,340 L1915,351 L1913,355ZM1952,367 L1952,366 L1953,347 L1945,340 L1944,339 L1943,340 L1930,368 L1932,370 L1947,373ZM1250,364 L1256,376 L1274,371 L1268,361 L1261,358 L1253,360ZM1314,373 L1309,373 L1305,374 L1304,375 L1304,383 L1312,394 L1326,389 L1326,387 L1326,385ZM1311,404 L1312,394 L1304,383 L1293,403 L1300,412ZM1352,364 L1339,360 L1337,361 L1337,375 L1355,383ZM1337,361 L1330,359 L1314,373 L1326,385 L1333,380 L1337,375ZM1353,395 L1348,392 L1326,387 L1326,389 L1329,400 L1336,405 L1353,397 L1353,396ZM1359,405 L1359,405 L1363,408 L1377,408 L1380,400 L1383,392 L1378,394ZM1664,389 L1657,385 L1645,389 L1650,394 L1658,399 L1666,396ZM1791,386 L1791,384 L1792,372 L1787,371 L1766,379 L1760,392 L1761,393 L1777,397ZM1760,367 L1756,362 L1744,370 L1743,376 L1744,376ZM1729,400 L1754,417 L1754,417 L1761,393 L1760,392 L1754,389 L1728,398ZM1798,404 L1802,391 L1791,384 L1791,386 L1793,393 L1798,404ZM1798,404 L1793,393 L1788,408ZM1803,406 L1811,398 L1811,394 L1802,391 L1798,404ZM1831,371 L1807,359 L1803,364 L1815,388 L1825,388 L1834,383 L1832,372ZM1935,396 L1936,390 L1928,382 L1917,385 L1915,386 L1922,399ZM1928,382 L1932,370 L1930,368 L1926,366 L1917,385ZM1941,402 L1958,398 L1958,397 L1956,389 L1947,378 L1936,390 L1935,396ZM1219,406 L1202,410 L1200,420 L1209,417ZM1188,426 L1188,430 L1195,446 L1210,438 L1214,432 L1208,427 L1199,423ZM1219,429 L1240,427 L1240,426 L1223,407ZM1223,402 L1223,404 L1223,407 L1240,426 L1244,421 L1240,404 L1226,402ZM1218,431 L1231,444 L1242,433 L1240,427 L1219,429ZM1208,427 L1214,432 L1218,431 L1219,429 L1223,407 L1223,404 L1219,406 L1209,417ZM1244,421 L1258,416 L1259,414 L1256,410 L1245,404 L1240,404ZM1271,410 L1274,408 L1279,401 L1269,391 L1264,391 L1256,410 L1259,414ZM1244,421 L1240,426 L1240,427 L1242,433 L1263,439 L1258,416ZM1271,410 L1277,430 L1278,430 L1285,422 L1274,408ZM1258,416 L1263,439 L1263,439 L1264,439 L1277,430 L1271,410 L1259,414ZM1320,407 L1315,424 L1325,426 L1326,424ZM1285,422 L1278,430 L1293,437 L1300,415ZM1304,443 L1312,449 L1318,451 L1321,449 L1329,436 L1328,433 L1325,426 L1315,424 L1310,423ZM1310,423 L1315,424 L1320,407 L1320,404 L1311,404 L1300,412 L1300,414ZM1300,415 L1293,437 L1296,442 L1304,443 L1310,423 L1300,414ZM1348,424 L1354,430 L1365,420 L1363,408 L1359,405 L1348,422ZM1380,400 L1377,408 L1384,415 L1391,411 L1392,409ZM1411,422 L1413,415 L1396,403 L1392,409 L1391,411 L1409,424 L1410,423ZM1710,434 L1710,425 L1698,417 L1696,432 L1701,436ZM1678,404 L1679,424 L1697,414 L1699,404 L1698,403 L1679,403ZM1728,419 L1741,424 L1749,421 L1754,417 L1729,400 L1726,417ZM1715,417 L1710,425 L1710,434 L1719,439 L1728,419 L1726,417ZM1709,405 L1715,417 L1726,417 L1729,400 L1728,398 L1726,396ZM1719,439 L1725,446 L1729,447 L1741,424 L1728,419ZM1697,414 L1698,417 L1710,425 L1715,417 L1709,405 L1699,404ZM1741,424 L1729,447 L1737,451 L1737,452 L1746,444 L1749,421ZM1773,447 L1788,450 L1778,423 L1770,424ZM1759,441 L1762,446 L1770,448 L1773,447 L1770,424 L1762,423ZM1782,420 L1796,437 L1809,426 L1809,423 L1808,422 L1784,419ZM1784,419 L1808,422 L1803,406 L1798,404 L1798,404 L1788,408 L1784,410ZM1809,423 L1815,420 L1823,408 L1811,398 L1803,406 L1808,422ZM1840,417 L1839,409 L1825,407 L1823,408 L1815,420 L1827,425ZM1815,420 L1809,423 L1809,426 L1810,430 L1827,436 L1830,434 L1827,425ZM1941,415 L1959,419 L1959,409 L1958,398 L1941,402 L1940,408ZM2040,448 L2042,445 L2039,424 L2035,420 L2018,433ZM1208,473 L1212,474 L1214,473 L1221,453 L1217,449 L1195,455ZM1195,455 L1217,449 L1210,438 L1195,446 L1194,449 L1195,455ZM1217,449 L1221,453 L1231,446 L1231,444 L1218,431 L1214,432 L1210,438ZM1231,446 L1242,457 L1253,455 L1263,439 L1263,439 L1242,433 L1231,444ZM1221,453 L1214,473 L1228,477 L1231,476 L1242,457 L1231,446ZM1258,465 L1253,455 L1242,457 L1231,476 L1242,477 L1253,474ZM1270,470 L1278,464 L1277,451 L1264,439 L1263,439 L1253,455 L1258,465ZM1303,475 L1317,463 L1318,451 L1312,449 L1305,455 L1302,474ZM1344,456 L1344,441 L1329,436 L1321,449 L1327,453ZM1344,441 L1344,456 L1350,464 L1361,453 L1349,439ZM1321,449 L1318,451 L1317,463 L1330,475 L1337,475 L1327,453ZM1384,433 L1372,453 L1373,455 L1396,457 L1395,436ZM1396,436 L1395,436 L1396,457 L1397,460 L1418,454 L1418,453 L1418,448ZM1542,471 L1533,463 L1526,459 L1519,473 L1526,483 L1536,483 L1543,473ZM1518,448 L1516,448 L1500,470 L1499,474 L1501,479 L1519,473 L1526,459ZM1574,481 L1580,480 L1588,464 L1578,456 L1573,480ZM1729,481 L1729,481 L1725,472 L1712,460 L1711,460 L1704,465 L1704,468 L1728,481ZM1970,432 L1969,441 L1979,456 L1987,455 L1976,435ZM2026,464 L2026,465 L2026,467 L2028,472 L2039,486 L2042,483 L2034,460ZM2005,437 L2002,439 L1998,444 L1993,454 L2009,465 L2026,465 L2026,464 L2005,437ZM1250,486 L1253,498 L1262,492 L1260,482 L1255,478ZM1268,474 L1260,482 L1262,492 L1270,491ZM1283,487 L1270,470 L1268,474 L1270,491 L1276,493ZM1340,476 L1339,489 L1364,502 L1363,479 L1349,471ZM1519,473 L1501,479 L1500,482 L1506,491 L1519,489 L1526,483ZM1543,473 L1536,483 L1541,501 L1549,501 L1557,493 L1557,478ZM1540,502 L1522,493 L1522,511 L1527,518ZM1572,495 L1573,496 L1586,497 L1586,486 L1580,480 L1574,481ZM1573,496 L1572,495 L1562,493 L1568,514ZM1561,514 L1567,517 L1567,517 L1568,514 L1562,493 L1557,493 L1549,501ZM1951,527 L1961,521 L1951,507 L1943,505 L1930,512 L1930,513ZM2000,496 L2012,503 L2022,499 L2016,484 L1995,487ZM1295,537 L1278,550 L1279,555 L1295,565 L1301,563 L1296,541ZM1308,523 L1302,526 L1295,533 L1295,537 L1296,541 L1322,547 L1325,543 L1321,534 L1309,523ZM1436,546 L1440,535 L1440,535 L1424,540 L1426,548 L1429,550ZM1437,562 L1445,549 L1436,546 L1429,550ZM1487,544 L1506,559 L1515,558 L1517,554 L1517,552 L1514,548 L1495,534 L1484,536ZM1551,535 L1538,535 L1538,546 L1553,553ZM1506,528 L1514,548 L1517,552 L1526,519 L1512,522 L1508,524ZM1571,559 L1573,559 L1581,551 L1578,538 L1565,540 L1558,554ZM1661,549 L1668,540 L1661,527 L1660,526 L1655,537ZM1658,557 L1659,557 L1661,549 L1655,537 L1649,541ZM1683,531 L1688,542 L1690,542 L1700,540 L1700,537 L1695,512ZM1285,580 L1266,566 L1265,575 L1268,591 L1285,580ZM1287,578 L1295,565 L1279,555 L1266,565 L1266,566 L1285,580ZM1305,598 L1311,605 L1323,607 L1318,584 L1312,581 L1310,585 L1307,591ZM1307,591 L1310,585 L1296,582ZM1312,581 L1318,584 L1326,583 L1324,567 L1314,561 L1309,564ZM1381,571 L1399,579 L1402,573 L1398,562 L1385,555ZM1381,571 L1378,571 L1355,585 L1393,593 L1402,587 L1399,579ZM1355,585 L1378,571 L1367,550 L1353,582 L1354,584 L1355,585ZM1443,595 L1451,600 L1462,591 L1463,586 L1460,578 L1440,580ZM1460,578 L1463,586 L1474,584 L1489,576 L1489,574 L1478,565 L1464,564 L1462,566ZM1462,566 L1464,564 L1462,547 L1462,545 L1453,541 L1446,549 L1455,565ZM1440,580 L1460,578 L1462,566 L1455,565 L1437,563 L1432,571 L1432,574ZM1507,590 L1512,587 L1518,571 L1495,585ZM1525,591 L1527,595 L1540,589 L1526,573ZM1606,565 L1622,575 L1625,570 L1612,551 L1606,555ZM1625,570 L1622,575 L1622,579 L1632,590 L1642,590 L1650,577 L1648,565 L1628,568ZM1650,577 L1642,590 L1648,598 L1661,599 L1669,594 L1671,591 L1671,587 L1668,584 L1665,581ZM1650,561 L1648,565 L1650,577 L1665,581 L1666,560 L1659,557 L1658,557ZM1628,564 L1628,568 L1648,565 L1650,561 L1640,550ZM1687,571 L1690,572 L1699,563 L1690,542 L1688,542 L1686,544 L1678,560ZM1668,584 L1671,587 L1687,571 L1678,560 L1677,560ZM1714,562 L1699,563 L1690,572 L1697,582 L1716,569ZM1869,567 L1872,571 L1891,569 L1891,568 L1888,557 L1878,549ZM1852,561 L1852,563 L1853,563 L1869,567 L1878,549 L1877,545 L1873,543 L1868,543 L1856,553ZM1904,578 L1909,583 L1913,585 L1918,574 L1906,555 L1904,556ZM1891,568 L1891,569 L1891,570 L1904,578 L1904,556 L1903,556ZM1888,557 L1891,568 L1903,556 L1894,554ZM1938,563 L1929,563 L1922,567 L1918,574 L1913,585 L1913,585 L1927,583 L1943,577ZM1981,574 L1999,559 L1995,552 L1977,561 L1974,566 L1978,574ZM1991,576 L2009,564 L1999,559 L1981,574ZM2017,571 L2013,564 L2009,564 L1991,576 L1997,580ZM1298,598 L1287,610 L1287,611 L1310,606 L1311,605 L1305,598ZM1380,610 L1390,598 L1393,593 L1355,585 L1355,585ZM1426,603 L1431,617 L1448,611 L1451,604 L1451,600 L1443,595 L1434,597ZM1664,627 L1678,630 L1694,608 L1693,608 L1668,622ZM1726,631 L1737,636 L1726,605 L1718,608 L1722,625ZM1772,594 L1742,595 L1741,597 L1745,603 L1769,604 L1771,599ZM1769,604 L1770,608 L1787,610 L1788,603 L1771,599ZM1788,603 L1787,610 L1788,614 L1810,616 L1813,608 L1804,596 L1790,599ZM1812,627 L1810,616 L1788,614 L1782,624 L1790,627ZM1881,586 L1874,585 L1873,606 L1883,610 L1883,610 L1892,591ZM1850,594 L1869,607 L1873,606 L1874,585 L1871,582 L1858,586ZM1964,637 L1973,631 L1973,626 L1962,617 L1952,635ZM2002,600 L2001,592 L1981,589 L1984,603ZM1973,626 L1973,631 L1986,642 L1992,644 L2000,628 L1997,619 L1982,614ZM2023,609 L2017,628 L2028,640 L2036,637 L2037,625 L2031,613ZM2065,592 L2061,606 L2077,615 L2081,614 L2081,586ZM2053,621 L2062,627 L2073,621 L2077,615 L2061,606 L2053,606 L2051,612ZM1181,659 L1184,653 L1185,625 L1183,622 L1171,619 L1171,658ZM1186,668 L1203,679 L1206,677 L1214,672 L1208,658 L1184,662ZM1193,628 L1185,625 L1184,653 L1205,644ZM1184,653 L1181,659 L1184,662 L1208,658 L1210,646 L1205,644ZM1254,666 L1256,668 L1257,668 L1268,643 L1253,645 L1250,654ZM1334,657 L1334,663 L1344,675 L1349,675 L1351,672 L1353,652ZM1335,640 L1330,642 L1329,643 L1334,657 L1353,652 L1354,651 L1339,640ZM1511,654 L1509,660 L1510,668 L1514,668 L1530,649 L1528,646ZM1585,639 L1590,639 L1593,623 L1587,621 L1583,624ZM1730,649 L1716,647 L1712,655 L1717,664 L1727,667 L1727,667ZM1745,645 L1749,661 L1760,666 L1762,664 L1766,652 L1763,650ZM1816,637 L1812,627 L1790,627 L1795,643ZM1778,644 L1784,647 L1787,647 L1795,643 L1790,627 L1782,624 L1781,624 L1776,639ZM1795,672 L1800,660 L1787,647 L1784,647 L1785,671ZM2024,655 L2024,669 L2026,672 L2039,672 L2042,668 L2037,659ZM2077,615 L2073,621 L2072,637 L2081,660 L2081,614ZM1180,695 L1182,692 L1181,681 L1171,678 L1171,702ZM1322,689 L1314,692 L1315,692 L1326,705 L1339,705ZM1538,680 L1557,664 L1554,657 L1538,655 L1527,670ZM1591,682 L1586,672 L1567,676 L1566,687 L1576,696 L1580,695ZM1597,697 L1599,690 L1591,682 L1580,695ZM1739,687 L1721,699 L1720,705 L1754,705 L1754,702 L1751,692ZM1758,673 L1735,674 L1739,687 L1751,692 L1759,683ZM1777,694 L1754,702 L1754,705 L1782,705ZM1759,683 L1751,692 L1754,702 L1777,694 L1777,685ZM1778,685 L1784,671 L1762,664 L1760,666 L1758,673 L1759,683 L1777,685ZM2001,705 L2023,705 L2015,688 L2008,687 L2006,689ZM2045,681 L2043,676 L2039,672 L2026,672 L2026,676 L2035,685 L2044,683ZM2005,680 L2008,687 L2015,688 L2026,676 L2026,672 L2024,669 L2007,673ZM2045,685 L2044,683 L2035,685 L2032,705 L2048,705ZM2050,666 L2042,668 L2039,672 L2043,676 L2052,667ZM2043,676 L2045,681 L2052,676 L2053,668 L2052,667ZM2052,676 L2062,687 L2081,696 L2081,665 L2053,668Z" fill="#e9312b" stroke="#e9312b" stroke-width="0.8"/>
</g>
<rect x="1820" y="687" width="246" height="4" fill="#0a0a0a"/>
<text x="1938.5" y="660.0" font-size="38.7" text-anchor="middle" fill="#ffffff" >200 µm</text>
<defs><linearGradient id="cbar" x1="0" y1="0" x2="1" y2="0">
<stop offset="0" stop-color="#2150a8"/><stop offset="0.1" stop-color="#2456a8"/><stop offset="0.2" stop-color="#2a9a6a"/>
<stop offset="0.28" stop-color="#3cb048"/><stop offset="0.45" stop-color="#6cbc44"/><stop offset="0.6" stop-color="#b8d040"/>
<stop offset="0.67" stop-color="#ece84a"/><stop offset="0.78" stop-color="#f3a030"/><stop offset="0.88" stop-color="#ee5a30"/><stop offset="1" stop-color="#e82828"/>
</linearGradient></defs>
<rect x="1422" y="734.3" width="446.5" height="21" fill="url(#cbar)"/>
<text x="1387.0" y="753.2" font-size="38.7" text-anchor="end" fill="#231f20" >2.267</text>
<text x="1895.0" y="753.2" font-size="38.7" text-anchor="start" fill="#231f20" >3.674</text>
<text x="1107.0" y="30.0" font-size="38.7" text-anchor="start" fill="#231f20" >(b)</text>
<defs><radialGradient id="sph" cx="0.38" cy="0.32" r="0.7"><stop offset="0" stop-color="#ffd0d0"/><stop offset="0.25" stop-color="#f23a3a"/><stop offset="0.8" stop-color="#d8141c"/><stop offset="1" stop-color="#a00a10"/></radialGradient></defs>
<polyline points="197.3,1433.2 224.5,1201.0 251.7,1003.8 278.9,972.8 306.1,1284.2 333.3,1170.1 360.5,1229.1 387.7,1356.8 414.9,1371.3 442.1,1346.1 469.3,1301.6 496.5,1270.7 523.7,1256.2 550.9,1156.6 578.1,1049.2 605.4,1045.3 632.6,1280.4 659.8,1265.8 687.0,1200.1 714.2,1159.5 741.4,1011.5 768.6,1060.8 795.8,1003.8 823.0,926.4 850.2,997.0 877.4,1091.8 904.6,1071.5 931.8,1172.0 959.0,1482.5" fill="none" stroke="#e8343a" stroke-width="2"/>
<circle cx="197.3" cy="1433.2" r="8.5" fill="url(#sph)"/>
<circle cx="224.5" cy="1201.0" r="8.5" fill="url(#sph)"/>
<circle cx="251.7" cy="1003.8" r="8.5" fill="url(#sph)"/>
<circle cx="278.9" cy="972.8" r="8.5" fill="url(#sph)"/>
<circle cx="306.1" cy="1284.2" r="8.5" fill="url(#sph)"/>
<circle cx="333.3" cy="1170.1" r="8.5" fill="url(#sph)"/>
<circle cx="360.5" cy="1229.1" r="8.5" fill="url(#sph)"/>
<circle cx="387.7" cy="1356.8" r="8.5" fill="url(#sph)"/>
<circle cx="414.9" cy="1371.3" r="8.5" fill="url(#sph)"/>
<circle cx="442.1" cy="1346.1" r="8.5" fill="url(#sph)"/>
<circle cx="469.3" cy="1301.6" r="8.5" fill="url(#sph)"/>
<circle cx="496.5" cy="1270.7" r="8.5" fill="url(#sph)"/>
<circle cx="523.7" cy="1256.2" r="8.5" fill="url(#sph)"/>
<circle cx="550.9" cy="1156.6" r="8.5" fill="url(#sph)"/>
<circle cx="578.1" cy="1049.2" r="8.5" fill="url(#sph)"/>
<circle cx="605.4" cy="1045.3" r="8.5" fill="url(#sph)"/>
<circle cx="632.6" cy="1280.4" r="8.5" fill="url(#sph)"/>
<circle cx="659.8" cy="1265.8" r="8.5" fill="url(#sph)"/>
<circle cx="687.0" cy="1200.1" r="8.5" fill="url(#sph)"/>
<circle cx="714.2" cy="1159.5" r="8.5" fill="url(#sph)"/>
<circle cx="741.4" cy="1011.5" r="8.5" fill="url(#sph)"/>
<circle cx="768.6" cy="1060.8" r="8.5" fill="url(#sph)"/>
<circle cx="795.8" cy="1003.8" r="8.5" fill="url(#sph)"/>
<circle cx="823.0" cy="926.4" r="8.5" fill="url(#sph)"/>
<circle cx="850.2" cy="997.0" r="8.5" fill="url(#sph)"/>
<circle cx="877.4" cy="1091.8" r="8.5" fill="url(#sph)"/>
<circle cx="904.6" cy="1071.5" r="8.5" fill="url(#sph)"/>
<circle cx="931.8" cy="1172.0" r="8.5" fill="url(#sph)"/>
<circle cx="959.0" cy="1482.5" r="8.5" fill="url(#sph)"/>
<rect x="156.5" y="834.5" width="870.5" height="677.0" fill="none" stroke="#231f20" stroke-width="3"/>
<line x1="142.5" y1="1511.5" x2="156.5" y2="1511.5" stroke="#231f20" stroke-width="3" />
<line x1="149.5" y1="1463.1" x2="156.5" y2="1463.1" stroke="#231f20" stroke-width="3" />
<line x1="142.5" y1="1414.8" x2="156.5" y2="1414.8" stroke="#231f20" stroke-width="3" />
<line x1="149.5" y1="1366.4" x2="156.5" y2="1366.4" stroke="#231f20" stroke-width="3" />
<line x1="142.5" y1="1318.1" x2="156.5" y2="1318.1" stroke="#231f20" stroke-width="3" />
<line x1="149.5" y1="1269.7" x2="156.5" y2="1269.7" stroke="#231f20" stroke-width="3" />
<line x1="142.5" y1="1221.4" x2="156.5" y2="1221.4" stroke="#231f20" stroke-width="3" />
<line x1="149.5" y1="1173.0" x2="156.5" y2="1173.0" stroke="#231f20" stroke-width="3" />
<line x1="142.5" y1="1124.6" x2="156.5" y2="1124.6" stroke="#231f20" stroke-width="3" />
<line x1="149.5" y1="1076.3" x2="156.5" y2="1076.3" stroke="#231f20" stroke-width="3" />
<line x1="142.5" y1="1027.9" x2="156.5" y2="1027.9" stroke="#231f20" stroke-width="3" />
<line x1="149.5" y1="979.6" x2="156.5" y2="979.6" stroke="#231f20" stroke-width="3" />
<line x1="142.5" y1="931.2" x2="156.5" y2="931.2" stroke="#231f20" stroke-width="3" />
<line x1="149.5" y1="882.9" x2="156.5" y2="882.9" stroke="#231f20" stroke-width="3" />
<line x1="142.5" y1="834.5" x2="156.5" y2="834.5" stroke="#231f20" stroke-width="3" />
<line x1="156.5" y1="1511.5" x2="156.5" y2="1524.5" stroke="#231f20" stroke-width="3" />
<line x1="210.9" y1="1511.5" x2="210.9" y2="1518.0" stroke="#231f20" stroke-width="3" />
<line x1="265.3" y1="1511.5" x2="265.3" y2="1524.5" stroke="#231f20" stroke-width="3" />
<line x1="319.7" y1="1511.5" x2="319.7" y2="1518.0" stroke="#231f20" stroke-width="3" />
<line x1="374.1" y1="1511.5" x2="374.1" y2="1524.5" stroke="#231f20" stroke-width="3" />
<line x1="428.5" y1="1511.5" x2="428.5" y2="1518.0" stroke="#231f20" stroke-width="3" />
<line x1="482.9" y1="1511.5" x2="482.9" y2="1524.5" stroke="#231f20" stroke-width="3" />
<line x1="537.3" y1="1511.5" x2="537.3" y2="1518.0" stroke="#231f20" stroke-width="3" />
<line x1="591.7" y1="1511.5" x2="591.7" y2="1524.5" stroke="#231f20" stroke-width="3" />
<line x1="646.2" y1="1511.5" x2="646.2" y2="1518.0" stroke="#231f20" stroke-width="3" />
<line x1="700.6" y1="1511.5" x2="700.6" y2="1524.5" stroke="#231f20" stroke-width="3" />
<line x1="755.0" y1="1511.5" x2="755.0" y2="1518.0" stroke="#231f20" stroke-width="3" />
<line x1="809.4" y1="1511.5" x2="809.4" y2="1524.5" stroke="#231f20" stroke-width="3" />
<line x1="863.8" y1="1511.5" x2="863.8" y2="1518.0" stroke="#231f20" stroke-width="3" />
<line x1="918.2" y1="1511.5" x2="918.2" y2="1524.5" stroke="#231f20" stroke-width="3" />
<line x1="972.6" y1="1511.5" x2="972.6" y2="1518.0" stroke="#231f20" stroke-width="3" />
<line x1="1027.0" y1="1511.5" x2="1027.0" y2="1524.5" stroke="#231f20" stroke-width="3" />
<text x="130.0" y="1528.0" font-size="38.7" text-anchor="end" fill="#231f20" >0</text>
<text x="130.0" y="1431.3" font-size="38.7" text-anchor="end" fill="#231f20" >1</text>
<text x="130.0" y="1334.6" font-size="38.7" text-anchor="end" fill="#231f20" >2</text>
<text x="130.0" y="1237.9" font-size="38.7" text-anchor="end" fill="#231f20" >3</text>
<text x="130.0" y="1141.1" font-size="38.7" text-anchor="end" fill="#231f20" >4</text>
<text x="130.0" y="1044.4" font-size="38.7" text-anchor="end" fill="#231f20" >5</text>
<text x="130.0" y="947.7" font-size="38.7" text-anchor="end" fill="#231f20" >6</text>
<text x="130.0" y="851.0" font-size="38.7" text-anchor="end" fill="#231f20" >7</text>
<text x="156.5" y="1570.5" font-size="38.7" text-anchor="middle" fill="#231f20" >2.2</text>
<text x="374.1" y="1570.5" font-size="38.7" text-anchor="middle" fill="#231f20" >2.6</text>
<text x="591.7" y="1570.5" font-size="38.7" text-anchor="middle" fill="#231f20" >3.0</text>
<text x="809.4" y="1570.5" font-size="38.7" text-anchor="middle" fill="#231f20" >3.4</text>
<text x="1027.0" y="1570.5" font-size="38.7" text-anchor="middle" fill="#231f20" >3.8</text>
<text x="592.0" y="1621.0" font-size="38.7" text-anchor="middle" fill="#231f20" >Taylor factor</text>
<text x="548.0" y="911.0" font-size="38.7" text-anchor="middle" fill="#231f20" >Average: 3.02</text>
<text transform="translate(89,1172) rotate(-90)" font-size="38.7" text-anchor="middle" fill="#231f20">Fraction/%</text>
<text x="12.0" y="834.0" font-size="38.7" text-anchor="start" fill="#231f20" >(c)</text>
<defs><linearGradient id="expg" x1="0" y1="0" x2="0" y2="1"><stop offset="0" stop-color="#3469a6"/><stop offset="0.35" stop-color="#7c9bc4"/><stop offset="0.62" stop-color="#c4cfe4"/><stop offset="0.85" stop-color="#ffffff"/><stop offset="1" stop-color="#ffffff"/></linearGradient><linearGradient id="s0g" x1="0" y1="0" x2="0" y2="1"><stop offset="0" stop-color="#f2e7a0"/><stop offset="1" stop-color="#f3eab5"/></linearGradient></defs>
<rect x="1345.5" y="1418.1" width="175.5" height="95.3" fill="url(#s0g)" stroke="#231f20" stroke-width="2.5"/>
<rect x="1345.5" y="1065.3" width="175.5" height="352.8" fill="#8ed2b6" stroke="#231f20" stroke-width="2.5"/>
<rect x="1345.5" y="933.1" width="175.5" height="132.2" fill="#f18a8f" stroke="#5a2a2a" stroke-width="2.5"/>
<rect x="1783" y="979" width="174.5" height="534.4" fill="url(#expg)" stroke="#231f20" stroke-width="3"/>
<line x1="1869.5" y1="941.0" x2="1869.5" y2="1015.0" stroke="#333" stroke-width="2.2" />
<line x1="1862.5" y1="941.0" x2="1876.5" y2="941.0" stroke="#333" stroke-width="2.5" />
<line x1="1862.5" y1="1015.0" x2="1876.5" y2="1015.0" stroke="#333" stroke-width="2.5" />
<rect x="1215.5" y="834" width="872.0" height="679.4000000000001" fill="none" stroke="#231f20" stroke-width="3"/>
<line x1="1203.5" y1="1513.4" x2="1215.5" y2="1513.4" stroke="#231f20" stroke-width="3" />
<line x1="1209.0" y1="1464.8" x2="1215.5" y2="1464.8" stroke="#231f20" stroke-width="3" />
<line x1="1203.5" y1="1416.2" x2="1215.5" y2="1416.2" stroke="#231f20" stroke-width="3" />
<line x1="1209.0" y1="1367.6" x2="1215.5" y2="1367.6" stroke="#231f20" stroke-width="3" />
<line x1="1203.5" y1="1319.0" x2="1215.5" y2="1319.0" stroke="#231f20" stroke-width="3" />
<line x1="1209.0" y1="1270.4" x2="1215.5" y2="1270.4" stroke="#231f20" stroke-width="3" />
<line x1="1203.5" y1="1221.8" x2="1215.5" y2="1221.8" stroke="#231f20" stroke-width="3" />
<line x1="1209.0" y1="1173.2" x2="1215.5" y2="1173.2" stroke="#231f20" stroke-width="3" />
<line x1="1203.5" y1="1124.6" x2="1215.5" y2="1124.6" stroke="#231f20" stroke-width="3" />
<line x1="1209.0" y1="1076.0" x2="1215.5" y2="1076.0" stroke="#231f20" stroke-width="3" />
<line x1="1203.5" y1="1027.4" x2="1215.5" y2="1027.4" stroke="#231f20" stroke-width="3" />
<line x1="1209.0" y1="978.8" x2="1215.5" y2="978.8" stroke="#231f20" stroke-width="3" />
<line x1="1203.5" y1="930.2" x2="1215.5" y2="930.2" stroke="#231f20" stroke-width="3" />
<line x1="1209.0" y1="881.6" x2="1215.5" y2="881.6" stroke="#231f20" stroke-width="3" />
<line x1="1203.5" y1="833.0" x2="1215.5" y2="833.0" stroke="#231f20" stroke-width="3" />
<line x1="1434.0" y1="1513.4" x2="1434.0" y2="1526.4" stroke="#231f20" stroke-width="3" />
<line x1="1651.0" y1="1513.4" x2="1651.0" y2="1521.4" stroke="#231f20" stroke-width="3" />
<line x1="1869.5" y1="1513.4" x2="1869.5" y2="1526.4" stroke="#231f20" stroke-width="3" />
<text x="1190.0" y="1526.9" font-size="38.7" text-anchor="end" fill="#231f20" >0</text>
<text x="1190.0" y="1429.7" font-size="38.7" text-anchor="end" fill="#231f20" >20</text>
<text x="1190.0" y="1332.5" font-size="38.7" text-anchor="end" fill="#231f20" >40</text>
<text x="1190.0" y="1235.3" font-size="38.7" text-anchor="end" fill="#231f20" >60</text>
<text x="1190.0" y="1138.1" font-size="38.7" text-anchor="end" fill="#231f20" >80</text>
<text x="1190.0" y="1040.9" font-size="38.7" text-anchor="end" fill="#231f20" >100</text>
<text x="1190.0" y="943.7" font-size="38.7" text-anchor="end" fill="#231f20" >120</text>
<text x="1190.0" y="853.0" font-size="38.7" text-anchor="end" fill="#231f20" >140</text>
<text x="1433.0" y="907.5" font-size="38.7" text-anchor="middle" fill="#231f20" >~115.45</text>
<text x="1859.0" y="924.0" font-size="38.7" text-anchor="middle" fill="#231f20" >110.23±7.63</text>
<text x="1424.0" y="1011.5" font-size="38.7" text-anchor="middle" fill="#231f20" >~23.68</text>
<text x="1424.0" y="1246.5" font-size="38.7" text-anchor="middle" fill="#231f20" >~71.77</text>
<text x="1424.0" y="1472.5" font-size="38.7" text-anchor="middle" fill="#231f20" >~20</text>
<text x="1527" y="1010.5" font-size="38.7" fill="#231f20">Δ<tspan font-family="Liberation Sans, Arial, sans-serif" font-style="italic" font-weight="bold" font-size="42">σ</tspan><tspan font-size="24" dy="7">DS</tspan></text>
<text x="1527" y="1246.5" font-size="38.7" fill="#231f20">Δ<tspan font-family="Liberation Sans, Arial, sans-serif" font-style="italic" font-weight="bold" font-size="42">σ</tspan><tspan font-size="24" dy="7">GBS</tspan></text>
<text x="1527" y="1486.5" font-size="38.7" fill="#231f20"><tspan font-family="Liberation Sans, Arial, sans-serif" font-style="italic" font-weight="bold" font-size="42">σ</tspan><tspan font-size="24" dy="7">0</tspan></text>
<text x="1444.0" y="1580.0" font-size="38.7" text-anchor="middle" fill="#231f20" >Calculation</text>
<text x="1877.0" y="1580.0" font-size="38.7" text-anchor="middle" fill="#231f20" >Experimetal</text>
<text transform="translate(1101,1187) rotate(-90)" font-size="38.7" text-anchor="middle" fill="#231f20">Yield strength contribution/MPa</text>
<text x="1068.0" y="830.0" font-size="38.7" text-anchor="start" fill="#231f20" >(d)</text>
<defs><linearGradient id="eg" x1="0" y1="1718" x2="0" y2="2482" gradientUnits="userSpaceOnUse">
<stop offset="0" stop-color="#d6cdb8"/>
<stop offset="0.17" stop-color="#dfc9a4"/>
<stop offset="0.27" stop-color="#eabf7c"/>
<stop offset="0.42" stop-color="#f0b035"/>
<stop offset="0.49" stop-color="#f1ad2b"/>
<stop offset="0.58" stop-color="#f0b240"/>
<stop offset="0.69" stop-color="#ecbe70"/>
<stop offset="0.81" stop-color="#e3c59c"/>
<stop offset="0.95" stop-color="#d8cdb6"/>
<stop offset="1" stop-color="#d6cdb8"/>
</linearGradient>
<clipPath id="clipL"><rect x="153" y="1721" width="804" height="757"/></clipPath>
<clipPath id="clipR"><rect x="1014" y="1718" width="809" height="764"/></clipPath>
</defs>
<rect x="153" y="1721" width="804" height="757" fill="url(#eg)"/>
<rect x="1014" y="1718" width="809" height="764" fill="url(#eg)"/>
<rect x="1849" y="1716" width="236" height="766" fill="#dce9ee"/>
<g clip-path="url(#clipL)">
<polyline points="205.9,1924.9 219.3,1871.1 212.6,1870.9 150.0,1869.7 150.0,1917.0 187.2,1941.5 205.9,1924.9" fill="none" stroke="#fbf3e6" stroke-width="2.8" stroke-linejoin="round" stroke-linecap="round" />
<polyline points="205.9,1924.9 264.5,1940.3 281.7,1927.4 279.9,1872.9 219.3,1871.1 205.9,1924.9" fill="none" stroke="#fbf3e6" stroke-width="2.8" stroke-linejoin="round" stroke-linecap="round" />
<polyline points="281.7,1927.4 308.7,1941.5 349.6,1918.8 349.6,1874.9 279.9,1872.9 281.7,1927.4" fill="none" stroke="#fbf3e6" stroke-width="2.8" stroke-linejoin="round" stroke-linecap="round" />
<polyline points="405.5,1866.6 372.0,1875.6 349.6,1874.9 349.6,1918.8 382.5,1949.9 398.7,1951.1 416.5,1915.5 405.5,1866.6" fill="none" stroke="#fbf3e6" stroke-width="2.8" stroke-linejoin="round" stroke-linecap="round" />
<polyline points="416.5,1915.5 470.0,1918.3 477.9,1909.2 469.1,1854.5 428.7,1860.3 405.5,1866.6 416.5,1915.5" fill="none" stroke="#fbf3e6" stroke-width="2.8" stroke-linejoin="round" stroke-linecap="round" />
<polyline points="477.9,1909.2 513.2,1913.8 530.4,1896.6 516.8,1847.6 469.1,1854.5 477.9,1909.2" fill="none" stroke="#fbf3e6" stroke-width="2.8" stroke-linejoin="round" stroke-linecap="round" />
<polyline points="546.6,1898.2 562.0,1893.1 557.6,1841.7 516.8,1847.6 530.4,1896.6 546.6,1898.2" fill="none" stroke="#fbf3e6" stroke-width="2.8" stroke-linejoin="round" stroke-linecap="round" />
<polyline points="187.2,1941.5 253.9,1985.4 254.6,1986.0 264.5,1940.3 205.9,1924.9 187.2,1941.5" fill="none" stroke="#fbf3e6" stroke-width="2.8" stroke-linejoin="round" stroke-linecap="round" />
<polyline points="308.7,1941.5 281.7,1927.4 264.5,1940.3 254.6,1986.0 274.0,2003.1 319.4,1976.7 308.7,1941.5" fill="none" stroke="#fbf3e6" stroke-width="2.8" stroke-linejoin="round" stroke-linecap="round" />
<polyline points="349.6,1918.8 308.7,1941.5 319.4,1976.7 367.3,1948.8 382.5,1949.9 349.6,1918.8" fill="none" stroke="#fbf3e6" stroke-width="2.8" stroke-linejoin="round" stroke-linecap="round" />
<polyline points="470.0,1918.3 416.5,1915.5 398.7,1951.1 400.4,1951.2 470.0,1962.8 470.0,1918.3" fill="none" stroke="#fbf3e6" stroke-width="2.8" stroke-linejoin="round" stroke-linecap="round" />
<polyline points="513.2,1913.8 477.9,1909.2 470.0,1918.3 470.0,1962.8 471.2,1963.0 490.0,1967.7 523.2,1953.5 527.2,1951.5 513.2,1913.8" fill="none" stroke="#fbf3e6" stroke-width="2.8" stroke-linejoin="round" stroke-linecap="round" />
<polyline points="527.2,1951.5 555.8,1936.8 546.6,1898.2 530.4,1896.6 513.2,1913.8 527.2,1951.5" fill="none" stroke="#fbf3e6" stroke-width="2.8" stroke-linejoin="round" stroke-linecap="round" />
<polyline points="562.0,1893.1 587.5,1899.5 605.5,1881.5 605.5,1839.9 560.0,1841.4 557.6,1841.7 562.0,1893.1" fill="none" stroke="#fbf3e6" stroke-width="2.8" stroke-linejoin="round" stroke-linecap="round" />
<polyline points="605.5,1881.5 647.8,1902.7 670.4,1883.5 667.0,1837.8 605.5,1839.9 605.5,1881.5" fill="none" stroke="#fbf3e6" stroke-width="2.8" stroke-linejoin="round" stroke-linecap="round" />
<polyline points="670.4,1883.5 706.2,1899.8 732.9,1876.1 729.6,1834.7 703.5,1836.6 667.0,1837.8 670.4,1883.5" fill="none" stroke="#fbf3e6" stroke-width="2.8" stroke-linejoin="round" stroke-linecap="round" />
<polyline points="732.9,1876.1 767.1,1893.2 795.1,1868.4 792.3,1830.2 729.6,1834.7 732.9,1876.1" fill="none" stroke="#fbf3e6" stroke-width="2.8" stroke-linejoin="round" stroke-linecap="round" />
<polyline points="795.1,1868.4 829.9,1890.3 860.9,1865.8 859.4,1823.1 817.0,1828.4 792.3,1830.2 795.1,1868.4" fill="none" stroke="#fbf3e6" stroke-width="2.8" stroke-linejoin="round" stroke-linecap="round" />
<polyline points="860.9,1865.8 896.0,1890.3 924.4,1874.9 913.7,1818.6 892.5,1819.0 859.4,1823.1 860.9,1865.8" fill="none" stroke="#fbf3e6" stroke-width="2.8" stroke-linejoin="round" stroke-linecap="round" />
<polyline points="924.4,1874.9 960.0,1885.1 960.0,1817.7 913.7,1818.6 924.4,1874.9" fill="none" stroke="#fbf3e6" stroke-width="2.8" stroke-linejoin="round" stroke-linecap="round" />
<polyline points="587.5,1899.5 562.0,1893.1 546.6,1898.2 555.8,1936.8 560.0,1934.7 583.0,1922.8 589.7,1924.1 587.5,1899.5" fill="none" stroke="#fbf3e6" stroke-width="2.8" stroke-linejoin="round" stroke-linecap="round" />
<polyline points="589.7,1924.1 645.4,1934.6 647.8,1902.7 605.5,1881.5 587.5,1899.5 589.7,1924.1" fill="none" stroke="#fbf3e6" stroke-width="2.8" stroke-linejoin="round" stroke-linecap="round" />
<polyline points="670.4,1883.5 647.8,1902.7 645.4,1934.6 651.6,1935.8 687.3,1943.4 706.5,1902.2 706.2,1899.8 670.4,1883.5" fill="none" stroke="#fbf3e6" stroke-width="2.8" stroke-linejoin="round" stroke-linecap="round" />
<polyline points="767.1,1893.2 732.9,1876.1 706.2,1899.8 706.5,1902.2 741.5,1937.2 770.9,1925.2 767.1,1893.2" fill="none" stroke="#fbf3e6" stroke-width="2.8" stroke-linejoin="round" stroke-linecap="round" />
<polyline points="829.9,1890.3 795.1,1868.4 767.1,1893.2 770.9,1925.2 828.7,1901.6 829.9,1902.1 829.9,1890.3" fill="none" stroke="#fbf3e6" stroke-width="2.8" stroke-linejoin="round" stroke-linecap="round" />
<polyline points="896.0,1890.3 860.9,1865.8 829.9,1890.3 829.9,1902.1 887.7,1924.0 890.9,1925.1 896.0,1890.3" fill="none" stroke="#fbf3e6" stroke-width="2.8" stroke-linejoin="round" stroke-linecap="round" />
<polyline points="924.4,1874.9 896.0,1890.3 890.9,1925.1 960.0,1948.8 960.0,1885.1 924.4,1874.9" fill="none" stroke="#fbf3e6" stroke-width="2.8" stroke-linejoin="round" stroke-linecap="round" />
<polyline points="687.3,1943.4 713.0,1948.8 741.5,1937.2 706.5,1902.2 687.3,1943.4" fill="none" stroke="#fbf3e6" stroke-width="2.8" stroke-linejoin="round" stroke-linecap="round" />
<polyline points="150.0,1869.7 212.6,1870.9 372.0,1875.6 428.7,1860.3 560.0,1841.4 703.5,1836.6 817.0,1828.4 892.5,1819.0 960.0,1817.7 960.0,1948.8 887.7,1924.0 828.7,1901.6 713.0,1948.8 651.6,1935.8 583.0,1922.8 560.0,1934.7 523.2,1953.5 490.0,1967.7 471.2,1963.0 400.4,1951.2 367.3,1948.8 274.0,2003.1 253.9,1985.4 150.0,1917.0 150.0,1869.7" fill="none" stroke="#fbf3e6" stroke-width="3.2" stroke-linejoin="round" stroke-linecap="round" />
</g>
<g clip-path="url(#clipL)">
<polyline points="168.0,2267.1 197.2,2243.8 150.0,2224.6 150.0,2267.1 168.0,2267.1" fill="none" stroke="#fbf3e6" stroke-width="2.8" stroke-linejoin="round" stroke-linecap="round" />
<polyline points="227.3,2270.3 207.3,2247.9 197.2,2243.8 168.0,2267.1 193.9,2311.6 224.5,2311.3 227.3,2270.3" fill="none" stroke="#fbf3e6" stroke-width="2.8" stroke-linejoin="round" stroke-linecap="round" />
<polyline points="168.0,2267.1 150.0,2267.1 150.0,2312.0 193.9,2311.6 168.0,2267.1" fill="none" stroke="#fbf3e6" stroke-width="2.8" stroke-linejoin="round" stroke-linecap="round" />
<polyline points="227.3,2270.3 224.5,2311.3 296.3,2310.7 293.1,2266.2 262.8,2251.7 227.3,2270.3" fill="none" stroke="#fbf3e6" stroke-width="2.8" stroke-linejoin="round" stroke-linecap="round" />
<polyline points="293.1,2266.2 296.3,2310.7 360.5,2310.1 357.2,2265.9 319.8,2241.0 293.1,2266.2" fill="none" stroke="#fbf3e6" stroke-width="2.8" stroke-linejoin="round" stroke-linecap="round" />
<polyline points="417.5,2257.9 380.5,2245.6 357.2,2265.9 360.5,2310.1 405.0,2309.7 419.5,2307.6 417.5,2257.9" fill="none" stroke="#fbf3e6" stroke-width="2.8" stroke-linejoin="round" stroke-linecap="round" />
<polyline points="481.9,2276.7 475.3,2240.8 444.3,2228.0 417.5,2257.9 419.5,2307.6 476.8,2299.1 481.9,2276.7" fill="none" stroke="#fbf3e6" stroke-width="2.8" stroke-linejoin="round" stroke-linecap="round" />
<polyline points="481.9,2276.7 546.0,2265.9 544.5,2259.4 519.7,2227.0 504.2,2222.8 475.3,2240.8 481.9,2276.7" fill="none" stroke="#fbf3e6" stroke-width="2.8" stroke-linejoin="round" stroke-linecap="round" />
<polyline points="262.8,2251.7 293.1,2266.2 319.8,2241.0 320.2,2229.6 279.4,2191.4 258.5,2208.9 262.8,2251.7" fill="none" stroke="#fbf3e6" stroke-width="2.8" stroke-linejoin="round" stroke-linecap="round" />
<polyline points="227.3,2270.3 262.8,2251.7 258.5,2208.9 253.9,2212.8 213.8,2250.6 207.3,2247.9 227.3,2270.3" fill="none" stroke="#fbf3e6" stroke-width="2.8" stroke-linejoin="round" stroke-linecap="round" />
<polyline points="320.2,2229.6 340.9,2211.2 346.5,2187.3 305.9,2169.1 279.4,2191.4 320.2,2229.6" fill="none" stroke="#fbf3e6" stroke-width="2.8" stroke-linejoin="round" stroke-linecap="round" />
<polyline points="340.9,2211.2 320.2,2229.6 319.8,2241.0 357.2,2265.9 380.5,2245.6 378.6,2226.5 340.9,2211.2" fill="none" stroke="#fbf3e6" stroke-width="2.8" stroke-linejoin="round" stroke-linecap="round" />
<polyline points="340.9,2211.2 378.6,2226.5 391.5,2207.7 350.8,2189.2 346.5,2187.3 340.9,2211.2" fill="none" stroke="#fbf3e6" stroke-width="2.8" stroke-linejoin="round" stroke-linecap="round" />
<polyline points="378.6,2226.5 380.5,2245.6 417.5,2257.9 444.3,2228.0 439.2,2214.8 428.7,2224.6 391.5,2207.7 378.6,2226.5" fill="none" stroke="#fbf3e6" stroke-width="2.8" stroke-linejoin="round" stroke-linecap="round" />
<polyline points="444.3,2228.0 475.3,2240.8 504.2,2222.8 498.5,2159.9 439.2,2214.8 444.3,2228.0" fill="none" stroke="#fbf3e6" stroke-width="2.8" stroke-linejoin="round" stroke-linecap="round" />
<polyline points="504.2,2222.8 519.7,2227.0 574.4,2185.2 560.0,2172.7 525.5,2134.9 498.5,2159.9 504.2,2222.8" fill="none" stroke="#fbf3e6" stroke-width="2.8" stroke-linejoin="round" stroke-linecap="round" />
<polyline points="519.7,2227.0 544.5,2259.4 589.9,2198.6 574.4,2185.2 519.7,2227.0" fill="none" stroke="#fbf3e6" stroke-width="2.8" stroke-linejoin="round" stroke-linecap="round" />
<polyline points="550.9,2272.7 546.0,2265.9 481.9,2276.7 476.8,2299.1 550.0,2288.4 553.1,2287.9 550.9,2272.7" fill="none" stroke="#fbf3e6" stroke-width="2.8" stroke-linejoin="round" stroke-linecap="round" />
<polyline points="599.6,2207.0 589.9,2198.6 544.5,2259.4 546.0,2265.9 550.9,2272.7 599.6,2250.1 599.6,2207.0" fill="none" stroke="#fbf3e6" stroke-width="2.8" stroke-linejoin="round" stroke-linecap="round" />
<polyline points="651.4,2238.7 646.6,2204.1 618.5,2223.4 599.6,2207.0 599.6,2250.1 621.1,2276.6 633.8,2274.7 651.4,2238.7" fill="none" stroke="#fbf3e6" stroke-width="2.8" stroke-linejoin="round" stroke-linecap="round" />
<polyline points="698.9,2264.9 715.8,2262.3 706.3,2220.9 648.8,2202.6 646.6,2204.1 651.4,2238.7 698.9,2264.9" fill="none" stroke="#fbf3e6" stroke-width="2.8" stroke-linejoin="round" stroke-linecap="round" />
<polyline points="770.9,2212.2 732.0,2190.6 725.8,2190.9 706.3,2220.9 715.8,2262.3 770.9,2254.1 770.9,2212.2" fill="none" stroke="#fbf3e6" stroke-width="2.8" stroke-linejoin="round" stroke-linecap="round" />
<polyline points="831.0,2212.8 791.2,2192.9 770.9,2212.2 770.9,2254.1 809.8,2248.2 831.0,2245.9 831.0,2212.8" fill="none" stroke="#fbf3e6" stroke-width="2.8" stroke-linejoin="round" stroke-linecap="round" />
<polyline points="831.0,2212.8 831.0,2245.9 893.4,2239.0 883.1,2187.4 857.0,2194.0 852.1,2191.8 831.0,2212.8" fill="none" stroke="#fbf3e6" stroke-width="2.8" stroke-linejoin="round" stroke-linecap="round" />
<polyline points="928.3,2176.0 883.1,2187.4 893.4,2239.0 940.7,2233.8 928.3,2176.0" fill="none" stroke="#fbf3e6" stroke-width="2.8" stroke-linejoin="round" stroke-linecap="round" />
<polyline points="940.7,2233.8 960.0,2231.7 960.0,2168.0 928.3,2176.0 940.7,2233.8" fill="none" stroke="#fbf3e6" stroke-width="2.8" stroke-linejoin="round" stroke-linecap="round" />
<polyline points="706.3,2220.9 725.8,2190.9 705.7,2163.6 648.8,2202.6 706.3,2220.9" fill="none" stroke="#fbf3e6" stroke-width="2.8" stroke-linejoin="round" stroke-linecap="round" />
<polyline points="793.5,2164.7 763.9,2151.7 732.0,2190.6 770.9,2212.2 791.2,2192.9 793.5,2164.7" fill="none" stroke="#fbf3e6" stroke-width="2.8" stroke-linejoin="round" stroke-linecap="round" />
<polyline points="725.8,2190.9 732.0,2190.6 763.9,2151.7 739.0,2140.8 705.7,2163.6 725.8,2190.9" fill="none" stroke="#fbf3e6" stroke-width="2.8" stroke-linejoin="round" stroke-linecap="round" />
<polyline points="791.2,2192.9 831.0,2212.8 852.1,2191.8 795.6,2165.6 793.5,2164.7 791.2,2192.9" fill="none" stroke="#fbf3e6" stroke-width="2.8" stroke-linejoin="round" stroke-linecap="round" />
<polyline points="599.6,2250.1 550.9,2272.7 553.1,2287.9 620.9,2276.6 621.1,2276.6 599.6,2250.1" fill="none" stroke="#fbf3e6" stroke-width="2.8" stroke-linejoin="round" stroke-linecap="round" />
<polyline points="633.8,2274.7 698.9,2264.9 651.4,2238.7 633.8,2274.7" fill="none" stroke="#fbf3e6" stroke-width="2.8" stroke-linejoin="round" stroke-linecap="round" />
<polyline points="150.0,2224.6 213.8,2250.6 253.9,2212.8 305.9,2169.1 350.8,2189.2 428.7,2224.6 525.5,2134.9 560.0,2172.7 618.5,2223.4 739.0,2140.8 795.6,2165.6 857.0,2194.0 960.0,2168.0 960.0,2231.7 809.8,2248.2 620.9,2276.6 550.0,2288.4 405.0,2309.7 150.0,2312.0 150.0,2224.6" fill="none" stroke="#fbf3e6" stroke-width="3.2" stroke-linejoin="round" stroke-linecap="round" />
</g>
<g clip-path="url(#clipL)">
<polyline points="153.5,1757.5 212.6,1870.9" fill="none" stroke="#fbf3e6" stroke-width="3.2" stroke-linejoin="round" stroke-linecap="round" />
<polyline points="265.7,1720.0 334.2,1754.0 372.0,1875.0" fill="none" stroke="#fbf3e6" stroke-width="3.2" stroke-linejoin="round" stroke-linecap="round" />
<polyline points="339.0,1720.0 334.2,1754.0" fill="none" stroke="#fbf3e6" stroke-width="3.2" stroke-linejoin="round" stroke-linecap="round" />
<polyline points="494.8,1720.0 569.0,1841.0" fill="none" stroke="#fbf3e6" stroke-width="3.2" stroke-linejoin="round" stroke-linecap="round" />
<polyline points="677.5,1720.0 703.5,1836.6" fill="none" stroke="#fbf3e6" stroke-width="3.2" stroke-linejoin="round" stroke-linecap="round" />
<polyline points="842.9,1720.0 892.5,1819.0" fill="none" stroke="#fbf3e6" stroke-width="3.2" stroke-linejoin="round" stroke-linecap="round" />
<polyline points="274.0,2003.1 291.7,2090.0 305.9,2169.1" fill="none" stroke="#fbf3e6" stroke-width="3.2" stroke-linejoin="round" stroke-linecap="round" />
<polyline points="490.0,1967.7 513.7,2090.0 525.5,2134.9" fill="none" stroke="#fbf3e6" stroke-width="3.2" stroke-linejoin="round" stroke-linecap="round" />
<polyline points="713.0,1948.8 731.9,2090.0 739.0,2140.8" fill="none" stroke="#fbf3e6" stroke-width="3.2" stroke-linejoin="round" stroke-linecap="round" />
<polyline points="209.0,2312.0 211.4,2420.7 194.9,2480.0" fill="none" stroke="#fbf3e6" stroke-width="3.2" stroke-linejoin="round" stroke-linecap="round" />
<polyline points="211.4,2420.7 237.4,2480.0" fill="none" stroke="#fbf3e6" stroke-width="3.2" stroke-linejoin="round" stroke-linecap="round" />
<polyline points="405.0,2310.0 409.8,2444.3 398.0,2480.0" fill="none" stroke="#fbf3e6" stroke-width="3.2" stroke-linejoin="round" stroke-linecap="round" />
<polyline points="409.8,2444.3 426.3,2480.0" fill="none" stroke="#fbf3e6" stroke-width="3.2" stroke-linejoin="round" stroke-linecap="round" />
<polyline points="620.9,2276.6 613.8,2444.3 597.2,2480.0" fill="none" stroke="#fbf3e6" stroke-width="3.2" stroke-linejoin="round" stroke-linecap="round" />
<polyline points="613.8,2444.3 646.8,2480.0" fill="none" stroke="#fbf3e6" stroke-width="3.2" stroke-linejoin="round" stroke-linecap="round" />
<polyline points="809.8,2250.6 894.8,2480.0" fill="none" stroke="#fbf3e6" stroke-width="3.2" stroke-linejoin="round" stroke-linecap="round" />
</g>
<path d="M393.5,1777.2 L424.9,1787.4 M409.2,1782.3 L399.9,1810.8" stroke="#e8262c" stroke-width="4" fill="none"/>
<path d="M458.0,1791.5 L489.0,1802.7 M473.5,1797.1 L483.8,1768.9" stroke="#e8262c" stroke-width="4" fill="none"/>
<path d="M726.2,1757.1 L757.6,1767.3 M741.9,1762.2 L732.6,1790.7" stroke="#e8262c" stroke-width="4" fill="none"/>
<path d="M790.7,1773.2 L821.7,1784.4 M806.2,1778.8 L816.5,1750.6" stroke="#e8262c" stroke-width="4" fill="none"/>
<path d="M363.3,2063.6 L394.7,2073.8 M379.0,2068.7 L369.7,2097.2" stroke="#e8262c" stroke-width="4" fill="none"/>
<path d="M428.5,2079.6 L459.5,2090.8 M444.0,2085.2 L454.3,2057.0" stroke="#e8262c" stroke-width="4" fill="none"/>
<path d="M815.3,2036.4 L846.7,2046.6 M831.0,2041.5 L821.7,2070.0" stroke="#e8262c" stroke-width="4" fill="none"/>
<path d="M880.5,2052.4 L911.5,2063.6 M896.0,2058.0 L906.3,2029.8" stroke="#e8262c" stroke-width="4" fill="none"/>
<path d="M261.3,2360.6 L292.7,2370.8 M277.0,2365.7 L267.7,2394.2" stroke="#e8262c" stroke-width="4" fill="none"/>
<path d="M327.0,2377.2 L358.0,2388.4 M342.5,2382.8 L352.8,2354.6" stroke="#e8262c" stroke-width="4" fill="none"/>
<path d="M686.6,2355.3 L718.0,2365.5 M702.3,2360.4 L693.0,2388.9" stroke="#e8262c" stroke-width="4" fill="none"/>
<path d="M751.8,2371.9 L782.8,2383.1 M767.3,2377.5 L777.6,2349.3" stroke="#e8262c" stroke-width="4" fill="none"/>
<path d="M220.9,1903.1 L235.1,1907.7 M228.0,1905.4 L223.7,1918.7" stroke="#e8402f" stroke-width="2.4" fill="none"/>
<path d="M253.0,1912.8 L267.0,1918.0 M260.0,1915.4 L264.8,1902.2" stroke="#e8402f" stroke-width="2.4" fill="none"/>
<path d="M353.9,1901.9 L368.1,1906.5 M361.0,1904.2 L356.7,1917.5" stroke="#e8402f" stroke-width="2.4" fill="none"/>
<path d="M386.0,1911.6 L400.0,1916.8 M393.0,1914.2 L397.8,1901.0" stroke="#e8402f" stroke-width="2.4" fill="none"/>
<path d="M480.9,1871.7 L495.1,1876.3 M488.0,1874.0 L483.7,1887.3" stroke="#e8402f" stroke-width="2.4" fill="none"/>
<path d="M513.0,1881.4 L527.0,1886.6 M520.0,1884.0 L524.8,1870.8" stroke="#e8402f" stroke-width="2.4" fill="none"/>
<path d="M609.9,1863.7 L624.1,1868.3 M617.0,1866.0 L612.7,1879.3" stroke="#e8402f" stroke-width="2.4" fill="none"/>
<path d="M642.0,1873.4 L656.0,1878.6 M649.0,1876.0 L653.8,1862.8" stroke="#e8402f" stroke-width="2.4" fill="none"/>
<path d="M714.9,1901.7 L729.1,1906.3 M722.0,1904.0 L717.7,1917.3" stroke="#e8402f" stroke-width="2.4" fill="none"/>
<path d="M747.0,1911.4 L761.0,1916.6 M754.0,1914.0 L758.8,1900.8" stroke="#e8402f" stroke-width="2.4" fill="none"/>
<path d="M803.5,1851.7 L817.7,1856.3 M810.6,1854.0 L806.3,1867.3" stroke="#e8402f" stroke-width="2.4" fill="none"/>
<path d="M835.6,1861.4 L849.6,1866.6 M842.6,1864.0 L847.4,1850.8" stroke="#e8402f" stroke-width="2.4" fill="none"/>
<path d="M164.9,2270.7 L179.1,2275.3 M172.0,2273.0 L167.7,2286.3" stroke="#e8402f" stroke-width="2.4" fill="none"/>
<path d="M197.0,2280.4 L211.0,2285.6 M204.0,2283.0 L208.8,2269.8" stroke="#e8402f" stroke-width="2.4" fill="none"/>
<path d="M262.9,2226.7 L277.1,2231.3 M270.0,2229.0 L265.7,2242.3" stroke="#e8402f" stroke-width="2.4" fill="none"/>
<path d="M295.0,2236.4 L309.0,2241.6 M302.0,2239.0 L306.8,2225.8" stroke="#e8402f" stroke-width="2.4" fill="none"/>
<path d="M421.7,2258.7 L435.9,2263.3 M428.8,2261.0 L424.5,2274.3" stroke="#e8402f" stroke-width="2.4" fill="none"/>
<path d="M453.8,2268.4 L467.8,2273.6 M460.8,2271.0 L465.6,2257.8" stroke="#e8402f" stroke-width="2.4" fill="none"/>
<path d="M507.9,2193.5 L522.1,2198.1 M515.0,2195.8 L510.7,2209.1" stroke="#e8402f" stroke-width="2.4" fill="none"/>
<path d="M540.0,2203.2 L554.0,2208.4 M547.0,2205.8 L551.8,2192.6" stroke="#e8402f" stroke-width="2.4" fill="none"/>
<path d="M656.5,2226.7 L670.7,2231.3 M663.6,2229.0 L659.3,2242.3" stroke="#e8402f" stroke-width="2.4" fill="none"/>
<path d="M688.6,2236.4 L702.6,2241.6 M695.6,2239.0 L700.4,2225.8" stroke="#e8402f" stroke-width="2.4" fill="none"/>
<path d="M736.9,2167.7 L751.1,2172.3 M744.0,2170.0 L739.7,2183.3" stroke="#e8402f" stroke-width="2.4" fill="none"/>
<path d="M769.0,2177.4 L783.0,2182.6 M776.0,2180.0 L780.8,2166.8" stroke="#e8402f" stroke-width="2.4" fill="none"/>
<path d="M834.9,2211.7 L849.1,2216.3 M842.0,2214.0 L837.7,2227.3" stroke="#e8402f" stroke-width="2.4" fill="none"/>
<path d="M867.0,2221.4 L881.0,2226.6 M874.0,2224.0 L878.8,2210.8" stroke="#e8402f" stroke-width="2.4" fill="none"/>
<g clip-path="url(#clipR)">
<polyline points="1098.0,1835.9 1100.0,1829.8 1088.0,1829.3 1016.5,1829.3 1047.8,1870.6 1049.8,1873.9 1098.0,1835.9" fill="none" stroke="#fbf3e6" stroke-width="2.8" stroke-linejoin="round" stroke-linecap="round" />
<polyline points="1105.2,1891.3 1098.0,1835.9 1049.8,1873.9 1071.4,1910.8 1072.9,1912.9 1105.2,1891.3" fill="none" stroke="#fbf3e6" stroke-width="2.8" stroke-linejoin="round" stroke-linecap="round" />
<polyline points="1098.0,1835.9 1105.2,1891.3 1137.1,1908.1 1153.0,1899.1 1164.5,1878.8 1159.6,1832.0 1100.0,1829.8 1098.0,1835.9" fill="none" stroke="#fbf3e6" stroke-width="2.8" stroke-linejoin="round" stroke-linecap="round" />
<polyline points="1164.5,1878.8 1227.7,1894.3 1228.3,1893.6 1234.4,1834.8 1159.6,1832.0 1164.5,1878.8" fill="none" stroke="#fbf3e6" stroke-width="2.8" stroke-linejoin="round" stroke-linecap="round" />
<polyline points="1105.2,1891.3 1072.9,1912.9 1104.0,1958.6 1131.5,1943.2 1137.1,1908.1 1105.2,1891.3" fill="none" stroke="#fbf3e6" stroke-width="2.8" stroke-linejoin="round" stroke-linecap="round" />
<polyline points="1153.0,1899.1 1137.1,1908.1 1131.5,1943.2 1169.6,1967.4 1194.9,1935.6 1153.0,1899.1" fill="none" stroke="#fbf3e6" stroke-width="2.8" stroke-linejoin="round" stroke-linecap="round" />
<polyline points="1131.5,1943.2 1104.0,1958.6 1111.6,1969.8 1137.5,2007.6 1169.6,1967.4 1131.5,1943.2" fill="none" stroke="#fbf3e6" stroke-width="2.8" stroke-linejoin="round" stroke-linecap="round" />
<polyline points="1301.0,1880.5 1281.6,1826.6 1245.0,1835.2 1234.4,1834.8 1228.3,1893.6 1229.7,1891.9 1272.6,1920.6 1301.0,1880.5" fill="none" stroke="#fbf3e6" stroke-width="2.8" stroke-linejoin="round" stroke-linecap="round" />
<polyline points="1342.2,1883.2 1360.2,1865.2 1349.2,1814.0 1305.2,1821.0 1281.6,1826.6 1301.0,1880.5 1342.2,1883.2" fill="none" stroke="#fbf3e6" stroke-width="2.8" stroke-linejoin="round" stroke-linecap="round" />
<polyline points="1349.6,1920.9 1342.2,1883.2 1301.0,1880.5 1272.6,1920.6 1325.9,1956.2 1349.6,1920.9" fill="none" stroke="#fbf3e6" stroke-width="2.8" stroke-linejoin="round" stroke-linecap="round" />
<polyline points="1349.6,1920.9 1399.9,1926.3 1402.2,1923.4 1391.7,1872.1 1360.2,1865.2 1342.2,1883.2 1349.6,1920.9" fill="none" stroke="#fbf3e6" stroke-width="2.8" stroke-linejoin="round" stroke-linecap="round" />
<polyline points="1360.2,1865.2 1391.7,1872.1 1421.3,1854.5 1414.8,1803.8 1410.0,1804.4 1349.2,1814.0 1360.2,1865.2" fill="none" stroke="#fbf3e6" stroke-width="2.8" stroke-linejoin="round" stroke-linecap="round" />
<polyline points="1448.6,1867.7 1421.3,1854.5 1391.7,1872.1 1402.2,1923.4 1445.2,1869.1 1449.4,1871.7 1448.6,1867.7" fill="none" stroke="#fbf3e6" stroke-width="2.8" stroke-linejoin="round" stroke-linecap="round" />
<polyline points="1481.5,1798.9 1450.0,1799.5 1414.8,1803.8 1421.3,1854.5 1448.6,1867.7 1484.1,1843.2 1481.5,1798.9" fill="none" stroke="#fbf3e6" stroke-width="2.8" stroke-linejoin="round" stroke-linecap="round" />
<polyline points="1484.1,1843.2 1519.7,1864.5 1550.1,1842.9 1550.7,1797.7 1481.5,1798.9 1484.1,1843.2" fill="none" stroke="#fbf3e6" stroke-width="2.8" stroke-linejoin="round" stroke-linecap="round" />
<polyline points="1550.1,1842.9 1586.8,1863.0 1614.6,1842.9 1610.4,1794.2 1581.8,1797.1 1550.7,1797.7 1550.1,1842.9" fill="none" stroke="#fbf3e6" stroke-width="2.8" stroke-linejoin="round" stroke-linecap="round" />
<polyline points="1614.6,1842.9 1634.6,1851.0 1674.3,1813.8 1670.2,1788.1 1610.4,1794.2 1614.6,1842.9" fill="none" stroke="#fbf3e6" stroke-width="2.8" stroke-linejoin="round" stroke-linecap="round" />
<polyline points="1740.3,1820.9 1740.3,1781.9 1700.3,1785.0 1670.2,1788.1 1674.3,1813.8 1689.0,1832.7 1691.7,1830.0 1721.5,1848.3 1740.3,1820.9" fill="none" stroke="#fbf3e6" stroke-width="2.8" stroke-linejoin="round" stroke-linecap="round" />
<polyline points="1790.9,1835.6 1793.9,1787.3 1776.6,1779.0 1740.3,1781.9 1740.3,1820.9 1788.0,1836.9 1790.9,1835.6" fill="none" stroke="#fbf3e6" stroke-width="2.8" stroke-linejoin="round" stroke-linecap="round" />
<polyline points="1823.0,1844.8 1823.0,1790.0 1809.2,1794.7 1793.9,1787.3 1790.9,1835.6 1823.0,1844.8" fill="none" stroke="#fbf3e6" stroke-width="2.8" stroke-linejoin="round" stroke-linecap="round" />
<polyline points="1519.7,1864.5 1484.1,1843.2 1448.6,1867.7 1449.4,1871.7 1519.7,1915.7 1519.7,1864.5" fill="none" stroke="#fbf3e6" stroke-width="2.8" stroke-linejoin="round" stroke-linecap="round" />
<polyline points="1550.1,1842.9 1519.7,1864.5 1519.7,1915.7 1540.5,1928.7 1587.8,1884.1 1586.8,1863.0 1550.1,1842.9" fill="none" stroke="#fbf3e6" stroke-width="2.8" stroke-linejoin="round" stroke-linecap="round" />
<polyline points="1634.6,1851.0 1614.6,1842.9 1586.8,1863.0 1587.8,1884.1 1617.1,1906.1 1650.0,1872.5 1634.6,1851.0" fill="none" stroke="#fbf3e6" stroke-width="2.8" stroke-linejoin="round" stroke-linecap="round" />
<polyline points="1587.8,1884.1 1540.5,1928.7 1574.2,1949.8 1617.1,1906.1 1587.8,1884.1" fill="none" stroke="#fbf3e6" stroke-width="2.8" stroke-linejoin="round" stroke-linecap="round" />
<polyline points="1674.3,1813.8 1634.6,1851.0 1650.0,1872.5 1689.0,1832.7 1674.3,1813.8" fill="none" stroke="#fbf3e6" stroke-width="2.8" stroke-linejoin="round" stroke-linecap="round" />
<polyline points="1788.0,1836.9 1740.3,1820.9 1721.5,1848.3 1769.0,1877.6 1788.0,1836.9" fill="none" stroke="#fbf3e6" stroke-width="2.8" stroke-linejoin="round" stroke-linecap="round" />
<polyline points="1790.9,1835.6 1788.0,1836.9 1769.0,1877.6 1823.0,1910.8 1823.0,1844.8 1790.9,1835.6" fill="none" stroke="#fbf3e6" stroke-width="2.8" stroke-linejoin="round" stroke-linecap="round" />
<polyline points="1349.6,1920.9 1325.9,1956.2 1357.6,1977.4 1392.2,1936.0 1399.9,1926.3 1349.6,1920.9" fill="none" stroke="#fbf3e6" stroke-width="2.8" stroke-linejoin="round" stroke-linecap="round" />
<polyline points="1164.5,1878.8 1153.0,1899.1 1194.9,1935.6 1227.7,1894.3 1164.5,1878.8" fill="none" stroke="#fbf3e6" stroke-width="2.8" stroke-linejoin="round" stroke-linecap="round" />
<polyline points="1014.0,1829.3 1088.0,1829.3 1245.0,1835.2 1305.2,1821.0 1410.0,1804.4 1450.0,1799.5 1581.8,1797.1 1700.3,1785.0 1776.6,1779.0 1809.2,1794.7 1823.0,1790.0 1823.0,1910.8 1691.7,1830.0 1574.2,1949.8 1445.2,1869.1 1392.2,1936.0 1357.6,1977.4 1229.7,1891.9 1137.5,2007.6 1111.6,1969.8 1071.4,1910.8 1047.8,1870.6 1014.0,1826.0 1014.0,1829.3" fill="none" stroke="#fbf3e6" stroke-width="3.2" stroke-linejoin="round" stroke-linecap="round" />
</g>
<g clip-path="url(#clipR)">
<polyline points="1051.1,2271.6 1014.0,2243.5 1014.0,2298.9 1039.4,2298.9 1040.6,2297.7 1051.1,2271.6" fill="none" stroke="#fbf3e6" stroke-width="2.8" stroke-linejoin="round" stroke-linecap="round" />
<polyline points="1044.3,2319.7 1039.4,2298.9 1014.0,2298.9 1014.0,2354.5 1017.4,2354.4 1044.3,2319.7" fill="none" stroke="#fbf3e6" stroke-width="2.8" stroke-linejoin="round" stroke-linecap="round" />
<polyline points="1094.1,2309.0 1040.6,2297.7 1039.4,2298.9 1044.3,2319.7 1077.3,2343.7 1093.9,2315.1 1094.1,2309.0" fill="none" stroke="#fbf3e6" stroke-width="2.8" stroke-linejoin="round" stroke-linecap="round" />
<polyline points="1040.6,2297.7 1094.1,2309.0 1100.9,2294.1 1095.0,2304.9 1051.1,2271.6 1040.6,2297.7" fill="none" stroke="#fbf3e6" stroke-width="2.8" stroke-linejoin="round" stroke-linecap="round" />
<polyline points="1094.1,2309.0 1093.9,2315.1 1135.2,2339.9 1154.9,2308.4 1154.6,2299.3 1104.7,2287.1 1100.9,2294.1 1094.1,2309.0" fill="none" stroke="#fbf3e6" stroke-width="2.8" stroke-linejoin="round" stroke-linecap="round" />
<polyline points="1156.7,2296.9 1148.4,2233.8 1138.9,2223.8 1104.7,2287.1 1154.6,2299.3 1156.7,2296.9" fill="none" stroke="#fbf3e6" stroke-width="2.8" stroke-linejoin="round" stroke-linecap="round" />
<polyline points="1148.4,2233.8 1198.1,2250.4 1207.0,2243.3 1216.7,2207.3 1189.5,2189.2 1167.0,2175.0 1154.0,2196.0 1138.9,2223.8 1148.4,2233.8" fill="none" stroke="#fbf3e6" stroke-width="2.8" stroke-linejoin="round" stroke-linecap="round" />
<polyline points="1148.4,2233.8 1156.7,2296.9 1195.1,2284.2 1198.1,2250.4 1148.4,2233.8" fill="none" stroke="#fbf3e6" stroke-width="2.8" stroke-linejoin="round" stroke-linecap="round" />
<polyline points="1195.1,2284.2 1156.7,2296.9 1154.6,2299.3 1154.9,2308.4 1192.1,2345.3 1218.4,2305.6 1218.1,2302.5 1195.1,2284.2" fill="none" stroke="#fbf3e6" stroke-width="2.8" stroke-linejoin="round" stroke-linecap="round" />
<polyline points="1207.0,2243.3 1239.6,2257.2 1260.3,2236.4 1216.7,2207.3 1207.0,2243.3" fill="none" stroke="#fbf3e6" stroke-width="2.8" stroke-linejoin="round" stroke-linecap="round" />
<polyline points="1239.6,2257.2 1245.8,2281.7 1277.9,2288.1 1300.4,2263.1 1260.3,2236.4 1239.6,2257.2" fill="none" stroke="#fbf3e6" stroke-width="2.8" stroke-linejoin="round" stroke-linecap="round" />
<polyline points="1277.9,2288.1 1245.8,2281.7 1218.1,2302.5 1218.4,2305.6 1263.6,2347.4 1265.0,2347.4 1282.6,2344.9 1277.9,2288.1" fill="none" stroke="#fbf3e6" stroke-width="2.8" stroke-linejoin="round" stroke-linecap="round" />
<polyline points="1341.6,2296.8 1338.4,2266.6 1322.2,2247.9 1310.0,2269.5 1300.4,2263.1 1277.9,2288.1 1282.6,2344.9 1308.1,2341.3 1341.6,2296.8" fill="none" stroke="#fbf3e6" stroke-width="2.8" stroke-linejoin="round" stroke-linecap="round" />
<polyline points="1338.4,2266.6 1382.6,2268.6 1398.7,2235.6 1397.4,2226.7 1367.4,2210.0 1341.4,2213.8 1322.2,2247.9 1338.4,2266.6" fill="none" stroke="#fbf3e6" stroke-width="2.8" stroke-linejoin="round" stroke-linecap="round" />
<polyline points="1367.4,2210.0 1413.9,2155.1 1387.6,2136.4 1383.2,2139.6 1341.4,2213.8 1367.4,2210.0" fill="none" stroke="#fbf3e6" stroke-width="2.8" stroke-linejoin="round" stroke-linecap="round" />
<polyline points="1431.3,2205.7 1443.1,2176.0 1441.5,2174.7 1413.9,2155.1 1367.4,2210.0 1397.4,2226.7 1431.3,2205.7" fill="none" stroke="#fbf3e6" stroke-width="2.8" stroke-linejoin="round" stroke-linecap="round" />
<polyline points="1432.7,2257.8 1398.7,2235.6 1382.6,2268.6 1395.0,2278.0 1415.6,2275.7 1432.7,2257.8" fill="none" stroke="#fbf3e6" stroke-width="2.8" stroke-linejoin="round" stroke-linecap="round" />
<polyline points="1207.0,2243.3 1198.1,2250.4 1195.1,2284.2 1218.1,2302.5 1245.8,2281.7 1239.6,2257.2 1207.0,2243.3" fill="none" stroke="#fbf3e6" stroke-width="2.8" stroke-linejoin="round" stroke-linecap="round" />
<polyline points="1192.1,2345.3 1154.9,2308.4 1135.2,2339.9 1135.2,2351.1 1192.3,2349.5 1192.1,2345.3" fill="none" stroke="#fbf3e6" stroke-width="2.8" stroke-linejoin="round" stroke-linecap="round" />
<polyline points="1341.6,2296.8 1308.1,2341.3 1381.3,2331.0 1341.6,2296.8" fill="none" stroke="#fbf3e6" stroke-width="2.8" stroke-linejoin="round" stroke-linecap="round" />
<polyline points="1415.6,2275.7 1395.0,2278.0 1391.6,2329.6 1410.0,2327.0 1441.8,2322.1 1415.6,2275.7" fill="none" stroke="#fbf3e6" stroke-width="2.8" stroke-linejoin="round" stroke-linecap="round" />
<polyline points="1395.0,2278.0 1382.6,2268.6 1338.4,2266.6 1341.6,2296.8 1381.3,2331.0 1391.6,2329.6 1395.0,2278.0" fill="none" stroke="#fbf3e6" stroke-width="2.8" stroke-linejoin="round" stroke-linecap="round" />
<polyline points="1077.3,2343.7 1044.3,2319.7 1017.4,2354.4 1077.3,2352.7 1077.3,2343.7" fill="none" stroke="#fbf3e6" stroke-width="2.8" stroke-linejoin="round" stroke-linecap="round" />
<polyline points="1077.3,2343.7 1077.3,2352.7 1135.2,2351.1 1135.2,2339.9 1093.9,2315.1 1077.3,2343.7" fill="none" stroke="#fbf3e6" stroke-width="2.8" stroke-linejoin="round" stroke-linecap="round" />
<polyline points="1192.1,2345.3 1192.3,2349.5 1263.6,2347.4 1218.4,2305.6 1192.1,2345.3" fill="none" stroke="#fbf3e6" stroke-width="2.8" stroke-linejoin="round" stroke-linecap="round" />
<polyline points="1444.1,2253.8 1431.3,2205.7 1397.4,2226.7 1398.7,2235.6 1432.7,2257.8 1444.1,2253.8" fill="none" stroke="#fbf3e6" stroke-width="2.8" stroke-linejoin="round" stroke-linecap="round" />
<polyline points="1476.5,2252.0 1481.3,2205.7 1443.1,2176.0 1431.3,2205.7 1444.1,2253.8 1462.0,2259.8 1476.5,2252.0" fill="none" stroke="#fbf3e6" stroke-width="2.8" stroke-linejoin="round" stroke-linecap="round" />
<polyline points="1476.5,2252.0 1510.1,2261.2 1535.5,2241.2 1534.2,2235.7 1528.6,2242.4 1481.3,2205.7 1476.5,2252.0" fill="none" stroke="#fbf3e6" stroke-width="2.8" stroke-linejoin="round" stroke-linecap="round" />
<polyline points="1535.5,2241.2 1568.7,2253.1 1594.5,2232.0 1594.0,2217.9 1584.8,2196.8 1574.2,2187.2 1534.2,2235.7 1535.5,2241.2" fill="none" stroke="#fbf3e6" stroke-width="2.8" stroke-linejoin="round" stroke-linecap="round" />
<polyline points="1630.5,2165.8 1603.6,2150.5 1574.5,2186.8 1574.2,2187.2 1584.8,2196.8 1630.5,2165.8" fill="none" stroke="#fbf3e6" stroke-width="2.8" stroke-linejoin="round" stroke-linecap="round" />
<polyline points="1655.8,2183.6 1656.9,2180.7 1630.5,2165.8 1584.8,2196.8 1594.0,2217.9 1655.8,2183.6" fill="none" stroke="#fbf3e6" stroke-width="2.8" stroke-linejoin="round" stroke-linecap="round" />
<polyline points="1632.7,2248.6 1653.7,2230.9 1655.8,2183.6 1594.0,2217.9 1594.5,2232.0 1632.7,2248.6" fill="none" stroke="#fbf3e6" stroke-width="2.8" stroke-linejoin="round" stroke-linecap="round" />
<polyline points="1655.8,2183.6 1653.7,2230.9 1694.4,2244.5 1717.9,2218.1 1676.0,2191.6 1656.9,2180.7 1655.8,2183.6" fill="none" stroke="#fbf3e6" stroke-width="2.8" stroke-linejoin="round" stroke-linecap="round" />
<polyline points="1793.7,2198.0 1750.7,2235.8 1760.8,2276.2 1804.5,2271.1 1793.7,2198.0" fill="none" stroke="#fbf3e6" stroke-width="2.8" stroke-linejoin="round" stroke-linecap="round" />
<polyline points="1804.5,2271.1 1823.0,2269.0 1823.0,2172.3 1793.7,2198.0 1804.5,2271.1" fill="none" stroke="#fbf3e6" stroke-width="2.8" stroke-linejoin="round" stroke-linecap="round" />
<polyline points="1462.0,2259.8 1444.1,2253.8 1432.7,2257.8 1415.6,2275.7 1441.8,2322.1 1462.0,2318.9 1462.0,2259.8" fill="none" stroke="#fbf3e6" stroke-width="2.8" stroke-linejoin="round" stroke-linecap="round" />
<polyline points="1510.1,2261.2 1476.5,2252.0 1462.0,2259.8 1462.0,2318.9 1487.4,2315.0 1517.2,2310.4 1510.1,2261.2" fill="none" stroke="#fbf3e6" stroke-width="2.8" stroke-linejoin="round" stroke-linecap="round" />
<polyline points="1517.2,2310.4 1574.1,2301.7 1568.7,2253.1 1535.5,2241.2 1510.1,2261.2 1517.2,2310.4" fill="none" stroke="#fbf3e6" stroke-width="2.8" stroke-linejoin="round" stroke-linecap="round" />
<polyline points="1632.7,2248.6 1594.5,2232.0 1568.7,2253.1 1574.1,2301.7 1639.2,2291.7 1632.7,2248.6" fill="none" stroke="#fbf3e6" stroke-width="2.8" stroke-linejoin="round" stroke-linecap="round" />
<polyline points="1694.4,2244.5 1653.7,2230.9 1632.7,2248.6 1639.2,2291.7 1676.0,2286.0 1697.7,2283.5 1694.4,2244.5" fill="none" stroke="#fbf3e6" stroke-width="2.8" stroke-linejoin="round" stroke-linecap="round" />
<polyline points="1694.4,2244.5 1697.7,2283.5 1760.8,2276.2 1750.7,2235.8 1748.7,2237.6 1717.9,2218.1 1694.4,2244.5" fill="none" stroke="#fbf3e6" stroke-width="2.8" stroke-linejoin="round" stroke-linecap="round" />
<polyline points="1014.0,2243.5 1095.0,2304.9 1154.0,2196.0 1167.0,2175.0 1189.5,2189.2 1310.0,2269.5 1383.2,2139.6 1387.6,2136.4 1441.5,2174.7 1528.6,2242.4 1574.5,2186.8 1603.6,2150.5 1676.0,2191.6 1748.7,2237.6 1823.0,2172.3 1823.0,2269.0 1676.0,2286.0 1487.4,2315.0 1410.0,2327.0 1265.0,2347.4 1014.0,2354.5 1014.0,2243.5" fill="none" stroke="#fbf3e6" stroke-width="3.2" stroke-linejoin="round" stroke-linecap="round" />
</g>
<g clip-path="url(#clipR)">
<polyline points="1017.0,1736.0 1088.0,1828.1" fill="none" stroke="#fbf3e6" stroke-width="3.2" stroke-linejoin="round" stroke-linecap="round" />
<polyline points="1210.8,1716.0 1245.0,1832.8" fill="none" stroke="#fbf3e6" stroke-width="3.2" stroke-linejoin="round" stroke-linecap="round" />
<polyline points="1419.7,1716.0 1450.0,1799.5" fill="none" stroke="#fbf3e6" stroke-width="3.2" stroke-linejoin="round" stroke-linecap="round" />
<polyline points="1574.5,1716.0 1581.8,1797.1" fill="none" stroke="#fbf3e6" stroke-width="3.2" stroke-linejoin="round" stroke-linecap="round" />
<polyline points="1748.7,1716.0 1776.6,1777.7" fill="none" stroke="#fbf3e6" stroke-width="3.2" stroke-linejoin="round" stroke-linecap="round" />
<polyline points="1137.5,2007.6 1151.7,2100.0 1167.0,2175.0" fill="none" stroke="#fbf3e6" stroke-width="3.2" stroke-linejoin="round" stroke-linecap="round" />
<polyline points="1357.6,1977.4 1387.6,2136.4" fill="none" stroke="#fbf3e6" stroke-width="3.2" stroke-linejoin="round" stroke-linecap="round" />
<polyline points="1574.2,1949.8 1596.3,2090.0 1603.6,2150.5" fill="none" stroke="#fbf3e6" stroke-width="3.2" stroke-linejoin="round" stroke-linecap="round" />
<polyline points="1076.0,2354.5 1085.6,2484.0" fill="none" stroke="#fbf3e6" stroke-width="3.2" stroke-linejoin="round" stroke-linecap="round" />
<polyline points="1267.4,2347.4 1302.9,2484.0" fill="none" stroke="#fbf3e6" stroke-width="3.2" stroke-linejoin="round" stroke-linecap="round" />
<polyline points="1487.4,2315.0 1502.0,2484.0" fill="none" stroke="#fbf3e6" stroke-width="3.2" stroke-linejoin="round" stroke-linecap="round" />
<polyline points="1673.7,2286.0 1744.0,2484.0" fill="none" stroke="#fbf3e6" stroke-width="3.2" stroke-linejoin="round" stroke-linecap="round" />
</g>
<line x1="1016" y1="2048" x2="1156" y2="2191" stroke="#0d0d0d" stroke-width="10"/>
<line x1="1383" y1="1952" x2="1569.6" y2="2187" stroke="#0d0d0d" stroke-width="10"/>
<line x1="1387.6" y1="2118" x2="1592.6" y2="2082.3" stroke="#0d0d0d" stroke-width="10"/>
<path d="M1123.1,1815.0 L1132.5,1814.5 M1127.8,1814.8 L1128.3,1824.3 M1137.5,1823.8 L1147.0,1823.3 M1142.3,1823.5 L1141.8,1814.1 M1151.0,1813.6 L1160.5,1813.1 M1155.8,1813.3 L1156.3,1822.8 M1165.5,1822.3 L1175.0,1821.8 M1170.2,1822.1 L1169.7,1812.6 M1179.0,1812.1 L1188.5,1811.6 M1183.7,1811.9 L1184.2,1821.3 M1193.5,1820.9 L1202.9,1820.4 M1198.2,1820.6 L1197.7,1811.1 " stroke="#e9605a" stroke-width="1.6" fill="none"/>
<path d="M1334.0,1786.7 L1343.5,1785.9 M1338.7,1786.3 L1339.5,1795.8 M1348.8,1795.0 L1358.2,1794.1 M1353.5,1794.6 L1352.7,1785.1 M1361.9,1784.3 L1371.3,1783.5 M1366.6,1783.9 L1367.4,1793.3 M1376.7,1792.5 L1386.1,1791.7 M1381.4,1792.1 L1380.6,1782.7 M1389.8,1781.9 L1399.2,1781.0 M1394.5,1781.4 L1395.3,1790.9 M1404.5,1790.1 L1414.0,1789.3 M1409.3,1789.7 L1408.5,1780.2 " stroke="#e9605a" stroke-width="1.6" fill="none"/>
<path d="M1633.7,1766.3 L1643.1,1765.8 M1638.4,1766.1 L1638.9,1775.6 M1648.1,1775.1 L1657.6,1774.6 M1652.9,1774.8 L1652.4,1765.4 M1661.6,1764.9 L1671.1,1764.4 M1666.4,1764.6 L1666.9,1774.1 M1676.1,1773.6 L1685.6,1773.1 M1680.8,1773.4 L1680.3,1763.9 M1689.6,1763.4 L1699.1,1762.9 M1694.3,1763.2 L1694.8,1772.6 M1704.1,1772.2 L1713.5,1771.7 M1708.8,1771.9 L1708.3,1762.4 " stroke="#e9605a" stroke-width="1.6" fill="none"/>
<path d="M1020.6,1839.7 L1030.1,1838.8 M1025.4,1839.2 L1026.2,1848.7 M1033.9,1848.0 L1043.4,1847.2 M1038.7,1847.6 L1037.8,1838.2 M1045.6,1837.5 L1055.0,1836.7 M1050.3,1837.1 L1051.1,1846.5 M1058.8,1845.9 L1068.3,1845.0 M1063.6,1845.4 L1062.7,1836.0 M1070.5,1835.3 L1079.9,1834.5 M1075.2,1834.9 L1076.0,1844.4 " stroke="#e9605a" stroke-width="1.6" fill="none"/>
<path d="M1191.2,1830.1 L1198.5,1836.3 M1194.8,1833.2 L1188.7,1840.5 M1196.6,1847.1 L1203.8,1853.2 M1200.2,1850.1 L1206.3,1842.8 M1214.2,1849.4 L1221.4,1855.5 M1217.8,1852.5 L1211.7,1859.8 M1219.5,1866.3 L1226.8,1872.5 M1223.2,1869.4 L1229.3,1862.1 " stroke="#e9605a" stroke-width="1.6" fill="none"/>
<path d="M1366.7,1802.9 L1368.3,1812.3 M1367.5,1807.6 L1358.1,1809.2 M1359.7,1818.1 L1361.4,1827.5 M1360.5,1822.8 L1369.9,1821.1 M1371.5,1830.0 L1373.1,1839.4 M1372.3,1834.7 L1362.9,1836.3 M1364.5,1845.2 L1366.1,1854.5 M1365.3,1849.9 L1374.7,1848.2 M1376.2,1857.1 L1377.9,1866.4 M1377.1,1861.8 L1367.7,1863.4 " stroke="#e9605a" stroke-width="1.6" fill="none"/>
<path d="M1509.4,1800.1 L1517.2,1805.5 M1513.3,1802.8 L1507.8,1810.6 M1516.2,1816.5 L1524.0,1821.9 M1520.1,1819.2 L1525.6,1811.4 M1534.0,1817.3 L1541.8,1822.7 M1537.9,1820.0 L1532.4,1827.8 M1540.8,1833.7 L1548.6,1839.1 M1544.7,1836.4 L1550.2,1828.6 " stroke="#e9605a" stroke-width="1.6" fill="none"/>
<path d="M1629.8,1795.2 L1630.6,1804.7 M1630.2,1800.0 L1620.7,1800.8 M1621.6,1811.0 L1622.4,1820.5 M1622.0,1815.7 L1631.5,1814.9 M1632.4,1825.1 L1633.2,1834.6 M1632.8,1829.9 L1623.3,1830.7 M1624.2,1840.9 L1625.0,1850.4 M1624.6,1845.6 L1634.1,1844.8 " stroke="#e9605a" stroke-width="1.6" fill="none"/>
<path d="M1749.1,1789.3 L1752.4,1798.2 M1750.8,1793.7 L1741.8,1797.0 M1745.3,1806.6 L1748.6,1815.5 M1747.0,1811.1 L1755.9,1807.8 M1759.4,1817.5 L1762.7,1826.4 M1761.0,1821.9 L1752.1,1825.2 M1755.6,1834.8 L1758.9,1843.7 M1757.2,1839.3 L1766.2,1836.0 " stroke="#e9605a" stroke-width="1.6" fill="none"/>
<path d="M1025.5,1879.4 L1030.9,1887.2 M1028.2,1883.3 L1020.4,1888.8 M1025.7,1896.3 L1031.2,1904.1 M1028.5,1900.2 L1036.2,1894.8 M1041.6,1902.4 L1047.0,1910.1 M1044.3,1906.2 L1036.5,1911.7 M1041.8,1919.3 L1047.2,1927.0 M1044.5,1923.2 L1052.3,1917.7 M1057.6,1925.3 L1063.1,1933.1 M1060.3,1929.2 L1052.6,1934.6 M1057.9,1942.2 L1063.3,1950.0 M1060.6,1946.1 L1068.4,1940.6 " stroke="#e9605a" stroke-width="1.6" fill="none"/>
<path d="M1088.6,1889.8 L1094.0,1897.6 M1091.3,1893.7 L1083.5,1899.1 M1089.4,1907.5 L1094.8,1915.3 M1092.1,1911.4 L1099.9,1906.0 M1105.8,1914.4 L1111.2,1922.2 M1108.5,1918.3 L1100.7,1923.7 M1106.6,1932.1 L1112.0,1939.9 M1109.3,1936.0 L1117.1,1930.6 M1123.0,1939.0 L1128.4,1946.7 M1125.7,1942.9 L1117.9,1948.3 " stroke="#e9605a" stroke-width="1.6" fill="none"/>
<path d="M1136.5,1917.2 L1142.6,1924.4 M1139.6,1920.8 L1132.3,1926.9 M1137.3,1932.8 L1143.4,1940.1 M1140.3,1936.5 L1147.6,1930.4 M1152.6,1936.3 L1158.7,1943.6 M1155.6,1939.9 L1148.4,1946.1 M1153.3,1952.0 L1159.4,1959.3 M1156.4,1955.6 L1163.7,1949.5 M1168.7,1955.5 L1174.8,1962.7 M1171.7,1959.1 L1164.4,1965.2 " stroke="#e9605a" stroke-width="1.6" fill="none"/>
<path d="M1233.0,1908.1 L1240.8,1913.6 M1236.9,1910.8 L1231.4,1918.6 M1238.8,1923.8 L1246.6,1929.2 M1242.7,1926.5 L1248.2,1918.7 M1255.5,1923.9 L1263.3,1929.3 M1259.4,1926.6 L1254.0,1934.4 M1261.3,1939.6 L1269.1,1945.0 M1265.2,1942.3 L1270.7,1934.5 M1278.1,1939.7 L1285.8,1945.1 M1282.0,1942.4 L1276.5,1950.2 " stroke="#e9605a" stroke-width="1.6" fill="none"/>
<path d="M1280.6,1911.5 L1288.8,1916.3 M1284.7,1913.9 L1280.0,1922.1 M1286.7,1926.0 L1294.9,1930.7 M1290.8,1928.4 L1295.5,1920.1 M1302.3,1924.0 L1310.5,1928.8 M1306.4,1926.4 L1301.6,1934.6 M1308.3,1938.5 L1316.6,1943.2 M1312.5,1940.9 L1317.2,1932.6 M1323.9,1936.5 L1332.1,1941.3 M1328.0,1938.9 L1323.3,1947.1 " stroke="#e9605a" stroke-width="1.6" fill="none"/>
<path d="M1519.3,1887.7 L1527.0,1893.1 M1523.1,1890.4 L1517.7,1898.2 M1526.1,1904.1 L1533.9,1909.5 M1530.0,1906.8 L1535.4,1899.0 M1543.8,1904.9 L1551.6,1910.3 M1547.7,1907.6 L1542.3,1915.4 M1550.7,1921.3 L1558.5,1926.7 M1554.6,1924.0 L1560.0,1916.2 M1568.4,1922.1 L1576.2,1927.5 M1572.3,1924.8 L1566.9,1932.6 " stroke="#e9605a" stroke-width="1.6" fill="none"/>
<path d="M1594.8,1899.4 L1601.6,1892.7 M1598.2,1896.1 L1604.9,1902.8 M1611.3,1896.4 L1618.0,1889.7 M1614.6,1893.1 L1607.9,1886.4 M1614.3,1880.0 L1621.0,1873.3 M1617.6,1876.6 L1624.4,1883.4 M1630.7,1877.0 L1637.4,1870.3 M1634.1,1873.6 L1627.4,1866.9 M1633.7,1860.6 L1640.4,1853.8 M1637.1,1857.2 L1643.8,1863.9 " stroke="#e9605a" stroke-width="1.6" fill="none"/>
<path d="M1702.0,1847.5 L1709.3,1853.6 M1705.7,1850.6 L1699.6,1857.9 M1707.4,1864.4 L1714.7,1870.6 M1711.1,1867.5 L1717.2,1860.2 M1725.0,1866.8 L1732.3,1872.9 M1728.7,1869.9 L1722.5,1877.1 M1730.4,1883.7 L1737.7,1889.8 M1734.0,1886.8 L1740.1,1879.5 M1748.0,1886.1 L1755.3,1892.2 M1751.6,1889.1 L1745.5,1896.4 " stroke="#e9605a" stroke-width="1.6" fill="none"/>
<path d="M1782.0,1860.5 L1789.8,1865.9 M1785.9,1863.2 L1780.4,1871.0 M1788.8,1876.9 L1796.6,1882.3 M1792.7,1879.6 L1798.2,1871.8 M1806.6,1877.7 L1814.4,1883.1 M1810.5,1880.4 L1805.0,1888.2 M1813.4,1894.1 L1821.2,1899.5 M1817.3,1896.8 L1822.8,1889.0 " stroke="#e9605a" stroke-width="1.6" fill="none"/>
<path d="M1617.3,2131.7 L1625.0,2137.1 M1621.1,2134.4 L1615.7,2142.2 M1624.1,2148.1 L1631.9,2153.5 M1628.0,2150.8 L1633.4,2143.0 M1641.8,2148.9 L1649.6,2154.3 M1645.7,2151.6 L1640.3,2159.4 M1648.7,2165.3 L1656.5,2170.7 M1652.6,2168.0 L1658.0,2160.2 M1666.4,2166.1 L1674.2,2171.5 M1670.3,2168.8 L1664.9,2176.6 " stroke="#e9605a" stroke-width="1.6" fill="none"/>
<path d="M1746.6,2202.7 L1753.9,2196.6 M1750.3,2199.6 L1756.4,2206.9 M1764.2,2200.3 L1771.5,2194.2 M1767.9,2197.3 L1761.8,2190.0 M1769.6,2183.4 L1776.9,2177.3 M1773.2,2180.4 L1779.4,2187.6 M1787.2,2181.1 L1794.5,2174.9 M1790.8,2178.0 L1784.7,2170.7 M1792.6,2164.1 L1799.9,2158.0 M1796.2,2161.1 L1802.3,2168.4 " stroke="#e9605a" stroke-width="1.6" fill="none"/>
<path d="M1116.7,2237.0 L1119.9,2228.1 M1118.3,2232.6 L1127.2,2235.8 M1130.7,2226.2 L1134.0,2217.3 M1132.3,2221.7 L1123.4,2218.5 M1126.9,2208.8 L1130.2,2199.9 M1128.5,2204.4 L1137.5,2207.6 M1141.0,2198.0 L1144.2,2189.1 M1142.6,2193.5 L1133.7,2190.3 M1137.2,2180.6 L1140.4,2171.7 M1138.8,2176.2 L1147.7,2179.4 " stroke="#e9605a" stroke-width="1.6" fill="none"/>
<path d="M1155.7,2207.1 L1163.0,2213.2 M1159.4,2210.2 L1153.3,2217.5 M1160.2,2223.2 L1167.5,2229.4 M1163.8,2226.3 L1169.9,2219.0 M1176.8,2224.8 L1184.1,2230.9 M1180.5,2227.9 L1174.3,2235.1 M1181.2,2240.9 L1188.5,2247.0 M1184.9,2244.0 L1191.0,2236.7 M1197.9,2242.5 L1205.2,2248.6 M1201.5,2245.5 L1195.4,2252.8 " stroke="#e9605a" stroke-width="1.6" fill="none"/>
<path d="M1246.8,2204.6 L1254.5,2210.0 M1250.6,2207.3 L1245.2,2215.1 M1253.6,2221.0 L1261.4,2226.4 M1257.5,2223.7 L1262.9,2215.9 M1271.3,2221.8 L1279.1,2227.2 M1275.2,2224.5 L1269.8,2232.3 M1278.2,2238.2 L1286.0,2243.6 M1282.1,2240.9 L1287.5,2233.1 M1295.9,2239.0 L1303.7,2244.4 M1299.8,2241.7 L1294.4,2249.5 " stroke="#e9605a" stroke-width="1.6" fill="none"/>
<path d="M1032.8,2234.0 L1040.1,2240.1 M1036.4,2237.1 L1030.3,2244.3 M1037.4,2250.3 L1044.7,2256.4 M1041.1,2253.3 L1047.2,2246.1 M1054.3,2252.0 L1061.5,2258.1 M1057.9,2255.1 L1051.8,2262.3 M1058.9,2268.3 L1066.1,2274.4 M1062.5,2271.3 L1068.6,2264.1 M1075.7,2270.0 L1083.0,2276.1 M1079.3,2273.1 L1073.2,2280.3 M1080.3,2286.3 L1087.6,2292.4 M1084.0,2289.3 L1090.1,2282.1 " stroke="#e9605a" stroke-width="1.6" fill="none"/>
<path d="M1138.0,2227.7 L1145.3,2233.8 M1141.7,2230.8 L1135.6,2238.1 M1143.4,2244.6 L1150.7,2250.8 M1147.1,2247.7 L1153.2,2240.4 M1161.0,2247.0 L1168.3,2253.1 M1164.7,2250.1 L1158.5,2257.3 M1166.4,2263.9 L1173.7,2270.0 M1170.0,2267.0 L1176.1,2259.7 M1184.0,2266.3 L1191.3,2272.4 M1187.6,2269.3 L1181.5,2276.6 " stroke="#e9605a" stroke-width="1.6" fill="none"/>
<path d="M1467.6,2190.2 L1469.3,2199.5 M1468.5,2194.8 L1459.1,2196.5 M1460.9,2206.6 L1462.5,2215.9 M1461.7,2211.3 L1471.1,2209.6 M1472.9,2219.7 L1474.5,2229.1 M1473.7,2224.4 L1464.3,2226.0 M1466.1,2236.1 L1467.8,2245.5 M1466.9,2240.8 L1476.3,2239.1 M1478.1,2249.2 L1479.7,2258.6 M1478.9,2253.9 L1469.5,2255.6 " stroke="#e9605a" stroke-width="1.6" fill="none"/>
<path d="M1363.8,2240.3 L1366.3,2249.5 M1365.1,2244.9 L1355.9,2247.4 M1358.2,2256.1 L1360.7,2265.2 M1359.5,2260.6 L1368.6,2258.2 M1371.0,2266.9 L1373.4,2276.1 M1372.2,2271.5 L1363.0,2273.9 M1365.3,2282.6 L1367.8,2291.8 M1366.6,2287.2 L1375.7,2284.8 M1378.1,2293.4 L1380.5,2302.6 M1379.3,2298.0 L1370.1,2300.5 " stroke="#e9605a" stroke-width="1.6" fill="none"/>
<path d="M1531.7,2223.4 L1537.8,2216.1 M1534.8,2219.7 L1542.1,2225.8 M1548.6,2218.0 L1554.8,2210.7 M1551.7,2214.3 L1544.4,2208.2 M1551.0,2200.4 L1557.1,2193.1 M1554.1,2196.7 L1561.3,2202.9 M1567.9,2195.0 L1574.0,2187.7 M1571.0,2191.4 L1563.7,2185.3 M1570.3,2177.4 L1576.4,2170.1 M1573.3,2173.8 L1580.6,2179.9 " stroke="#e9605a" stroke-width="1.6" fill="none"/>
<path d="M1050.0,2281.6 L1057.2,2287.7 M1053.6,2284.7 L1047.5,2292.0 M1053.4,2297.0 L1060.7,2303.1 M1057.1,2300.0 L1063.2,2292.7 M1069.1,2297.7 L1076.4,2303.8 M1072.8,2300.8 L1066.6,2308.0 M1072.6,2313.0 L1079.9,2319.1 M1076.2,2316.1 L1082.3,2308.8 M1088.3,2313.8 L1095.5,2319.9 M1091.9,2316.8 L1085.8,2324.1 " stroke="#e9605a" stroke-width="1.6" fill="none"/>
<path d="M1149.4,2305.6 L1157.1,2311.1 M1153.2,2308.4 L1147.8,2316.2 M1154.1,2320.6 L1161.9,2326.0 M1158.0,2323.3 L1163.5,2315.5 M1169.8,2320.0 L1177.6,2325.4 M1173.7,2322.7 L1168.3,2330.5 M1174.6,2334.9 L1182.4,2340.4 M1178.5,2337.7 L1184.0,2329.9 M1190.3,2334.3 L1198.1,2339.8 M1194.2,2337.0 L1188.8,2344.8 " stroke="#e9605a" stroke-width="1.6" fill="none"/>
<path d="M1407.3,2287.9 L1416.7,2288.7 M1412.0,2288.3 L1411.2,2297.8 M1421.4,2298.7 L1430.8,2299.5 M1426.1,2299.1 L1426.9,2289.6 M1437.2,2290.5 L1446.6,2291.3 M1441.9,2290.9 L1441.1,2300.4 M1451.3,2301.3 L1460.7,2302.1 M1456.0,2301.7 L1456.8,2292.2 " stroke="#e9605a" stroke-width="1.6" fill="none"/>
<path d="M1578.7,2261.7 L1588.2,2261.7 M1583.4,2261.7 L1583.4,2271.2 M1591.2,2271.2 L1600.7,2271.2 M1595.9,2271.2 L1595.9,2261.7 M1603.7,2261.7 L1613.2,2261.7 M1608.4,2261.7 L1608.4,2271.2 M1616.2,2271.2 L1625.7,2271.2 M1620.9,2271.2 L1620.9,2261.7 M1628.7,2261.7 L1638.2,2261.7 M1633.4,2261.7 L1633.4,2271.2 " stroke="#e9605a" stroke-width="1.6" fill="none"/>
<path d="M1344.0,2345.8 L1353.4,2345.0 M1348.7,2345.4 L1349.5,2354.8 M1359.7,2354.0 L1369.2,2353.1 M1364.5,2353.5 L1363.6,2344.1 M1373.9,2343.2 L1383.3,2342.4 M1378.6,2342.8 L1379.4,2352.2 M1389.6,2351.3 L1399.1,2350.5 M1394.4,2350.9 L1393.5,2341.5 M1403.7,2340.6 L1413.2,2339.7 M1408.5,2340.2 L1409.3,2349.6 " stroke="#e9605a" stroke-width="1.6" fill="none"/>
<path d="M1725.5,2283.7 L1734.9,2282.9 M1730.2,2283.3 L1731.0,2292.7 M1741.2,2291.9 L1750.7,2291.0 M1746.0,2291.4 L1745.1,2282.0 M1755.4,2281.1 L1764.8,2280.3 M1760.1,2280.7 L1760.9,2290.1 M1771.1,2289.2 L1780.6,2288.4 M1775.9,2288.8 L1775.0,2279.4 M1785.2,2278.5 L1794.7,2277.6 M1790.0,2278.1 L1790.8,2287.5 " stroke="#e9605a" stroke-width="1.6" fill="none"/>
<path d="M1556.9,2308.9 L1566.3,2308.1 M1561.6,2308.5 L1562.4,2317.9 M1571.4,2317.1 L1580.8,2316.3 M1576.1,2316.7 L1575.3,2307.3 M1584.3,2306.5 L1593.7,2305.7 M1589.0,2306.1 L1589.8,2315.5 M1598.8,2314.7 L1608.2,2313.9 M1603.5,2314.3 L1602.7,2304.9 M1611.6,2304.1 L1621.1,2303.3 M1616.4,2303.7 L1617.2,2313.1 " stroke="#e9605a" stroke-width="1.6" fill="none"/>
<path d="M1132.0,2363.1 L1141.5,2363.1 M1136.7,2363.1 L1136.7,2372.6 M1147.0,2372.6 L1156.5,2372.6 M1151.7,2372.6 L1151.7,2363.1 M1162.0,2363.1 L1171.5,2363.1 M1166.7,2363.1 L1166.7,2372.6 M1177.0,2372.6 L1186.5,2372.6 M1181.7,2372.6 L1181.7,2363.1 M1192.0,2363.1 L1201.5,2363.1 M1196.7,2363.1 L1196.7,2372.6 " stroke="#e9605a" stroke-width="1.6" fill="none"/>
<path d="M1506.5,2336.0 L1509.8,2344.9 M1508.1,2340.4 L1499.2,2343.7 M1502.7,2353.3 L1506.0,2362.2 M1504.3,2357.8 L1513.3,2354.5 M1516.8,2364.2 L1520.0,2373.1 M1518.4,2368.6 L1509.5,2371.9 M1513.0,2381.5 L1516.2,2390.4 M1514.6,2386.0 L1523.5,2382.7 M1527.0,2392.4 L1530.3,2401.3 M1528.7,2396.8 L1519.7,2400.1 M1523.2,2409.7 L1526.5,2418.6 M1524.9,2414.2 L1533.8,2410.9 " stroke="#e9605a" stroke-width="1.6" fill="none"/>
<path d="M203.8,2526.1 L232.2,2535.9 M218.0,2531.0 L225.8,2508.3" stroke="#e8262c" stroke-width="2.6" fill="none"/>
<path d="M1346.5,2494.0 L1362.1,2500.9 M1354.3,2497.5 L1347.4,2513.0 M1356.7,2517.1 L1372.2,2524.0 M1364.4,2520.6 L1371.4,2505.1 M1380.6,2509.2 L1396.2,2516.1 M1388.4,2512.6 L1381.5,2528.2 M1390.8,2532.3 L1406.3,2539.2 M1398.5,2535.8 L1405.5,2520.2 M1414.7,2524.4 L1430.3,2531.3 M1422.5,2527.8 L1415.6,2543.4 M1424.9,2547.5 L1440.4,2554.4 M1432.6,2550.9 L1439.6,2535.4 M1448.9,2539.6 L1464.4,2546.5 M1456.6,2543.0 L1449.7,2558.5 " stroke="#e8343a" stroke-width="2.2" fill="none"/>
<line x1="125.8" y1="1733" x2="125.8" y2="2469" stroke="#6d6e71" stroke-width="2.2"/>
<polygon points="125.8,1719 117.8,1738 133.8,1738" fill="#111"/>
<polygon points="125.8,2483 117.8,2464 133.8,2464" fill="#111"/>
<line x1="1987" y1="1734" x2="1987" y2="2453" stroke="#6d6e71" stroke-width="1.6"/>
<polygon points="1987,1720 1979,1739 1995,1739" fill="#111"/>
<polygon points="1987,2467 1979,2448 1995,2448" fill="#111"/>
<text x="553.5" y="1692.6" font-size="38.7" text-anchor="middle" fill="#231f20" >As-printed Zn</text>
<text x="1448.7" y="1693.0" font-size="38.7" text-anchor="middle" fill="#231f20" >After plastic deformation</text>
<text x="1874.5" y="1778.0" font-size="38.7" text-anchor="start" fill="#231f20" >CGs</text>
<text x="1874.5" y="1873.5" font-size="38.7" text-anchor="start" fill="#231f20" >FGs</text>
<text x="1874.5" y="2067.0" font-size="38.7" text-anchor="start" fill="#231f20" >CGs</text>
<text x="1874.5" y="2249.0" font-size="38.7" text-anchor="start" fill="#231f20" >FGs</text>
<text x="1874.5" y="2368.0" font-size="38.7" text-anchor="start" fill="#231f20" >CGs</text>
<text transform="translate(108.4,2101) rotate(-90)" font-size="38.7" text-anchor="middle" fill="#231f20">Tensile direction</text>
<text transform="translate(2035,2106) rotate(-90)" font-size="38.7" text-anchor="middle" fill="#231f20">Grain size gradient</text>
<text x="2.0" y="1683.5" font-size="38.7" text-anchor="start" fill="#231f20" >(e)</text>
<text x="275.0" y="2539.5" font-size="38.7" text-anchor="start" fill="#231f20" >Pre-existing dislocation</text>
<text x="901.0" y="2535.7" font-size="38.7" text-anchor="start" fill="#231f20" >Deformation twin</text>
<text x="1481.6" y="2539.0" font-size="38.7" text-anchor="start" fill="#231f20" >Deformation dislocation</text>
<line x1="828.5" y1="2497.5" x2="862.5" y2="2544" stroke="#161213" stroke-width="8" stroke-linecap="butt"/>
<rect x="60.5" y="1646" width="2037" height="931.5" fill="none" stroke="#8a8a8a" stroke-width="1.6" stroke-dasharray="2 2.5"/>
</svg></body></html>
